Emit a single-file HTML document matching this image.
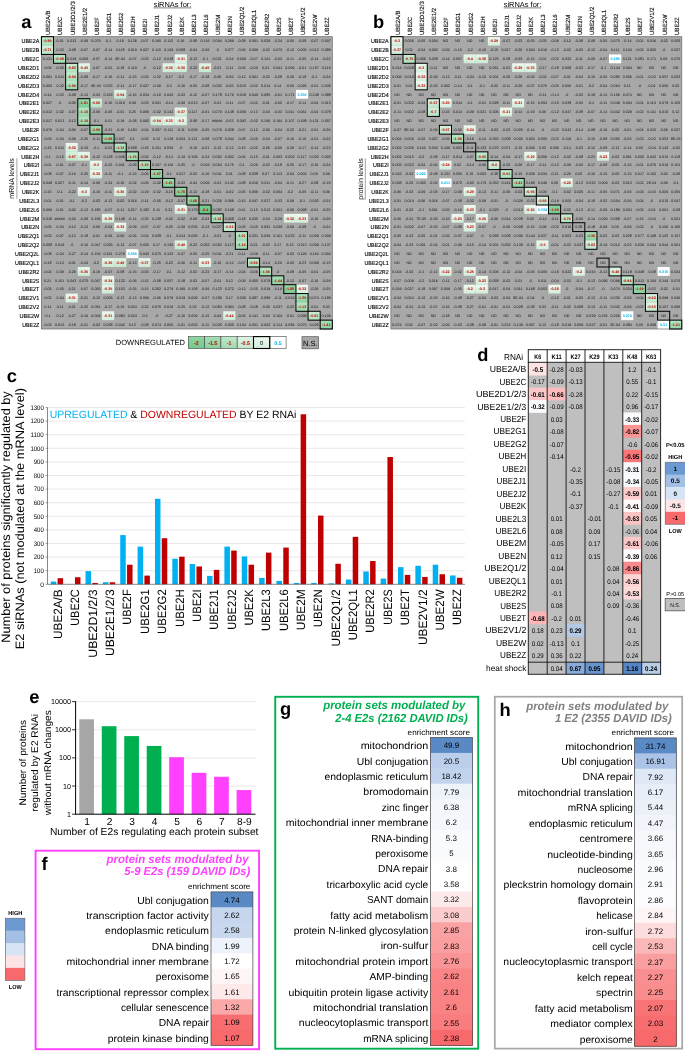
<!DOCTYPE html>
<html lang="en"><head><meta charset="utf-8"><title>Figure</title>
<style>
html,body{margin:0;padding:0;background:#fff;}
body{width:685px;height:1051px;overflow:hidden;position:relative;}
svg{position:absolute;left:0;top:0;display:block;font-family:"Liberation Sans",Arial,Helvetica,sans-serif;fill:#000;}
svg text{white-space:pre;text-rendering:geometricPrecision;}
</style></head><body>
<svg width="685" height="1051" viewBox="0 0 685 1051">
<defs>
<linearGradient id="gd" x1="0" y1="0" x2="0" y2="1"><stop offset="0" stop-color="#d6eedc"/><stop offset="1" stop-color="#9ad7ab"/></linearGradient>
<linearGradient id="gd2" x1="0" y1="0" x2="0" y2="1"><stop offset="0" stop-color="#a5dbb4"/><stop offset="1" stop-color="#57b974"/></linearGradient>
<linearGradient id="gl" x1="0" y1="0" x2="0" y2="1"><stop offset="0" stop-color="#ecf7ef"/><stop offset="1" stop-color="#d3ecd9"/></linearGradient>
<linearGradient id="lg" x1="0" y1="0" x2="0" y2="1"><stop offset="0" stop-color="#5585c5"/><stop offset="0.2" stop-color="#7fa5d9"/><stop offset="0.4" stop-color="#c3d4ee"/><stop offset="0.58" stop-color="#f4f6fc"/><stop offset="0.62" stop-color="#fdeeee"/><stop offset="0.8" stop-color="#fbc6c7"/><stop offset="0.81" stop-color="#f98384"/><stop offset="1" stop-color="#f8696b"/></linearGradient>
</defs>
<defs><linearGradient id="g9" x1="0" y1="0" x2="0" y2="1"><stop offset="0" stop-color="#c6ebd0"/><stop offset="1" stop-color="#a7deb7"/></linearGradient><linearGradient id="g7" x1="0" y1="0" x2="0" y2="1"><stop offset="0" stop-color="#d3f0db"/><stop offset="1" stop-color="#b5e3c3"/></linearGradient><linearGradient id="g10" x1="0" y1="0" x2="0" y2="1"><stop offset="0" stop-color="#bfe9ca"/><stop offset="1" stop-color="#a0dbb1"/></linearGradient><linearGradient id="g3" x1="0" y1="0" x2="0" y2="1"><stop offset="0" stop-color="#eef9f0"/><stop offset="1" stop-color="#d2edda"/></linearGradient><linearGradient id="g8" x1="0" y1="0" x2="0" y2="1"><stop offset="0" stop-color="#ccedd5"/><stop offset="1" stop-color="#aee0bd"/></linearGradient><linearGradient id="g4" x1="0" y1="0" x2="0" y2="1"><stop offset="0" stop-color="#e7f7eb"/><stop offset="1" stop-color="#cbead4"/></linearGradient><linearGradient id="g5" x1="0" y1="0" x2="0" y2="1"><stop offset="0" stop-color="#e1f4e5"/><stop offset="1" stop-color="#c4e8ce"/></linearGradient><linearGradient id="g11" x1="0" y1="0" x2="0" y2="1"><stop offset="0" stop-color="#b8e6c5"/><stop offset="1" stop-color="#98d9ab"/></linearGradient><linearGradient id="g18" x1="0" y1="0" x2="0" y2="1"><stop offset="0" stop-color="#98daab"/><stop offset="1" stop-color="#7acd93"/></linearGradient><linearGradient id="g12" x1="0" y1="0" x2="0" y2="1"><stop offset="0" stop-color="#b3e5c1"/><stop offset="1" stop-color="#94d7a7"/></linearGradient><linearGradient id="g16" x1="0" y1="0" x2="0" y2="1"><stop offset="0" stop-color="#a1ddb2"/><stop offset="1" stop-color="#83d09a"/></linearGradient><linearGradient id="g17" x1="0" y1="0" x2="0" y2="1"><stop offset="0" stop-color="#9ddcaf"/><stop offset="1" stop-color="#7fce97"/></linearGradient><linearGradient id="g6" x1="0" y1="0" x2="0" y2="1"><stop offset="0" stop-color="#daf2e0"/><stop offset="1" stop-color="#bce5c8"/></linearGradient><linearGradient id="g24" x1="0" y1="0" x2="0" y2="1"><stop offset="0" stop-color="#7dcf95"/><stop offset="1" stop-color="#61c37f"/></linearGradient><linearGradient id="g14" x1="0" y1="0" x2="0" y2="1"><stop offset="0" stop-color="#aae1ba"/><stop offset="1" stop-color="#8bd3a1"/></linearGradient><linearGradient id="g19" x1="0" y1="0" x2="0" y2="1"><stop offset="0" stop-color="#94d8a7"/><stop offset="1" stop-color="#76cb90"/></linearGradient><linearGradient id="g20" x1="0" y1="0" x2="0" y2="1"><stop offset="0" stop-color="#8fd6a4"/><stop offset="1" stop-color="#72ca8c"/></linearGradient><linearGradient id="g15" x1="0" y1="0" x2="0" y2="1"><stop offset="0" stop-color="#a6dfb6"/><stop offset="1" stop-color="#87d29d"/></linearGradient></defs>
<rect x="41.4" y="36.7" width="290.9" height="292.3" fill="#a8a8a8"/>
<rect x="41.4" y="36.7" width="12.12" height="8.86" fill="url(#g9)"/>
<rect x="41.4" y="45.56" width="12.12" height="8.86" fill="url(#g7)"/>
<rect x="53.52" y="54.42" width="12.12" height="8.86" fill="url(#g10)"/>
<rect x="174.73" y="54.42" width="12.12" height="8.86" fill="url(#g3)"/>
<rect x="65.64" y="63.27" width="12.12" height="8.86" fill="url(#g8)"/>
<rect x="77.76" y="63.27" width="12.12" height="8.86" fill="url(#g4)"/>
<rect x="162.61" y="63.27" width="12.12" height="8.86" fill="url(#g4)"/>
<rect x="174.73" y="63.27" width="12.12" height="8.86" fill="url(#g4)"/>
<rect x="198.97" y="63.27" width="12.12" height="8.86" fill="url(#g5)"/>
<rect x="65.64" y="72.13" width="12.12" height="8.86" fill="url(#g9)"/>
<rect x="65.64" y="80.99" width="12.12" height="8.86" fill="url(#g11)"/>
<rect x="114.12" y="89.85" width="12.12" height="8.86" fill="url(#g5)"/>
<rect x="295.94" y="89.85" width="12.12" height="8.86" fill="#fff"/>
<rect x="77.76" y="98.7" width="12.12" height="8.86" fill="url(#g18)"/>
<rect x="89.88" y="98.7" width="12.12" height="8.86" fill="url(#g7)"/>
<rect x="77.76" y="107.56" width="12.12" height="8.86" fill="url(#g12)"/>
<rect x="174.73" y="107.56" width="12.12" height="8.86" fill="url(#g4)"/>
<rect x="77.76" y="116.42" width="12.12" height="8.86" fill="url(#g12)"/>
<rect x="150.49" y="116.42" width="12.12" height="8.86" fill="url(#g5)"/>
<rect x="162.61" y="116.42" width="12.12" height="8.86" fill="url(#g3)"/>
<rect x="174.73" y="116.42" width="12.12" height="8.86" fill="url(#g3)"/>
<rect x="89.88" y="125.28" width="12.12" height="8.86" fill="url(#g16)"/>
<rect x="102" y="134.13" width="12.12" height="8.86" fill="url(#g17)"/>
<rect x="65.64" y="142.99" width="12.12" height="8.86" fill="url(#g3)"/>
<rect x="114.12" y="142.99" width="12.12" height="8.86" fill="url(#g11)"/>
<rect x="65.64" y="151.85" width="12.12" height="8.86" fill="url(#g6)"/>
<rect x="77.76" y="151.85" width="12.12" height="8.86" fill="url(#g4)"/>
<rect x="126.25" y="151.85" width="12.12" height="8.86" fill="url(#g12)"/>
<rect x="89.88" y="160.71" width="12.12" height="8.86" fill="url(#g3)"/>
<rect x="138.37" y="160.71" width="12.12" height="8.86" fill="url(#g12)"/>
<rect x="89.88" y="169.56" width="12.12" height="8.86" fill="url(#g3)"/>
<rect x="150.49" y="169.56" width="12.12" height="8.86" fill="url(#g17)"/>
<rect x="162.61" y="178.42" width="12.12" height="8.86" fill="url(#g16)"/>
<rect x="77.76" y="187.28" width="12.12" height="8.86" fill="url(#g3)"/>
<rect x="114.12" y="187.28" width="12.12" height="8.86" fill="url(#g4)"/>
<rect x="174.73" y="187.28" width="12.12" height="8.86" fill="url(#g18)"/>
<rect x="186.85" y="196.14" width="12.12" height="8.86" fill="url(#g17)"/>
<rect x="174.73" y="204.99" width="12.12" height="8.86" fill="url(#g3)"/>
<rect x="198.97" y="204.99" width="12.12" height="8.86" fill="url(#g24)"/>
<rect x="102" y="213.85" width="12.12" height="8.86" fill="url(#g4)"/>
<rect x="211.09" y="213.85" width="12.12" height="8.86" fill="url(#g11)"/>
<rect x="283.82" y="213.85" width="12.12" height="8.86" fill="url(#g3)"/>
<rect x="295.94" y="213.85" width="12.12" height="8.86" fill="url(#g3)"/>
<rect x="114.12" y="222.71" width="12.12" height="8.86" fill="url(#g3)"/>
<rect x="223.21" y="222.71" width="12.12" height="8.86" fill="url(#g6)"/>
<rect x="235.33" y="231.57" width="12.12" height="8.86" fill="url(#g10)"/>
<rect x="174.73" y="240.42" width="12.12" height="8.86" fill="url(#g5)"/>
<rect x="235.33" y="240.42" width="12.12" height="8.86" fill="url(#g11)"/>
<rect x="126.25" y="249.28" width="12.12" height="8.86" fill="#fff"/>
<rect x="102" y="258.14" width="12.12" height="8.86" fill="url(#g4)"/>
<rect x="114.12" y="258.14" width="12.12" height="8.86" fill="url(#g5)"/>
<rect x="138.37" y="258.14" width="12.12" height="8.86" fill="url(#g4)"/>
<rect x="198.97" y="258.14" width="12.12" height="8.86" fill="url(#g3)"/>
<rect x="247.45" y="258.14" width="12.12" height="8.86" fill="url(#g9)"/>
<rect x="77.76" y="267" width="12.12" height="8.86" fill="url(#g4)"/>
<rect x="259.58" y="267" width="12.12" height="8.86" fill="url(#g11)"/>
<rect x="102" y="275.85" width="12.12" height="8.86" fill="url(#g3)"/>
<rect x="271.7" y="275.85" width="12.12" height="8.86" fill="url(#g14)"/>
<rect x="102" y="284.71" width="12.12" height="8.86" fill="url(#g4)"/>
<rect x="283.82" y="284.71" width="12.12" height="8.86" fill="url(#g19)"/>
<rect x="295.94" y="284.71" width="12.12" height="8.86" fill="url(#g3)"/>
<rect x="65.64" y="293.57" width="12.12" height="8.86" fill="url(#g3)"/>
<rect x="295.94" y="293.57" width="12.12" height="8.86" fill="url(#g14)"/>
<rect x="295.94" y="302.43" width="12.12" height="8.86" fill="url(#g11)"/>
<rect x="102" y="311.28" width="12.12" height="8.86" fill="url(#g3)"/>
<rect x="223.21" y="311.28" width="12.12" height="8.86" fill="url(#g4)"/>
<rect x="308.06" y="311.28" width="12.12" height="8.86" fill="url(#g8)"/>
<rect x="320.18" y="320.14" width="12.12" height="8.86" fill="url(#g14)"/>
<rect x="41.4" y="36.7" width="290.9" height="292.3" fill="none" stroke="#666" stroke-width="0.7"/>
<rect x="41.4" y="36.7" width="12.12" height="17.72" fill="none" stroke="#000" stroke-width="1"/>
<rect x="53.52" y="54.42" width="12.12" height="8.86" fill="none" stroke="#000" stroke-width="1"/>
<rect x="65.64" y="63.27" width="12.12" height="26.57" fill="none" stroke="#000" stroke-width="1"/>
<rect x="77.76" y="98.7" width="12.12" height="26.57" fill="none" stroke="#000" stroke-width="1"/>
<rect x="89.88" y="125.28" width="12.12" height="8.86" fill="none" stroke="#000" stroke-width="1"/>
<rect x="102" y="134.13" width="12.12" height="8.86" fill="none" stroke="#000" stroke-width="1"/>
<rect x="114.12" y="142.99" width="12.12" height="8.86" fill="none" stroke="#000" stroke-width="1"/>
<rect x="126.25" y="151.85" width="12.12" height="8.86" fill="none" stroke="#000" stroke-width="1"/>
<rect x="138.37" y="160.71" width="12.12" height="8.86" fill="none" stroke="#000" stroke-width="1"/>
<rect x="150.49" y="169.56" width="12.12" height="8.86" fill="none" stroke="#000" stroke-width="1"/>
<rect x="162.61" y="178.42" width="12.12" height="8.86" fill="none" stroke="#000" stroke-width="1"/>
<rect x="174.73" y="187.28" width="12.12" height="8.86" fill="none" stroke="#000" stroke-width="1"/>
<rect x="186.85" y="196.14" width="12.12" height="8.86" fill="none" stroke="#000" stroke-width="1"/>
<rect x="198.97" y="204.99" width="12.12" height="8.86" fill="none" stroke="#000" stroke-width="1"/>
<rect x="211.09" y="213.85" width="12.12" height="8.86" fill="none" stroke="#000" stroke-width="1"/>
<rect x="223.21" y="222.71" width="12.12" height="8.86" fill="none" stroke="#000" stroke-width="1"/>
<rect x="235.33" y="231.57" width="12.12" height="17.72" fill="none" stroke="#000" stroke-width="1"/>
<rect x="247.45" y="258.14" width="12.12" height="8.86" fill="none" stroke="#000" stroke-width="1"/>
<rect x="259.58" y="267" width="12.12" height="8.86" fill="none" stroke="#000" stroke-width="1"/>
<rect x="271.7" y="275.85" width="12.12" height="8.86" fill="none" stroke="#000" stroke-width="1"/>
<rect x="283.82" y="284.71" width="12.12" height="8.86" fill="none" stroke="#000" stroke-width="1"/>
<rect x="295.94" y="293.57" width="12.12" height="17.72" fill="none" stroke="#000" stroke-width="1"/>
<rect x="308.06" y="311.28" width="12.12" height="8.86" fill="none" stroke="#000" stroke-width="1"/>
<rect x="320.18" y="320.14" width="12.12" height="8.86" fill="none" stroke="#000" stroke-width="1"/>
<g font-size="3.7" text-anchor="middle" fill="#111">
<text x="47.46" y="42.48" fill="#c00000" font-weight="bold">-0.89</text>
<text x="59.58" y="42.48">-0.01</text>
<text x="71.7" y="42.48">0.013</text>
<text x="83.82" y="42.48">-0.09</text>
<text x="95.94" y="42.48">0.079</text>
<text x="108.06" y="42.48">-0.1</text>
<text x="120.19" y="42.48">0.16</text>
<text x="132.31" y="42.48">0.136</text>
<text x="144.43" y="42.48">-0.07</text>
<text x="156.55" y="42.48">0.165</text>
<text x="168.67" y="42.48">0.112</text>
<text x="180.79" y="42.48">0.16</text>
<text x="192.91" y="42.48">-0.08</text>
<text x="205.03" y="42.48">0.116</text>
<text x="217.15" y="42.48">0.094</text>
<text x="229.27" y="42.48">0.269</text>
<text x="241.39" y="42.48">-0.08</text>
<text x="253.51" y="42.48">0.061</text>
<text x="265.64" y="42.48">0.029</text>
<text x="277.76" y="42.48">-0.24</text>
<text x="289.88" y="42.48">-0.05</text>
<text x="302" y="42.48">-0.08</text>
<text x="314.12" y="42.48">-0.07</text>
<text x="326.24" y="42.48">0.007</text>
<text x="47.46" y="51.34" fill="#c00000" font-weight="bold">-0.71</text>
<text x="59.58" y="51.34">-0.03</text>
<text x="71.7" y="51.34">-0.08</text>
<text x="83.82" y="51.34">-0.07</text>
<text x="95.94" y="51.34">-0.07</text>
<text x="108.06" y="51.34">-0.14</text>
<text x="120.19" y="51.34">0.118</text>
<text x="132.31" y="51.34">0.019</text>
<text x="144.43" y="51.34">0.027</text>
<text x="156.55" y="51.34">0.115</text>
<text x="168.67" y="51.34">0.109</text>
<text x="180.79" y="51.34">0.068</text>
<text x="192.91" y="51.34">-0.04</text>
<text x="205.03" y="51.34">-0.09</text>
<text x="217.15" y="51.34">-0</text>
<text x="229.27" y="51.34">0.077</text>
<text x="241.39" y="51.34">-0.06</text>
<text x="253.51" y="51.34">0.009</text>
<text x="265.64" y="51.34">-0.03</text>
<text x="277.76" y="51.34">0.075</text>
<text x="289.88" y="51.34">-0.12</text>
<text x="302" y="51.34">0.005</text>
<text x="314.12" y="51.34">0.012</text>
<text x="326.24" y="51.34">0.089</text>
<text x="47.46" y="60.19">0.131</text>
<text x="59.58" y="60.19" fill="#c00000" font-weight="bold">-0.98</text>
<text x="71.7" y="60.19">0.019</text>
<text x="83.82" y="60.19">0.005</text>
<text x="95.94" y="60.19">-0.07</text>
<text x="108.06" y="60.19">-0.14</text>
<text x="120.19" y="60.19">9E-04</text>
<text x="132.31" y="60.19">-0.07</text>
<text x="144.43" y="60.19">-0.03</text>
<text x="156.55" y="60.19">-0.12</text>
<text x="168.67" y="60.19">0.018</text>
<text x="180.79" y="60.19" fill="#c00000" font-weight="bold">-0.31</text>
<text x="192.91" y="60.19">-0.13</text>
<text x="205.03" y="60.19">-0.1</text>
<text x="217.15" y="60.19">0.021</text>
<text x="229.27" y="60.19">-0.04</text>
<text x="241.39" y="60.19">0.009</text>
<text x="253.51" y="60.19">-0.07</text>
<text x="265.64" y="60.19">0.101</text>
<text x="277.76" y="60.19">-0.03</text>
<text x="289.88" y="60.19">-0.11</text>
<text x="302" y="60.19">-0.05</text>
<text x="314.12" y="60.19">-0.14</text>
<text x="326.24" y="60.19">-0.02</text>
<text x="47.46" y="69.05">-0.06</text>
<text x="59.58" y="69.05">-0.05</text>
<text x="71.7" y="69.05" fill="#c00000" font-weight="bold">-0.83</text>
<text x="83.82" y="69.05" fill="#c00000" font-weight="bold">-0.43</text>
<text x="95.94" y="69.05">-0.07</text>
<text x="108.06" y="69.05">-0.01</text>
<text x="120.19" y="69.05">-0.18</text>
<text x="132.31" y="69.05">0.119</text>
<text x="144.43" y="69.05">-0</text>
<text x="156.55" y="69.05">-0.12</text>
<text x="168.67" y="69.05" fill="#c00000" font-weight="bold">-0.36</text>
<text x="180.79" y="69.05" fill="#c00000" font-weight="bold">-0.36</text>
<text x="192.91" y="69.05">-0.22</text>
<text x="205.03" y="69.05" fill="#c00000" font-weight="bold">-0.49</text>
<text x="217.15" y="69.05">-0.01</text>
<text x="229.27" y="69.05">-0.11</text>
<text x="241.39" y="69.05">-0.06</text>
<text x="253.51" y="69.05">-0.05</text>
<text x="265.64" y="69.05">0.01</text>
<text x="277.76" y="69.05">0.041</text>
<text x="289.88" y="69.05">0.069</text>
<text x="302" y="69.05">-0.01</text>
<text x="314.12" y="69.05">0.157</text>
<text x="326.24" y="69.05">0.116</text>
<text x="47.46" y="77.91">0.061</text>
<text x="59.58" y="77.91">0.011</text>
<text x="71.7" y="77.91" fill="#c00000" font-weight="bold">-0.94</text>
<text x="83.82" y="77.91">-0.08</text>
<text x="95.94" y="77.91">-0.17</text>
<text x="108.06" y="77.91">-0.16</text>
<text x="120.19" y="77.91">-0.11</text>
<text x="132.31" y="77.91">-0.15</text>
<text x="144.43" y="77.91">-0.03</text>
<text x="156.55" y="77.91">-0.32</text>
<text x="168.67" y="77.91">-0.17</text>
<text x="180.79" y="77.91">-0.2</text>
<text x="192.91" y="77.91">-0.17</text>
<text x="205.03" y="77.91">-0.18</text>
<text x="217.15" y="77.91">-0.06</text>
<text x="229.27" y="77.91">-0.06</text>
<text x="241.39" y="77.91">-0.12</text>
<text x="253.51" y="77.91">0.061</text>
<text x="265.64" y="77.91">-0.32</text>
<text x="277.76" y="77.91">-0.08</text>
<text x="289.88" y="77.91">-0.29</text>
<text x="302" y="77.91">-0.18</text>
<text x="314.12" y="77.91">-0.1</text>
<text x="326.24" y="77.91">-0.04</text>
<text x="47.46" y="86.77">0.003</text>
<text x="59.58" y="86.77">-0.32</text>
<text x="71.7" y="86.77" fill="#c00000" font-weight="bold">-1.06</text>
<text x="83.82" y="86.77">-0.17</text>
<text x="95.94" y="86.77">9E-04</text>
<text x="108.06" y="86.77">0.033</text>
<text x="120.19" y="86.77">-0.11</text>
<text x="132.31" y="86.77">-0.17</text>
<text x="144.43" y="86.77">0.027</text>
<text x="156.55" y="86.77">-0.09</text>
<text x="168.67" y="86.77">-0.3</text>
<text x="180.79" y="86.77">-0.16</text>
<text x="192.91" y="86.77">-0.05</text>
<text x="205.03" y="86.77">-0.08</text>
<text x="217.15" y="86.77">0.002</text>
<text x="229.27" y="86.77">-0.05</text>
<text x="241.39" y="86.77">0.015</text>
<text x="253.51" y="86.77">-0.02</text>
<text x="265.64" y="86.77">0.014</text>
<text x="277.76" y="86.77">0.14</text>
<text x="289.88" y="86.77">-0.05</text>
<text x="302" y="86.77">0.026</text>
<text x="314.12" y="86.77">-0.01</text>
<text x="326.24" y="86.77">0.036</text>
<text x="47.46" y="95.62">-0.14</text>
<text x="59.58" y="95.62">-0.03</text>
<text x="71.7" y="95.62">-0.08</text>
<text x="83.82" y="95.62">-0.13</text>
<text x="95.94" y="95.62">-0.24</text>
<text x="108.06" y="95.62">0.163</text>
<text x="120.19" y="95.62" fill="#c00000" font-weight="bold">-0.54</text>
<text x="132.31" y="95.62">-0.16</text>
<text x="144.43" y="95.62">0.034</text>
<text x="156.55" y="95.62">-0.19</text>
<text x="168.67" y="95.62">0.042</text>
<text x="180.79" y="95.62">-0.03</text>
<text x="192.91" y="95.62">-0.12</text>
<text x="205.03" y="95.62">-0.07</text>
<text x="217.15" y="95.62">0.178</text>
<text x="229.27" y="95.62">0.176</text>
<text x="241.39" y="95.62">0.018</text>
<text x="253.51" y="95.62">0.049</text>
<text x="265.64" y="95.62">0.085</text>
<text x="277.76" y="95.62">-0.01</text>
<text x="289.88" y="95.62">0.171</text>
<text x="302" y="95.62" fill="#00b0f0" font-weight="bold">0.336</text>
<text x="314.12" y="95.62">0.248</text>
<text x="326.24" y="95.62">0.088</text>
<text x="47.46" y="104.48">0.027</text>
<text x="59.58" y="104.48">-0</text>
<text x="71.7" y="104.48">-0.05</text>
<text x="83.82" y="104.48" fill="#c00000" font-weight="bold">-1.81</text>
<text x="95.94" y="104.48" fill="#c00000" font-weight="bold">-0.66</text>
<text x="108.06" y="104.48">-0.16</text>
<text x="120.19" y="104.48">0.019</text>
<text x="132.31" y="104.48">0.09</text>
<text x="144.43" y="104.48">-0.03</text>
<text x="156.55" y="104.48">0.001</text>
<text x="168.67" y="104.48">-0.14</text>
<text x="180.79" y="104.48">-0.09</text>
<text x="192.91" y="104.48">0.013</text>
<text x="205.03" y="104.48">-0.07</text>
<text x="217.15" y="104.48">-0.01</text>
<text x="229.27" y="104.48">-0.11</text>
<text x="241.39" y="104.48">-0.07</text>
<text x="253.51" y="104.48">-0.02</text>
<text x="265.64" y="104.48">-0.01</text>
<text x="277.76" y="104.48">-0.02</text>
<text x="289.88" y="104.48">-0.17</text>
<text x="302" y="104.48">-0.14</text>
<text x="314.12" y="104.48">-0.04</text>
<text x="326.24" y="104.48">0.013</text>
<text x="47.46" y="113.34">0.013</text>
<text x="59.58" y="113.34">-0.02</text>
<text x="71.7" y="113.34">-0.07</text>
<text x="83.82" y="113.34" fill="#c00000" font-weight="bold">-1.16</text>
<text x="95.94" y="113.34">-0.06</text>
<text x="108.06" y="113.34">-0.06</text>
<text x="120.19" y="113.34">-0.01</text>
<text x="132.31" y="113.34">0.25</text>
<text x="144.43" y="113.34">0.066</text>
<text x="156.55" y="113.34">-0.02</text>
<text x="168.67" y="113.34">0.142</text>
<text x="180.79" y="113.34" fill="#c00000" font-weight="bold">-0.37</text>
<text x="192.91" y="113.34">0.117</text>
<text x="205.03" y="113.34">-0.01</text>
<text x="217.15" y="113.34">0.079</text>
<text x="229.27" y="113.34">0.148</text>
<text x="241.39" y="113.34">0.059</text>
<text x="253.51" y="113.34">-0.13</text>
<text x="265.64" y="113.34">-0.04</text>
<text x="277.76" y="113.34">-0.03</text>
<text x="289.88" y="113.34">0.011</text>
<text x="302" y="113.34">0.061</text>
<text x="314.12" y="113.34">-0.04</text>
<text x="326.24" y="113.34">0.078</text>
<text x="47.46" y="122.2">0.017</text>
<text x="59.58" y="122.2">0.013</text>
<text x="71.7" y="122.2">-0.13</text>
<text x="83.82" y="122.2" fill="#c00000" font-weight="bold">-1.16</text>
<text x="95.94" y="122.2">-0.1</text>
<text x="108.06" y="122.2">-0.01</text>
<text x="120.19" y="122.2">-0.19</text>
<text x="132.31" y="122.2">-0.08</text>
<text x="144.43" y="122.2">0.092</text>
<text x="156.55" y="122.2" fill="#c00000" font-weight="bold">-0.54</text>
<text x="168.67" y="122.2" fill="#c00000" font-weight="bold">-0.33</text>
<text x="180.79" y="122.2" fill="#c00000" font-weight="bold">-0.3</text>
<text x="192.91" y="122.2">-0.08</text>
<text x="205.03" y="122.2">-0.17</text>
<text x="217.15" y="122.2">#####</text>
<text x="229.27" y="122.2">-0.03</text>
<text x="241.39" y="122.2">0.093</text>
<text x="253.51" y="122.2">-0.02</text>
<text x="265.64" y="122.2">0.166</text>
<text x="277.76" y="122.2">0.194</text>
<text x="289.88" y="122.2">0.107</text>
<text x="302" y="122.2">0.198</text>
<text x="314.12" y="122.2">0.121</text>
<text x="326.24" y="122.2">0.057</text>
<text x="47.46" y="131.05">0.076</text>
<text x="59.58" y="131.05">-0.04</text>
<text x="71.7" y="131.05">-0.06</text>
<text x="83.82" y="131.05">-0.07</text>
<text x="95.94" y="131.05" fill="#c00000" font-weight="bold">-1.59</text>
<text x="108.06" y="131.05">-0.21</text>
<text x="120.19" y="131.05">-0.16</text>
<text x="132.31" y="131.05">0.184</text>
<text x="144.43" y="131.05">-0.04</text>
<text x="156.55" y="131.05">0.007</text>
<text x="168.67" y="131.05">0.111</text>
<text x="180.79" y="131.05">-0.11</text>
<text x="192.91" y="131.05">0.069</text>
<text x="205.03" y="131.05">-0.05</text>
<text x="217.15" y="131.05">0.079</text>
<text x="229.27" y="131.05">0.028</text>
<text x="241.39" y="131.05">-0.07</text>
<text x="253.51" y="131.05">-0.12</text>
<text x="265.64" y="131.05">-0.05</text>
<text x="277.76" y="131.05">-0.04</text>
<text x="289.88" y="131.05">-0.23</text>
<text x="302" y="131.05">-0.21</text>
<text x="314.12" y="131.05">-0.01</text>
<text x="326.24" y="131.05">-0.06</text>
<text x="47.46" y="139.91">-0.09</text>
<text x="59.58" y="139.91">-0.04</text>
<text x="71.7" y="139.91">-0.09</text>
<text x="83.82" y="139.91">-0.25</text>
<text x="95.94" y="139.91">-0.11</text>
<text x="108.06" y="139.91" fill="#c00000" font-weight="bold">-1.68</text>
<text x="120.19" y="139.91">0.047</text>
<text x="132.31" y="139.91">0.1</text>
<text x="144.43" y="139.91">-0.02</text>
<text x="156.55" y="139.91">0.13</text>
<text x="168.67" y="139.91">0.129</text>
<text x="180.79" y="139.91">0.054</text>
<text x="192.91" y="139.91">0.121</text>
<text x="205.03" y="139.91">-0.08</text>
<text x="217.15" y="139.91">0.078</text>
<text x="229.27" y="139.91">0.044</text>
<text x="241.39" y="139.91">-0.08</text>
<text x="253.51" y="139.91">-0.06</text>
<text x="265.64" y="139.91">-0.04</text>
<text x="277.76" y="139.91">-0.07</text>
<text x="289.88" y="139.91">-0.16</text>
<text x="302" y="139.91">-0.16</text>
<text x="314.12" y="139.91">-0.01</text>
<text x="326.24" y="139.91">-0.02</text>
<text x="47.46" y="148.77">-0.15</text>
<text x="59.58" y="148.77">0.011</text>
<text x="71.7" y="148.77" fill="#c00000" font-weight="bold">-0.32</text>
<text x="83.82" y="148.77">-0.15</text>
<text x="95.94" y="148.77">-0.1</text>
<text x="108.06" y="148.77">-0.01</text>
<text x="120.19" y="148.77" fill="#c00000" font-weight="bold">-1.13</text>
<text x="132.31" y="148.77">0.058</text>
<text x="144.43" y="148.77">-0.18</text>
<text x="156.55" y="148.77">0.151</text>
<text x="168.67" y="148.77">0.055</text>
<text x="180.79" y="148.77">-0</text>
<text x="192.91" y="148.77">-0.19</text>
<text x="205.03" y="148.77">-0.01</text>
<text x="217.15" y="148.77">-0.13</text>
<text x="229.27" y="148.77">-0.12</text>
<text x="241.39" y="148.77">-0.15</text>
<text x="253.51" y="148.77">-0.02</text>
<text x="265.64" y="148.77">-0.26</text>
<text x="277.76" y="148.77">-0.09</text>
<text x="289.88" y="148.77">-0.29</text>
<text x="302" y="148.77">-0.17</text>
<text x="314.12" y="148.77">-0.14</text>
<text x="326.24" y="148.77">-0.03</text>
<text x="47.46" y="157.63">-0.1</text>
<text x="59.58" y="157.63">-0.15</text>
<text x="71.7" y="157.63" fill="#c00000" font-weight="bold">-0.57</text>
<text x="83.82" y="157.63" fill="#c00000" font-weight="bold">-0.39</text>
<text x="95.94" y="157.63">-0.12</text>
<text x="108.06" y="157.63">0.138</text>
<text x="120.19" y="157.63">0.046</text>
<text x="132.31" y="157.63" fill="#c00000" font-weight="bold">-1.15</text>
<text x="144.43" y="157.63">-0.02</text>
<text x="156.55" y="157.63">-0.12</text>
<text x="168.67" y="157.63">-0.14</text>
<text x="180.79" y="157.63">-0.19</text>
<text x="192.91" y="157.63">0.156</text>
<text x="205.03" y="157.63">-0.24</text>
<text x="217.15" y="157.63">0.062</text>
<text x="229.27" y="157.63">0.003</text>
<text x="241.39" y="157.63">-0.04</text>
<text x="253.51" y="157.63">-0.15</text>
<text x="265.64" y="157.63">-0.01</text>
<text x="277.76" y="157.63">0.063</text>
<text x="289.88" y="157.63">0.002</text>
<text x="302" y="157.63">0.117</text>
<text x="314.12" y="157.63">0.003</text>
<text x="326.24" y="157.63">0.003</text>
<text x="47.46" y="166.48">-0.01</text>
<text x="59.58" y="166.48">-0.01</text>
<text x="71.7" y="166.48">-0.07</text>
<text x="83.82" y="166.48">-0.1</text>
<text x="95.94" y="166.48" fill="#c00000" font-weight="bold">-0.3</text>
<text x="108.06" y="166.48">-0.22</text>
<text x="120.19" y="166.48">0.041</text>
<text x="132.31" y="166.48">-0.06</text>
<text x="144.43" y="166.48" fill="#c00000" font-weight="bold">-1.16</text>
<text x="156.55" y="166.48">0.157</text>
<text x="168.67" y="166.48">0.119</text>
<text x="180.79" y="166.48">-0.05</text>
<text x="192.91" y="166.48">-0</text>
<text x="205.03" y="166.48">0.016</text>
<text x="217.15" y="166.48">0.054</text>
<text x="229.27" y="166.48">0.175</text>
<text x="241.39" y="166.48">-0.1</text>
<text x="253.51" y="166.48">-0.06</text>
<text x="265.64" y="166.48">-0.03</text>
<text x="277.76" y="166.48">-0.18</text>
<text x="289.88" y="166.48">-0.25</text>
<text x="302" y="166.48">-0.17</text>
<text x="314.12" y="166.48">-0.16</text>
<text x="326.24" y="166.48">-0.04</text>
<text x="47.46" y="175.34">-0.08</text>
<text x="59.58" y="175.34">-0.07</text>
<text x="71.7" y="175.34">-0.16</text>
<text x="83.82" y="175.34">-0.25</text>
<text x="95.94" y="175.34" fill="#c00000" font-weight="bold">-0.32</text>
<text x="108.06" y="175.34">-0.11</text>
<text x="120.19" y="175.34">-0.1</text>
<text x="132.31" y="175.34">-0.15</text>
<text x="144.43" y="175.34">-0.06</text>
<text x="156.55" y="175.34" fill="#c00000" font-weight="bold">-1.67</text>
<text x="168.67" y="175.34">-0.1</text>
<text x="180.79" y="175.34">0.017</text>
<text x="192.91" y="175.34">-0.03</text>
<text x="205.03" y="175.34">-0.16</text>
<text x="217.15" y="175.34">0.041</text>
<text x="229.27" y="175.34">0.01</text>
<text x="241.39" y="175.34">-0.08</text>
<text x="253.51" y="175.34">0.038</text>
<text x="265.64" y="175.34">0.07</text>
<text x="277.76" y="175.34">0.113</text>
<text x="289.88" y="175.34">-0.04</text>
<text x="302" y="175.34">0.002</text>
<text x="314.12" y="175.34">0.05</text>
<text x="326.24" y="175.34">0.09</text>
<text x="47.46" y="184.2">0.048</text>
<text x="59.58" y="184.2">0.027</text>
<text x="71.7" y="184.2">-0.11</text>
<text x="83.82" y="184.2">-0.14</text>
<text x="95.94" y="184.2">-0.06</text>
<text x="108.06" y="184.2">-0.24</text>
<text x="120.19" y="184.2">-0.16</text>
<text x="132.31" y="184.2">-0.02</text>
<text x="144.43" y="184.2">-0.06</text>
<text x="156.55" y="184.2">-0.02</text>
<text x="168.67" y="184.2" fill="#c00000" font-weight="bold">-1.61</text>
<text x="180.79" y="184.2">-0.03</text>
<text x="192.91" y="184.2">-0.04</text>
<text x="205.03" y="184.2">0.006</text>
<text x="217.15" y="184.2">-0.01</text>
<text x="229.27" y="184.2">0.143</text>
<text x="241.39" y="184.2">-0.08</text>
<text x="253.51" y="184.2">0.016</text>
<text x="265.64" y="184.2">0.011</text>
<text x="277.76" y="184.2">-0.04</text>
<text x="289.88" y="184.2">-0.11</text>
<text x="302" y="184.2">-0.27</text>
<text x="314.12" y="184.2">-0.08</text>
<text x="326.24" y="184.2">-0.19</text>
<text x="47.46" y="193.06">-0.15</text>
<text x="59.58" y="193.06">-0.1</text>
<text x="71.7" y="193.06">-0.22</text>
<text x="83.82" y="193.06" fill="#c00000" font-weight="bold">-0.3</text>
<text x="95.94" y="193.06">-0.16</text>
<text x="108.06" y="193.06">-0.11</text>
<text x="120.19" y="193.06" fill="#c00000" font-weight="bold">-0.36</text>
<text x="132.31" y="193.06">-0.02</text>
<text x="144.43" y="193.06">-0.19</text>
<text x="156.55" y="193.06">-0.02</text>
<text x="168.67" y="193.06">-0.15</text>
<text x="180.79" y="193.06" fill="#c00000" font-weight="bold">-1.76</text>
<text x="192.91" y="193.06">-0.13</text>
<text x="205.03" y="193.06">-0.18</text>
<text x="217.15" y="193.06">-0.01</text>
<text x="229.27" y="193.06">-0.02</text>
<text x="241.39" y="193.06">-0.05</text>
<text x="253.51" y="193.06">0.056</text>
<text x="265.64" y="193.06">-0.02</text>
<text x="277.76" y="193.06">0.064</text>
<text x="289.88" y="193.06">-0.2</text>
<text x="302" y="193.06">-0.05</text>
<text x="314.12" y="193.06">-0.11</text>
<text x="326.24" y="193.06">0.06</text>
<text x="47.46" y="201.92">-0.01</text>
<text x="59.58" y="201.92">-0.01</text>
<text x="71.7" y="201.92">-0.1</text>
<text x="83.82" y="201.92">-0.2</text>
<text x="95.94" y="201.92">-0.03</text>
<text x="108.06" y="201.92">-0.13</text>
<text x="120.19" y="201.92">-0.02</text>
<text x="132.31" y="201.92">0.016</text>
<text x="144.43" y="201.92">-0.11</text>
<text x="156.55" y="201.92">-0.05</text>
<text x="168.67" y="201.92">-0.12</text>
<text x="180.79" y="201.92">-0.07</text>
<text x="192.91" y="201.92" fill="#c00000" font-weight="bold">-1.68</text>
<text x="205.03" y="201.92">-0.21</text>
<text x="217.15" y="201.92">0.026</text>
<text x="229.27" y="201.92">0.066</text>
<text x="241.39" y="201.92">-0.15</text>
<text x="253.51" y="201.92">0.047</text>
<text x="265.64" y="201.92">0.037</text>
<text x="277.76" y="201.92">-0.03</text>
<text x="289.88" y="201.92">-0.09</text>
<text x="302" y="201.92">-0.1</text>
<text x="314.12" y="201.92">0.002</text>
<text x="326.24" y="201.92">-0.01</text>
<text x="47.46" y="210.77">0.009</text>
<text x="59.58" y="210.77">-0.01</text>
<text x="71.7" y="210.77">-0.02</text>
<text x="83.82" y="210.77">-0.13</text>
<text x="95.94" y="210.77">0.185</text>
<text x="108.06" y="210.77">-0.07</text>
<text x="120.19" y="210.77">-0.11</text>
<text x="132.31" y="210.77">0.217</text>
<text x="144.43" y="210.77">0.182</text>
<text x="156.55" y="210.77">0.11</text>
<text x="168.67" y="210.77">0.21</text>
<text x="180.79" y="210.77" fill="#c00000" font-weight="bold">-0.31</text>
<text x="192.91" y="210.77">0.179</text>
<text x="205.03" y="210.77" fill="#c00000" font-weight="bold">-2.4</text>
<text x="217.15" y="210.77">0.082</text>
<text x="229.27" y="210.77">0.108</text>
<text x="241.39" y="210.77">-0.01</text>
<text x="253.51" y="210.77">-0.15</text>
<text x="265.64" y="210.77">0.012</text>
<text x="277.76" y="210.77">0.061</text>
<text x="289.88" y="210.77">-0.06</text>
<text x="302" y="210.77">0.098</text>
<text x="314.12" y="210.77">-0.01</text>
<text x="326.24" y="210.77">-0.05</text>
<text x="47.46" y="219.63">0.018</text>
<text x="59.58" y="219.63">#####</text>
<text x="71.7" y="219.63">-0.04</text>
<text x="83.82" y="219.63">-0.08</text>
<text x="95.94" y="219.63">0.156</text>
<text x="108.06" y="219.63" fill="#c00000" font-weight="bold">-0.39</text>
<text x="120.19" y="219.63">0.148</text>
<text x="132.31" y="219.63">-0.14</text>
<text x="144.43" y="219.63">-0.25</text>
<text x="156.55" y="219.63">0.138</text>
<text x="168.67" y="219.63">-0.02</text>
<text x="180.79" y="219.63">-0.02</text>
<text x="192.91" y="219.63">-0.09</text>
<text x="205.03" y="219.63">-0.03</text>
<text x="217.15" y="219.63" fill="#c00000" font-weight="bold">-1.12</text>
<text x="229.27" y="219.63">0.008</text>
<text x="241.39" y="219.63">-0.18</text>
<text x="253.51" y="219.63">0.035</text>
<text x="265.64" y="219.63">-0.04</text>
<text x="277.76" y="219.63">-0.29</text>
<text x="289.88" y="219.63" fill="#c00000" font-weight="bold">-0.32</text>
<text x="302" y="219.63" fill="#c00000" font-weight="bold">-0.33</text>
<text x="314.12" y="219.63">-0.16</text>
<text x="326.24" y="219.63">-0.06</text>
<text x="47.46" y="228.49">-0.05</text>
<text x="59.58" y="228.49">-0.04</text>
<text x="71.7" y="228.49">-0.12</text>
<text x="83.82" y="228.49">-0.13</text>
<text x="95.94" y="228.49">-0.06</text>
<text x="108.06" y="228.49">-0.04</text>
<text x="120.19" y="228.49" fill="#c00000" font-weight="bold">-0.32</text>
<text x="132.31" y="228.49">-0.09</text>
<text x="144.43" y="228.49">-0.07</text>
<text x="156.55" y="228.49">-0.07</text>
<text x="168.67" y="228.49">-0.25</text>
<text x="180.79" y="228.49">-0.29</text>
<text x="192.91" y="228.49">0.055</text>
<text x="205.03" y="228.49">-0.13</text>
<text x="217.15" y="228.49">0.027</text>
<text x="229.27" y="228.49" fill="#c00000" font-weight="bold">-0.62</text>
<text x="241.39" y="228.49">-0.06</text>
<text x="253.51" y="228.49">-0.05</text>
<text x="265.64" y="228.49">0.091</text>
<text x="277.76" y="228.49">0.029</text>
<text x="289.88" y="228.49">-0.09</text>
<text x="302" y="228.49">-0.08</text>
<text x="314.12" y="228.49">-0</text>
<text x="326.24" y="228.49">-0.01</text>
<text x="47.46" y="237.35">-0.03</text>
<text x="59.58" y="237.35">-0.07</text>
<text x="71.7" y="237.35">-0.13</text>
<text x="83.82" y="237.35">-0.18</text>
<text x="95.94" y="237.35">-0.01</text>
<text x="108.06" y="237.35">-0.06</text>
<text x="120.19" y="237.35">-0.06</text>
<text x="132.31" y="237.35">-0.05</text>
<text x="144.43" y="237.35">-0.04</text>
<text x="156.55" y="237.35">0.028</text>
<text x="168.67" y="237.35">-0.1</text>
<text x="180.79" y="237.35">0.014</text>
<text x="192.91" y="237.35">0.065</text>
<text x="205.03" y="237.35">-0.1</text>
<text x="217.15" y="237.35">-0.01</text>
<text x="229.27" y="237.35">-0</text>
<text x="241.39" y="237.35" fill="#c00000" font-weight="bold">-1.01</text>
<text x="253.51" y="237.35">0.221</text>
<text x="265.64" y="237.35">0.059</text>
<text x="277.76" y="237.35">0.101</text>
<text x="289.88" y="237.35">0.033</text>
<text x="302" y="237.35">-0.11</text>
<text x="314.12" y="237.35">0.009</text>
<text x="326.24" y="237.35">0.009</text>
<text x="47.46" y="246.2">0.008</text>
<text x="59.58" y="246.2">0.019</text>
<text x="71.7" y="246.2">-0</text>
<text x="83.82" y="246.2">-0.16</text>
<text x="95.94" y="246.2">0.047</text>
<text x="108.06" y="246.2">0.026</text>
<text x="120.19" y="246.2">-0.13</text>
<text x="132.31" y="246.2">-0.07</text>
<text x="144.43" y="246.2">0.025</text>
<text x="156.55" y="246.2">0.17</text>
<text x="168.67" y="246.2">0.155</text>
<text x="180.79" y="246.2" fill="#c00000" font-weight="bold">-0.49</text>
<text x="192.91" y="246.2">-0.22</text>
<text x="205.03" y="246.2">0.053</text>
<text x="217.15" y="246.2">0.063</text>
<text x="229.27" y="246.2">0.117</text>
<text x="241.39" y="246.2" fill="#c00000" font-weight="bold">-1.14</text>
<text x="253.51" y="246.2">-0.21</text>
<text x="265.64" y="246.2">-0.03</text>
<text x="277.76" y="246.2">0.17</text>
<text x="289.88" y="246.2">0.15</text>
<text x="302" y="246.2">0.213</text>
<text x="314.12" y="246.2">0.009</text>
<text x="326.24" y="246.2">0.137</text>
<text x="47.46" y="255.06">-0.08</text>
<text x="59.58" y="255.06">-0.24</text>
<text x="71.7" y="255.06">-0.27</text>
<text x="83.82" y="255.06">-0.14</text>
<text x="95.94" y="255.06">0.154</text>
<text x="108.06" y="255.06">0.161</text>
<text x="120.19" y="255.06">0.279</text>
<text x="132.31" y="255.06" fill="#00b0f0" font-weight="bold">0.355</text>
<text x="144.43" y="255.06">0.045</text>
<text x="156.55" y="255.06">0.075</text>
<text x="168.67" y="255.06">0.103</text>
<text x="180.79" y="255.06">-0.07</text>
<text x="192.91" y="255.06">-0.05</text>
<text x="205.03" y="255.06">-0.25</text>
<text x="217.15" y="255.06">0.041</text>
<text x="229.27" y="255.06">-0.31</text>
<text x="241.39" y="255.06">-0.11</text>
<text x="253.51" y="255.06">-0.09</text>
<text x="265.64" y="255.06">-0.11</text>
<text x="277.76" y="255.06">-0.07</text>
<text x="289.88" y="255.06">-0.03</text>
<text x="302" y="255.06">0.129</text>
<text x="314.12" y="255.06">0.119</text>
<text x="326.24" y="255.06">0.002</text>
<text x="47.46" y="263.92">-0.18</text>
<text x="59.58" y="263.92">-0.13</text>
<text x="71.7" y="263.92">-0.01</text>
<text x="83.82" y="263.92">-0.24</text>
<text x="95.94" y="263.92">-0.2</text>
<text x="108.06" y="263.92" fill="#c00000" font-weight="bold">-0.36</text>
<text x="120.19" y="263.92" fill="#c00000" font-weight="bold">-0.49</text>
<text x="132.31" y="263.92">-0.13</text>
<text x="144.43" y="263.92" fill="#c00000" font-weight="bold">-0.37</text>
<text x="156.55" y="263.92">-0.25</text>
<text x="168.67" y="263.92">-0.23</text>
<text x="180.79" y="263.92">-0.26</text>
<text x="192.91" y="263.92">-0.11</text>
<text x="205.03" y="263.92" fill="#c00000" font-weight="bold">-0.33</text>
<text x="217.15" y="263.92">-0.16</text>
<text x="229.27" y="263.92">-0.12</text>
<text x="241.39" y="263.92">-0.07</text>
<text x="253.51" y="263.92" fill="#c00000" font-weight="bold">-0.86</text>
<text x="265.64" y="263.92">-0.14</text>
<text x="277.76" y="263.92">-0.29</text>
<text x="289.88" y="263.92">-0.03</text>
<text x="302" y="263.92">-0.23</text>
<text x="314.12" y="263.92">0.009</text>
<text x="326.24" y="263.92">-0.15</text>
<text x="47.46" y="272.78">-0.04</text>
<text x="59.58" y="272.78">-0.09</text>
<text x="71.7" y="272.78">-0.26</text>
<text x="83.82" y="272.78" fill="#c00000" font-weight="bold">-0.35</text>
<text x="95.94" y="272.78">-0.16</text>
<text x="108.06" y="272.78">-0.07</text>
<text x="120.19" y="272.78">-0.08</text>
<text x="132.31" y="272.78">-0.15</text>
<text x="144.43" y="272.78">-0.05</text>
<text x="156.55" y="272.78">-0.17</text>
<text x="168.67" y="272.78">-0.1</text>
<text x="180.79" y="272.78">-0.12</text>
<text x="192.91" y="272.78">-0.02</text>
<text x="205.03" y="272.78">-0.22</text>
<text x="217.15" y="272.78">-0.17</text>
<text x="229.27" y="272.78">-0.14</text>
<text x="241.39" y="272.78">-0.04</text>
<text x="253.51" y="272.78">-0.06</text>
<text x="265.64" y="272.78" fill="#c00000" font-weight="bold">-1.06</text>
<text x="277.76" y="272.78">-0</text>
<text x="289.88" y="272.78">-0.08</text>
<text x="302" y="272.78">-0.05</text>
<text x="314.12" y="272.78">-0.01</text>
<text x="326.24" y="272.78">-0.05</text>
<text x="47.46" y="281.63">0.21</text>
<text x="59.58" y="281.63">0.151</text>
<text x="71.7" y="281.63">0.043</text>
<text x="83.82" y="281.63">0.075</text>
<text x="95.94" y="281.63">0.047</text>
<text x="108.06" y="281.63" fill="#c00000" font-weight="bold">-0.34</text>
<text x="120.19" y="281.63">0.132</text>
<text x="132.31" y="281.63">-0.06</text>
<text x="144.43" y="281.63">-0.15</text>
<text x="156.55" y="281.63">-0.08</text>
<text x="168.67" y="281.63">0.057</text>
<text x="180.79" y="281.63">-0.18</text>
<text x="192.91" y="281.63">-0.03</text>
<text x="205.03" y="281.63">-0.07</text>
<text x="217.15" y="281.63">-0.01</text>
<text x="229.27" y="281.63">0.13</text>
<text x="241.39" y="281.63">-0.09</text>
<text x="253.51" y="281.63">0.055</text>
<text x="265.64" y="281.63">0.079</text>
<text x="277.76" y="281.63" fill="#c00000" font-weight="bold">-1.44</text>
<text x="289.88" y="281.63">-0.12</text>
<text x="302" y="281.63">-0.07</text>
<text x="314.12" y="281.63">-0.16</text>
<text x="326.24" y="281.63">-0.09</text>
<text x="47.46" y="290.49">-0.05</text>
<text x="59.58" y="290.49">-0.05</text>
<text x="71.7" y="290.49">-0.21</text>
<text x="83.82" y="290.49">-0.07</text>
<text x="95.94" y="290.49">0.055</text>
<text x="108.06" y="290.49" fill="#c00000" font-weight="bold">-0.35</text>
<text x="120.19" y="290.49">0.153</text>
<text x="132.31" y="290.49">-0.05</text>
<text x="144.43" y="290.49">-0.15</text>
<text x="156.55" y="290.49">0.262</text>
<text x="168.67" y="290.49">0.279</text>
<text x="180.79" y="290.49">0.195</text>
<text x="192.91" y="290.49">0.158</text>
<text x="205.03" y="290.49">-0.09</text>
<text x="217.15" y="290.49">0.123</text>
<text x="229.27" y="290.49">0.272</text>
<text x="241.39" y="290.49">-0.12</text>
<text x="253.51" y="290.49">-0.05</text>
<text x="265.64" y="290.49">0.019</text>
<text x="277.76" y="290.49">-0.19</text>
<text x="289.88" y="290.49" fill="#c00000" font-weight="bold">-1.88</text>
<text x="302" y="290.49" fill="#c00000" font-weight="bold">-0.32</text>
<text x="314.12" y="290.49">-0.29</text>
<text x="326.24" y="290.49">-0.05</text>
<text x="47.46" y="299.35">-0.02</text>
<text x="59.58" y="299.35">-0.04</text>
<text x="71.7" y="299.35" fill="#c00000" font-weight="bold">-0.31</text>
<text x="83.82" y="299.35">-0.21</text>
<text x="95.94" y="299.35">-0.12</text>
<text x="108.06" y="299.35">0.006</text>
<text x="120.19" y="299.35">-0.13</text>
<text x="132.31" y="299.35">-0.13</text>
<text x="144.43" y="299.35">0.066</text>
<text x="156.55" y="299.35">-0.06</text>
<text x="168.67" y="299.35">0.079</text>
<text x="180.79" y="299.35">0.019</text>
<text x="192.91" y="299.35">0.092</text>
<text x="205.03" y="299.35">-0.07</text>
<text x="217.15" y="299.35">0.189</text>
<text x="229.27" y="299.35">0.17</text>
<text x="241.39" y="299.35">0.026</text>
<text x="253.51" y="299.35">0.087</text>
<text x="265.64" y="299.35">0.089</text>
<text x="277.76" y="299.35">-0.11</text>
<text x="289.88" y="299.35">0.019</text>
<text x="302" y="299.35" fill="#c00000" font-weight="bold">-1.39</text>
<text x="314.12" y="299.35">0.074</text>
<text x="326.24" y="299.35">0.189</text>
<text x="47.46" y="308.21">-0.11</text>
<text x="59.58" y="308.21">-0.11</text>
<text x="71.7" y="308.21">-0.21</text>
<text x="83.82" y="308.21">-0.22</text>
<text x="95.94" y="308.21">0.051</text>
<text x="108.06" y="308.21">-0.17</text>
<text x="120.19" y="308.21">-0.15</text>
<text x="132.31" y="308.21">0.034</text>
<text x="144.43" y="308.21">-0.22</text>
<text x="156.55" y="308.21">0.076</text>
<text x="168.67" y="308.21">0.016</text>
<text x="180.79" y="308.21">-0.25</text>
<text x="192.91" y="308.21">0.02</text>
<text x="205.03" y="308.21">-0.12</text>
<text x="217.15" y="308.21">0.084</text>
<text x="229.27" y="308.21">0.064</text>
<text x="241.39" y="308.21">-0.08</text>
<text x="253.51" y="308.21">-0.08</text>
<text x="265.64" y="308.21">-0.05</text>
<text x="277.76" y="308.21">0.037</text>
<text x="289.88" y="308.21">-0.23</text>
<text x="302" y="308.21" fill="#c00000" font-weight="bold">-1.13</text>
<text x="314.12" y="308.21">-0.01</text>
<text x="326.24" y="308.21">0.03</text>
<text x="47.46" y="317.06">-0.1</text>
<text x="59.58" y="317.06">-0.12</text>
<text x="71.7" y="317.06">-0.27</text>
<text x="83.82" y="317.06">-0.16</text>
<text x="95.94" y="317.06">0.004</text>
<text x="108.06" y="317.06" fill="#c00000" font-weight="bold">-0.31</text>
<text x="120.19" y="317.06">0.084</text>
<text x="132.31" y="317.06">0.024</text>
<text x="144.43" y="317.06">-0.2</text>
<text x="156.55" y="317.06">-0</text>
<text x="168.67" y="317.06">-0.27</text>
<text x="180.79" y="317.06">-0.16</text>
<text x="192.91" y="317.06">0.009</text>
<text x="205.03" y="317.06">-0.15</text>
<text x="217.15" y="317.06">-0.04</text>
<text x="229.27" y="317.06" fill="#c00000" font-weight="bold">-0.44</text>
<text x="241.39" y="317.06">-0.06</text>
<text x="253.51" y="317.06">0.141</text>
<text x="265.64" y="317.06">-0.04</text>
<text x="277.76" y="317.06">0.104</text>
<text x="289.88" y="317.06">-0.01</text>
<text x="302" y="317.06">0.098</text>
<text x="314.12" y="317.06" fill="#c00000" font-weight="bold">-0.81</text>
<text x="326.24" y="317.06">0.106</text>
<text x="47.46" y="325.92">-0.02</text>
<text x="59.58" y="325.92">0.015</text>
<text x="71.7" y="325.92">-0.18</text>
<text x="83.82" y="325.92">-0.21</text>
<text x="95.94" y="325.92">-0.03</text>
<text x="108.06" y="325.92">0.058</text>
<text x="120.19" y="325.92">0.042</text>
<text x="132.31" y="325.92">0.13</text>
<text x="144.43" y="325.92">-0.08</text>
<text x="156.55" y="325.92">0.074</text>
<text x="168.67" y="325.92">0.065</text>
<text x="180.79" y="325.92">-0.01</text>
<text x="192.91" y="325.92">0.053</text>
<text x="205.03" y="325.92">-0.11</text>
<text x="217.15" y="325.92">0.025</text>
<text x="229.27" y="325.92">0.005</text>
<text x="241.39" y="325.92">0.104</text>
<text x="253.51" y="325.92">0.051</text>
<text x="265.64" y="325.92">0.003</text>
<text x="277.76" y="325.92">0.114</text>
<text x="289.88" y="325.92">0.084</text>
<text x="302" y="325.92">0.075</text>
<text x="314.12" y="325.92">0.025</text>
<text x="326.24" y="325.92" fill="#c00000" font-weight="bold">-1.41</text>
</g>
<text x="39.3" y="43.38" font-size="5.84" text-anchor="end" textLength="17.72" lengthAdjust="spacingAndGlyphs" stroke="#000" stroke-width="0.12">UBE2A</text>
<text x="39.3" y="52.24" font-size="5.84" text-anchor="end" textLength="17.49" lengthAdjust="spacingAndGlyphs" stroke="#000" stroke-width="0.12">UBE2B</text>
<text x="39.3" y="61.09" font-size="5.84" text-anchor="end" textLength="17.42" lengthAdjust="spacingAndGlyphs" stroke="#000" stroke-width="0.12">UBE2C</text>
<text x="39.3" y="69.95" font-size="5.84" text-anchor="end" textLength="21.2" lengthAdjust="spacingAndGlyphs" stroke="#000" stroke-width="0.12">UBE2D1</text>
<text x="39.3" y="78.81" font-size="5.84" text-anchor="end" textLength="21.2" lengthAdjust="spacingAndGlyphs" stroke="#000" stroke-width="0.12">UBE2D2</text>
<text x="39.3" y="87.67" font-size="5.84" text-anchor="end" textLength="21.2" lengthAdjust="spacingAndGlyphs" stroke="#000" stroke-width="0.12">UBE2D3</text>
<text x="39.3" y="96.52" font-size="5.84" text-anchor="end" textLength="21.2" lengthAdjust="spacingAndGlyphs" stroke="#000" stroke-width="0.12">UBE2D4</text>
<text x="39.3" y="105.38" font-size="5.84" text-anchor="end" textLength="20.39" lengthAdjust="spacingAndGlyphs" stroke="#000" stroke-width="0.12">UBE2E1</text>
<text x="39.3" y="114.24" font-size="5.84" text-anchor="end" textLength="20.39" lengthAdjust="spacingAndGlyphs" stroke="#000" stroke-width="0.12">UBE2E2</text>
<text x="39.3" y="123.1" font-size="5.84" text-anchor="end" textLength="20.39" lengthAdjust="spacingAndGlyphs" stroke="#000" stroke-width="0.12">UBE2E3</text>
<text x="39.3" y="131.95" font-size="5.84" text-anchor="end" textLength="16.95" lengthAdjust="spacingAndGlyphs" stroke="#000" stroke-width="0.12">UBE2F</text>
<text x="39.3" y="140.81" font-size="5.84" text-anchor="end" textLength="21.3" lengthAdjust="spacingAndGlyphs" stroke="#000" stroke-width="0.12">UBE2G1</text>
<text x="39.3" y="149.67" font-size="5.84" text-anchor="end" textLength="21.3" lengthAdjust="spacingAndGlyphs" stroke="#000" stroke-width="0.12">UBE2G2</text>
<text x="39.3" y="158.53" font-size="5.84" text-anchor="end" textLength="18" lengthAdjust="spacingAndGlyphs" stroke="#000" stroke-width="0.12">UBE2H</text>
<text x="39.3" y="167.38" font-size="5.84" text-anchor="end" textLength="15.62" lengthAdjust="spacingAndGlyphs" stroke="#000" stroke-width="0.12">UBE2I</text>
<text x="39.3" y="176.24" font-size="5.84" text-anchor="end" textLength="19.3" lengthAdjust="spacingAndGlyphs" stroke="#000" stroke-width="0.12">UBE2J1</text>
<text x="39.3" y="185.1" font-size="5.84" text-anchor="end" textLength="19.3" lengthAdjust="spacingAndGlyphs" stroke="#000" stroke-width="0.12">UBE2J2</text>
<text x="39.3" y="193.96" font-size="5.84" text-anchor="end" textLength="17.34" lengthAdjust="spacingAndGlyphs" stroke="#000" stroke-width="0.12">UBE2K</text>
<text x="39.3" y="202.82" font-size="5.84" text-anchor="end" textLength="19.95" lengthAdjust="spacingAndGlyphs" stroke="#000" stroke-width="0.12">UBE2L3</text>
<text x="39.3" y="211.67" font-size="5.84" text-anchor="end" textLength="19.95" lengthAdjust="spacingAndGlyphs" stroke="#000" stroke-width="0.12">UBE2L6</text>
<text x="39.3" y="220.53" font-size="5.84" text-anchor="end" textLength="19.49" lengthAdjust="spacingAndGlyphs" stroke="#000" stroke-width="0.12">UBE2M</text>
<text x="39.3" y="229.39" font-size="5.84" text-anchor="end" textLength="18.15" lengthAdjust="spacingAndGlyphs" stroke="#000" stroke-width="0.12">UBE2N</text>
<text x="39.3" y="238.25" font-size="5.84" text-anchor="end" textLength="21.57" lengthAdjust="spacingAndGlyphs" stroke="#000" stroke-width="0.12">UBE2Q1</text>
<text x="39.3" y="247.1" font-size="5.84" text-anchor="end" textLength="21.57" lengthAdjust="spacingAndGlyphs" stroke="#000" stroke-width="0.12">UBE2Q2</text>
<text x="39.3" y="255.96" font-size="5.84" text-anchor="end" textLength="24.27" lengthAdjust="spacingAndGlyphs" stroke="#000" stroke-width="0.12">UBE2Q2L</text>
<text x="39.3" y="264.82" font-size="5.84" text-anchor="end" textLength="24.27" lengthAdjust="spacingAndGlyphs" stroke="#000" stroke-width="0.12">UBE2QL1</text>
<text x="39.3" y="273.68" font-size="5.84" text-anchor="end" textLength="20.74" lengthAdjust="spacingAndGlyphs" stroke="#000" stroke-width="0.12">UBE2R2</text>
<text x="39.3" y="282.53" font-size="5.84" text-anchor="end" textLength="16.95" lengthAdjust="spacingAndGlyphs" stroke="#000" stroke-width="0.12">UBE2S</text>
<text x="39.3" y="291.39" font-size="5.84" text-anchor="end" textLength="17.13" lengthAdjust="spacingAndGlyphs" stroke="#000" stroke-width="0.12">UBE2T</text>
<text x="39.3" y="300.25" font-size="5.84" text-anchor="end" textLength="20.9" lengthAdjust="spacingAndGlyphs" stroke="#000" stroke-width="0.12">UBE2V1</text>
<text x="39.3" y="309.11" font-size="5.84" text-anchor="end" textLength="20.9" lengthAdjust="spacingAndGlyphs" stroke="#000" stroke-width="0.12">UBE2V2</text>
<text x="39.3" y="317.96" font-size="5.84" text-anchor="end" textLength="19.71" lengthAdjust="spacingAndGlyphs" stroke="#000" stroke-width="0.12">UBE2W</text>
<text x="39.3" y="326.82" font-size="5.84" text-anchor="end" textLength="17.01" lengthAdjust="spacingAndGlyphs" stroke="#000" stroke-width="0.12">UBE2Z</text>
<text font-size="6.06" textLength="24.57" lengthAdjust="spacingAndGlyphs" transform="translate(50.36 35.1) rotate(-90)" stroke="#000" stroke-width="0.12">UBE2A/B</text>
<text font-size="6.06" textLength="18.08" lengthAdjust="spacingAndGlyphs" transform="translate(62.48 35.1) rotate(-90)" stroke="#000" stroke-width="0.12">UBE2C</text>
<text font-size="6.06" textLength="33.89" lengthAdjust="spacingAndGlyphs" transform="translate(74.6 35.1) rotate(-90)" stroke="#000" stroke-width="0.12">UBE2D1/2/3</text>
<text font-size="6.06" textLength="27.1" lengthAdjust="spacingAndGlyphs" transform="translate(86.72 35.1) rotate(-90)" stroke="#000" stroke-width="0.12">UBE2E1/2</text>
<text font-size="6.06" textLength="17.58" lengthAdjust="spacingAndGlyphs" transform="translate(98.84 35.1) rotate(-90)" stroke="#000" stroke-width="0.12">UBE2F</text>
<text font-size="6.06" textLength="22.1" lengthAdjust="spacingAndGlyphs" transform="translate(110.96 35.1) rotate(-90)" stroke="#000" stroke-width="0.12">UBE2G1</text>
<text font-size="6.06" textLength="22.1" lengthAdjust="spacingAndGlyphs" transform="translate(123.09 35.1) rotate(-90)" stroke="#000" stroke-width="0.12">UBE2G2</text>
<text font-size="6.06" textLength="18.67" lengthAdjust="spacingAndGlyphs" transform="translate(135.21 35.1) rotate(-90)" stroke="#000" stroke-width="0.12">UBE2H</text>
<text font-size="6.06" textLength="16.2" lengthAdjust="spacingAndGlyphs" transform="translate(147.33 35.1) rotate(-90)" stroke="#000" stroke-width="0.12">UBE2I</text>
<text font-size="6.06" textLength="20.02" lengthAdjust="spacingAndGlyphs" transform="translate(159.45 35.1) rotate(-90)" stroke="#000" stroke-width="0.12">UBE2J1</text>
<text font-size="6.06" textLength="20.02" lengthAdjust="spacingAndGlyphs" transform="translate(171.57 35.1) rotate(-90)" stroke="#000" stroke-width="0.12">UBE2J2</text>
<text font-size="6.06" textLength="17.98" lengthAdjust="spacingAndGlyphs" transform="translate(183.69 35.1) rotate(-90)" stroke="#000" stroke-width="0.12">UBE2K</text>
<text font-size="6.06" textLength="20.7" lengthAdjust="spacingAndGlyphs" transform="translate(195.81 35.1) rotate(-90)" stroke="#000" stroke-width="0.12">UBE2L3</text>
<text font-size="6.06" textLength="20.7" lengthAdjust="spacingAndGlyphs" transform="translate(207.93 35.1) rotate(-90)" stroke="#000" stroke-width="0.12">UBE2L6</text>
<text font-size="6.06" textLength="20.22" lengthAdjust="spacingAndGlyphs" transform="translate(220.05 35.1) rotate(-90)" stroke="#000" stroke-width="0.12">UBE2M</text>
<text font-size="6.06" textLength="18.82" lengthAdjust="spacingAndGlyphs" transform="translate(232.17 35.1) rotate(-90)" stroke="#000" stroke-width="0.12">UBE2N</text>
<text font-size="6.06" textLength="28.33" lengthAdjust="spacingAndGlyphs" transform="translate(244.29 35.1) rotate(-90)" stroke="#000" stroke-width="0.12">UBE2Q1/2</text>
<text font-size="6.06" textLength="25.18" lengthAdjust="spacingAndGlyphs" transform="translate(256.41 35.1) rotate(-90)" stroke="#000" stroke-width="0.12">UBE2QL1</text>
<text font-size="6.06" textLength="21.52" lengthAdjust="spacingAndGlyphs" transform="translate(268.54 35.1) rotate(-90)" stroke="#000" stroke-width="0.12">UBE2R2</text>
<text font-size="6.06" textLength="17.58" lengthAdjust="spacingAndGlyphs" transform="translate(280.66 35.1) rotate(-90)" stroke="#000" stroke-width="0.12">UBE2S</text>
<text font-size="6.06" textLength="17.77" lengthAdjust="spacingAndGlyphs" transform="translate(292.78 35.1) rotate(-90)" stroke="#000" stroke-width="0.12">UBE2T</text>
<text font-size="6.06" textLength="27.63" lengthAdjust="spacingAndGlyphs" transform="translate(304.9 35.1) rotate(-90)" stroke="#000" stroke-width="0.12">UBE2V1/2</text>
<text font-size="6.06" textLength="20.45" lengthAdjust="spacingAndGlyphs" transform="translate(317.02 35.1) rotate(-90)" stroke="#000" stroke-width="0.12">UBE2W</text>
<text font-size="6.06" textLength="17.64" lengthAdjust="spacingAndGlyphs" transform="translate(329.14 35.1) rotate(-90)" stroke="#000" stroke-width="0.12">UBE2Z</text>
<rect x="390.9" y="36.7" width="290.9" height="292.3" fill="#a8a8a8"/>
<rect x="390.9" y="36.7" width="12.12" height="8.86" fill="url(#g3)"/>
<rect x="487.87" y="36.7" width="12.12" height="8.86" fill="url(#g3)"/>
<rect x="390.9" y="45.56" width="12.12" height="8.86" fill="url(#g4)"/>
<rect x="403.02" y="54.42" width="12.12" height="8.86" fill="url(#g8)"/>
<rect x="463.62" y="54.42" width="12.12" height="8.86" fill="url(#g4)"/>
<rect x="475.75" y="54.42" width="12.12" height="8.86" fill="url(#g4)"/>
<rect x="609.07" y="54.42" width="12.12" height="8.86" fill="#fff"/>
<rect x="415.14" y="63.27" width="12.12" height="8.86" fill="url(#g3)"/>
<rect x="512.11" y="63.27" width="12.12" height="8.86" fill="url(#g3)"/>
<rect x="524.23" y="63.27" width="12.12" height="8.86" fill="url(#g3)"/>
<rect x="415.14" y="72.13" width="12.12" height="8.86" fill="url(#g3)"/>
<rect x="415.14" y="80.99" width="12.12" height="8.86" fill="url(#g3)"/>
<rect x="427.26" y="98.7" width="12.12" height="8.86" fill="url(#g6)"/>
<rect x="439.38" y="98.7" width="12.12" height="8.86" fill="url(#g3)"/>
<rect x="512.11" y="98.7" width="12.12" height="8.86" fill="url(#g3)"/>
<rect x="427.26" y="107.56" width="12.12" height="8.86" fill="url(#g7)"/>
<rect x="499.99" y="107.56" width="12.12" height="8.86" fill="url(#g3)"/>
<rect x="439.38" y="125.28" width="12.12" height="8.86" fill="url(#g6)"/>
<rect x="463.62" y="125.28" width="12.12" height="8.86" fill="url(#g3)"/>
<rect x="451.5" y="134.13" width="12.12" height="8.86" fill="url(#g11)"/>
<rect x="475.75" y="151.85" width="12.12" height="8.86" fill="url(#g9)"/>
<rect x="524.23" y="151.85" width="12.12" height="8.86" fill="url(#g3)"/>
<rect x="596.95" y="151.85" width="12.12" height="8.86" fill="url(#g3)"/>
<rect x="439.38" y="160.71" width="12.12" height="8.86" fill="url(#g3)"/>
<rect x="487.87" y="160.71" width="12.12" height="8.86" fill="url(#g6)"/>
<rect x="415.14" y="169.56" width="12.12" height="8.86" fill="#fff"/>
<rect x="499.99" y="169.56" width="12.12" height="8.86" fill="url(#g9)"/>
<rect x="439.38" y="178.42" width="12.12" height="8.86" fill="#fff"/>
<rect x="512.11" y="178.42" width="12.12" height="8.86" fill="url(#g14)"/>
<rect x="560.59" y="178.42" width="12.12" height="8.86" fill="url(#g3)"/>
<rect x="463.62" y="187.28" width="12.12" height="8.86" fill="url(#g3)"/>
<rect x="524.23" y="187.28" width="12.12" height="8.86" fill="url(#g6)"/>
<rect x="536.35" y="196.14" width="12.12" height="8.86" fill="url(#g6)"/>
<rect x="463.62" y="204.99" width="12.12" height="8.86" fill="url(#g3)"/>
<rect x="524.23" y="204.99" width="12.12" height="8.86" fill="url(#g3)"/>
<rect x="536.35" y="204.99" width="12.12" height="8.86" fill="#fff"/>
<rect x="548.47" y="204.99" width="12.12" height="8.86" fill="url(#g20)"/>
<rect x="451.5" y="213.85" width="12.12" height="8.86" fill="url(#g3)"/>
<rect x="475.75" y="213.85" width="12.12" height="8.86" fill="url(#g3)"/>
<rect x="560.59" y="213.85" width="12.12" height="8.86" fill="url(#g8)"/>
<rect x="463.62" y="222.71" width="12.12" height="8.86" fill="url(#g3)"/>
<rect x="584.83" y="231.57" width="12.12" height="8.86" fill="url(#g14)"/>
<rect x="536.35" y="240.42" width="12.12" height="8.86" fill="url(#g3)"/>
<rect x="584.83" y="240.42" width="12.12" height="8.86" fill="url(#g6)"/>
<rect x="439.38" y="267" width="12.12" height="8.86" fill="url(#g3)"/>
<rect x="463.62" y="267" width="12.12" height="8.86" fill="url(#g3)"/>
<rect x="572.71" y="267" width="12.12" height="8.86" fill="url(#g3)"/>
<rect x="609.07" y="267" width="12.12" height="8.86" fill="url(#g5)"/>
<rect x="657.56" y="267" width="12.12" height="8.86" fill="#fff"/>
<rect x="475.75" y="275.85" width="12.12" height="8.86" fill="url(#g3)"/>
<rect x="621.2" y="275.85" width="12.12" height="8.86" fill="url(#g9)"/>
<rect x="463.62" y="284.71" width="12.12" height="8.86" fill="url(#g3)"/>
<rect x="475.75" y="284.71" width="12.12" height="8.86" fill="url(#g3)"/>
<rect x="548.47" y="284.71" width="12.12" height="8.86" fill="url(#g3)"/>
<rect x="633.32" y="284.71" width="12.12" height="8.86" fill="url(#g17)"/>
<rect x="645.44" y="293.57" width="12.12" height="8.86" fill="url(#g6)"/>
<rect x="645.44" y="302.43" width="12.12" height="8.86" fill="url(#g5)"/>
<rect x="621.2" y="311.28" width="12.12" height="8.86" fill="#fff"/>
<rect x="657.56" y="320.14" width="12.12" height="8.86" fill="#fff"/>
<rect x="669.68" y="320.14" width="12.12" height="8.86" fill="url(#g12)"/>
<rect x="390.9" y="36.7" width="290.9" height="292.3" fill="none" stroke="#666" stroke-width="0.7"/>
<rect x="390.9" y="36.7" width="12.12" height="17.72" fill="none" stroke="#000" stroke-width="1"/>
<rect x="403.02" y="54.42" width="12.12" height="8.86" fill="none" stroke="#000" stroke-width="1"/>
<rect x="415.14" y="63.27" width="12.12" height="26.57" fill="none" stroke="#000" stroke-width="1"/>
<rect x="427.26" y="98.7" width="12.12" height="17.72" fill="none" stroke="#000" stroke-width="1"/>
<rect x="439.38" y="125.28" width="12.12" height="8.86" fill="none" stroke="#000" stroke-width="1"/>
<rect x="451.5" y="134.13" width="12.12" height="8.86" fill="none" stroke="#000" stroke-width="1"/>
<rect x="463.62" y="142.99" width="12.12" height="8.86" fill="none" stroke="#000" stroke-width="1"/>
<rect x="475.75" y="151.85" width="12.12" height="8.86" fill="none" stroke="#000" stroke-width="1"/>
<rect x="487.87" y="160.71" width="12.12" height="8.86" fill="none" stroke="#000" stroke-width="1"/>
<rect x="499.99" y="169.56" width="12.12" height="8.86" fill="none" stroke="#000" stroke-width="1"/>
<rect x="512.11" y="178.42" width="12.12" height="8.86" fill="none" stroke="#000" stroke-width="1"/>
<rect x="524.23" y="187.28" width="12.12" height="8.86" fill="none" stroke="#000" stroke-width="1"/>
<rect x="536.35" y="196.14" width="12.12" height="8.86" fill="none" stroke="#000" stroke-width="1"/>
<rect x="548.47" y="204.99" width="12.12" height="8.86" fill="none" stroke="#000" stroke-width="1"/>
<rect x="560.59" y="213.85" width="12.12" height="8.86" fill="none" stroke="#000" stroke-width="1"/>
<rect x="572.71" y="222.71" width="12.12" height="8.86" fill="none" stroke="#000" stroke-width="1"/>
<rect x="584.83" y="231.57" width="12.12" height="17.72" fill="none" stroke="#000" stroke-width="1"/>
<rect x="596.95" y="258.14" width="12.12" height="8.86" fill="none" stroke="#000" stroke-width="1"/>
<rect x="609.07" y="267" width="12.12" height="8.86" fill="none" stroke="#000" stroke-width="1"/>
<rect x="621.2" y="275.85" width="12.12" height="8.86" fill="none" stroke="#000" stroke-width="1"/>
<rect x="633.32" y="284.71" width="12.12" height="8.86" fill="none" stroke="#000" stroke-width="1"/>
<rect x="645.44" y="293.57" width="12.12" height="17.72" fill="none" stroke="#000" stroke-width="1"/>
<rect x="657.56" y="311.28" width="12.12" height="8.86" fill="none" stroke="#000" stroke-width="1"/>
<rect x="669.68" y="320.14" width="12.12" height="8.86" fill="none" stroke="#000" stroke-width="1"/>
<g font-size="3.7" text-anchor="middle" fill="#111">
<text x="396.96" y="42.48" fill="#c00000" font-weight="bold">-0.3</text>
<text x="409.08" y="42.48">0.056</text>
<text x="421.2" y="42.48">-0.05</text>
<text x="433.32" y="42.48">0.054</text>
<text x="445.44" y="42.48">ND</text>
<text x="457.56" y="42.48">ND</text>
<text x="469.69" y="42.48">ND</text>
<text x="481.81" y="42.48">ND</text>
<text x="493.93" y="42.48" fill="#c00000" font-weight="bold">-0.29</text>
<text x="506.05" y="42.48">-0.07</text>
<text x="518.17" y="42.48">-0.03</text>
<text x="530.29" y="42.48">-0.05</text>
<text x="542.41" y="42.48">-0.03</text>
<text x="554.53" y="42.48">-0.06</text>
<text x="566.65" y="42.48">-0.12</text>
<text x="578.77" y="42.48">-0.08</text>
<text x="590.89" y="42.48">-0.08</text>
<text x="603.01" y="42.48">-0.05</text>
<text x="615.14" y="42.48">0.075</text>
<text x="627.26" y="42.48">-0.14</text>
<text x="639.38" y="42.48">-0.01</text>
<text x="651.5" y="42.48">0.016</text>
<text x="663.62" y="42.48">-0.02</text>
<text x="675.74" y="42.48">0.005</text>
<text x="396.96" y="51.34" fill="#c00000" font-weight="bold">-0.37</text>
<text x="409.08" y="51.34">0.02</text>
<text x="421.2" y="51.34">-0.04</text>
<text x="433.32" y="51.34">0.002</text>
<text x="445.44" y="51.34">-0.09</text>
<text x="457.56" y="51.34">-0.15</text>
<text x="469.69" y="51.34">-0.2</text>
<text x="481.81" y="51.34">-0.15</text>
<text x="493.93" y="51.34">-0.15</text>
<text x="506.05" y="51.34">0.017</text>
<text x="518.17" y="51.34">-0.06</text>
<text x="530.29" y="51.34">0.004</text>
<text x="542.41" y="51.34">0.016</text>
<text x="554.53" y="51.34">-0.13</text>
<text x="566.65" y="51.34">-0.02</text>
<text x="578.77" y="51.34">-0.05</text>
<text x="590.89" y="51.34">-0.12</text>
<text x="603.01" y="51.34">-0.04</text>
<text x="615.14" y="51.34">0.111</text>
<text x="627.26" y="51.34">0.104</text>
<text x="639.38" y="51.34">-0.03</text>
<text x="651.5" y="51.34">0.005</text>
<text x="663.62" y="51.34">-0</text>
<text x="675.74" y="51.34">0.027</text>
<text x="396.96" y="60.19">-0.01</text>
<text x="409.08" y="60.19" fill="#c00000" font-weight="bold">-0.75</text>
<text x="421.2" y="60.19">0.006</text>
<text x="433.32" y="60.19">0.038</text>
<text x="445.44" y="60.19">-0.14</text>
<text x="457.56" y="60.19">0.057</text>
<text x="469.69" y="60.19" fill="#c00000" font-weight="bold">-0.4</text>
<text x="481.81" y="60.19" fill="#c00000" font-weight="bold">-0.38</text>
<text x="493.93" y="60.19">0.125</text>
<text x="506.05" y="60.19">-0.08</text>
<text x="518.17" y="60.19">-0.03</text>
<text x="530.29" y="60.19">-0.15</text>
<text x="542.41" y="60.19">-0.01</text>
<text x="554.53" y="60.19">-0.02</text>
<text x="566.65" y="60.19">0.022</text>
<text x="578.77" y="60.19">-0.11</text>
<text x="590.89" y="60.19">-0.09</text>
<text x="603.01" y="60.19">-0.07</text>
<text x="615.14" y="60.19" fill="#00b0f0" font-weight="bold">0.285</text>
<text x="627.26" y="60.19">0.121</text>
<text x="639.38" y="60.19">0.081</text>
<text x="651.5" y="60.19">0.171</text>
<text x="663.62" y="60.19">0.09</text>
<text x="675.74" y="60.19">0.075</text>
<text x="396.96" y="69.05">0.014</text>
<text x="409.08" y="69.05">0.008</text>
<text x="421.2" y="69.05" fill="#c00000" font-weight="bold">-0.3</text>
<text x="433.32" y="69.05">-0.11</text>
<text x="445.44" y="69.05">ND</text>
<text x="457.56" y="69.05">ND</text>
<text x="469.69" y="69.05">ND</text>
<text x="481.81" y="69.05">ND</text>
<text x="493.93" y="69.05">0.061</text>
<text x="506.05" y="69.05">-0.01</text>
<text x="518.17" y="69.05" fill="#c00000" font-weight="bold">-0.29</text>
<text x="530.29" y="69.05" fill="#c00000" font-weight="bold">-0.33</text>
<text x="542.41" y="69.05">-0.17</text>
<text x="554.53" y="69.05">-0.18</text>
<text x="566.65" y="69.05">0.068</text>
<text x="578.77" y="69.05">-0.02</text>
<text x="590.89" y="69.05">-0.17</text>
<text x="603.01" y="69.05">-0.1</text>
<text x="615.14" y="69.05">0.144</text>
<text x="627.26" y="69.05">0.094</text>
<text x="639.38" y="69.05">ND</text>
<text x="651.5" y="69.05">ND</text>
<text x="663.62" y="69.05">ND</text>
<text x="675.74" y="69.05">ND</text>
<text x="396.96" y="77.91">0.006</text>
<text x="409.08" y="77.91">0.019</text>
<text x="421.2" y="77.91" fill="#c00000" font-weight="bold">-0.32</text>
<text x="433.32" y="77.91">-0.06</text>
<text x="445.44" y="77.91">-0.13</text>
<text x="457.56" y="77.91">-0.11</text>
<text x="469.69" y="77.91">-0.04</text>
<text x="481.81" y="77.91">-0.12</text>
<text x="493.93" y="77.91">0.001</text>
<text x="506.05" y="77.91">-0.05</text>
<text x="518.17" y="77.91">-0.06</text>
<text x="530.29" y="77.91">-0.05</text>
<text x="542.41" y="77.91">-0.02</text>
<text x="554.53" y="77.91">-0.07</text>
<text x="566.65" y="77.91">-0.01</text>
<text x="578.77" y="77.91">-0.04</text>
<text x="590.89" y="77.91">-0.15</text>
<text x="603.01" y="77.91">-0.05</text>
<text x="615.14" y="77.91">0.085</text>
<text x="627.26" y="77.91">0.056</text>
<text x="639.38" y="77.91">-0.01</text>
<text x="651.5" y="77.91">-0.02</text>
<text x="663.62" y="77.91">0.057</text>
<text x="675.74" y="77.91">0.023</text>
<text x="396.96" y="86.77">-0.01</text>
<text x="409.08" y="86.77">0.01</text>
<text x="421.2" y="86.77" fill="#c00000" font-weight="bold">-0.33</text>
<text x="433.32" y="86.77">-0.05</text>
<text x="445.44" y="86.77">0.002</text>
<text x="457.56" y="86.77">-0.14</text>
<text x="469.69" y="86.77">-0.1</text>
<text x="481.81" y="86.77">-0.1</text>
<text x="493.93" y="86.77">-0.02</text>
<text x="506.05" y="86.77">-0.11</text>
<text x="518.17" y="86.77">-0.05</text>
<text x="530.29" y="86.77">-0.07</text>
<text x="542.41" y="86.77">0.076</text>
<text x="554.53" y="86.77">-0.05</text>
<text x="566.65" y="86.77">0.006</text>
<text x="578.77" y="86.77">-0.01</text>
<text x="590.89" y="86.77">-0.2</text>
<text x="603.01" y="86.77">-0.04</text>
<text x="615.14" y="86.77">0.064</text>
<text x="627.26" y="86.77">0.11</text>
<text x="639.38" y="86.77">-0</text>
<text x="651.5" y="86.77">-0.01</text>
<text x="663.62" y="86.77">0.056</text>
<text x="675.74" y="86.77">0.02</text>
<text x="396.96" y="95.62">ND</text>
<text x="409.08" y="95.62">ND</text>
<text x="421.2" y="95.62">ND</text>
<text x="433.32" y="95.62">ND</text>
<text x="445.44" y="95.62">ND</text>
<text x="457.56" y="95.62">ND</text>
<text x="469.69" y="95.62">ND</text>
<text x="481.81" y="95.62">ND</text>
<text x="493.93" y="95.62">ND</text>
<text x="506.05" y="95.62">ND</text>
<text x="518.17" y="95.62">ND</text>
<text x="530.29" y="95.62">ND</text>
<text x="542.41" y="95.62">-0.11</text>
<text x="554.53" y="95.62">-0.14</text>
<text x="566.65" y="95.62">-0</text>
<text x="578.77" y="95.62">-0.02</text>
<text x="590.89" y="95.62">-0.18</text>
<text x="603.01" y="95.62">-0.14</text>
<text x="615.14" y="95.62">0.156</text>
<text x="627.26" y="95.62">0.074</text>
<text x="639.38" y="95.62">ND</text>
<text x="651.5" y="95.62">ND</text>
<text x="663.62" y="95.62">ND</text>
<text x="675.74" y="95.62">ND</text>
<text x="396.96" y="104.48">-0.01</text>
<text x="409.08" y="104.48">0.022</text>
<text x="421.2" y="104.48">-0.04</text>
<text x="433.32" y="104.48" fill="#c00000" font-weight="bold">-0.57</text>
<text x="445.44" y="104.48" fill="#c00000" font-weight="bold">-0.25</text>
<text x="457.56" y="104.48">0.014</text>
<text x="469.69" y="104.48">-0.1</text>
<text x="481.81" y="104.48">-0.01</text>
<text x="493.93" y="104.48">0.028</text>
<text x="506.05" y="104.48">-0.11</text>
<text x="518.17" y="104.48" fill="#c00000" font-weight="bold">-0.21</text>
<text x="530.29" y="104.48">-0.15</text>
<text x="542.41" y="104.48">0.053</text>
<text x="554.53" y="104.48">-0.15</text>
<text x="566.65" y="104.48">0.038</text>
<text x="578.77" y="104.48">-0.06</text>
<text x="590.89" y="104.48">-0.1</text>
<text x="603.01" y="104.48">-0.11</text>
<text x="615.14" y="104.48">0.049</text>
<text x="627.26" y="104.48">0.004</text>
<text x="639.38" y="104.48">-0.01</text>
<text x="651.5" y="104.48">0.115</text>
<text x="663.62" y="104.48">0.079</text>
<text x="675.74" y="104.48">0.105</text>
<text x="396.96" y="113.34">-0.11</text>
<text x="409.08" y="113.34">0.002</text>
<text x="421.2" y="113.34">-0.08</text>
<text x="433.32" y="113.34" fill="#c00000" font-weight="bold">-0.7</text>
<text x="445.44" y="113.34">-0.15</text>
<text x="457.56" y="113.34">0.014</text>
<text x="469.69" y="113.34">-0.09</text>
<text x="481.81" y="113.34">0.021</text>
<text x="493.93" y="113.34">0.006</text>
<text x="506.05" y="113.34" fill="#c00000" font-weight="bold">-0.21</text>
<text x="518.17" y="113.34">-0.14</text>
<text x="530.29" y="113.34">-0.19</text>
<text x="542.41" y="113.34">0.06</text>
<text x="554.53" y="113.34">-0.12</text>
<text x="566.65" y="113.34">0.047</text>
<text x="578.77" y="113.34">-0.08</text>
<text x="590.89" y="113.34">-0.07</text>
<text x="603.01" y="113.34">-0.14</text>
<text x="615.14" y="113.34">0.042</text>
<text x="627.26" y="113.34">0.029</text>
<text x="639.38" y="113.34">-0.02</text>
<text x="651.5" y="113.34">0.141</text>
<text x="663.62" y="113.34">0.015</text>
<text x="675.74" y="113.34">0.12</text>
<text x="396.96" y="122.2">ND</text>
<text x="409.08" y="122.2">ND</text>
<text x="421.2" y="122.2">ND</text>
<text x="433.32" y="122.2">ND</text>
<text x="445.44" y="122.2">ND</text>
<text x="457.56" y="122.2">ND</text>
<text x="469.69" y="122.2">ND</text>
<text x="481.81" y="122.2">ND</text>
<text x="493.93" y="122.2">ND</text>
<text x="506.05" y="122.2">ND</text>
<text x="518.17" y="122.2">ND</text>
<text x="530.29" y="122.2">ND</text>
<text x="542.41" y="122.2">ND</text>
<text x="554.53" y="122.2">ND</text>
<text x="566.65" y="122.2">ND</text>
<text x="578.77" y="122.2">ND</text>
<text x="590.89" y="122.2">ND</text>
<text x="603.01" y="122.2">ND</text>
<text x="615.14" y="122.2">ND</text>
<text x="627.26" y="122.2">ND</text>
<text x="639.38" y="122.2">ND</text>
<text x="651.5" y="122.2">ND</text>
<text x="663.62" y="122.2">ND</text>
<text x="675.74" y="122.2">ND</text>
<text x="396.96" y="131.05">-0.07</text>
<text x="409.08" y="131.05">8E-04</text>
<text x="421.2" y="131.05">-0.07</text>
<text x="433.32" y="131.05">-0.09</text>
<text x="445.44" y="131.05" fill="#c00000" font-weight="bold">-0.57</text>
<text x="457.56" y="131.05">-0.02</text>
<text x="469.69" y="131.05" fill="#c00000" font-weight="bold">-0.24</text>
<text x="481.81" y="131.05">-0.11</text>
<text x="493.93" y="131.05">-0.03</text>
<text x="506.05" y="131.05">-0.03</text>
<text x="518.17" y="131.05">0.005</text>
<text x="530.29" y="131.05">-0.14</text>
<text x="542.41" y="131.05">-0</text>
<text x="554.53" y="131.05">-0.03</text>
<text x="566.65" y="131.05">0.043</text>
<text x="578.77" y="131.05">-0.14</text>
<text x="590.89" y="131.05">-0.08</text>
<text x="603.01" y="131.05">-0.16</text>
<text x="615.14" y="131.05">-0.05</text>
<text x="627.26" y="131.05">-0.01</text>
<text x="639.38" y="131.05">-0.04</text>
<text x="651.5" y="131.05">0.015</text>
<text x="663.62" y="131.05">-0.06</text>
<text x="675.74" y="131.05">0.027</text>
<text x="396.96" y="139.91">0.004</text>
<text x="409.08" y="139.91">0.005</text>
<text x="421.2" y="139.91">-0.02</text>
<text x="433.32" y="139.91">0.027</text>
<text x="445.44" y="139.91">-0.05</text>
<text x="457.56" y="139.91" fill="#c00000" font-weight="bold">-1.06</text>
<text x="469.69" y="139.91">-0.16</text>
<text x="481.81" y="139.91">-0.14</text>
<text x="493.93" y="139.91">0.055</text>
<text x="506.05" y="139.91">0.008</text>
<text x="518.17" y="139.91">0.005</text>
<text x="530.29" y="139.91">0.024</text>
<text x="542.41" y="139.91">0.055</text>
<text x="554.53" y="139.91">-0.03</text>
<text x="566.65" y="139.91">0.119</text>
<text x="578.77" y="139.91">-0.1</text>
<text x="590.89" y="139.91">-0.15</text>
<text x="603.01" y="139.91">-0.08</text>
<text x="615.14" y="139.91">0.065</text>
<text x="627.26" y="139.91">-0.05</text>
<text x="639.38" y="139.91">-0.03</text>
<text x="651.5" y="139.91">-0.02</text>
<text x="663.62" y="139.91">0.053</text>
<text x="675.74" y="139.91">8E-05</text>
<text x="396.96" y="148.77">0.002</text>
<text x="409.08" y="148.77">0.026</text>
<text x="421.2" y="148.77">0.119</text>
<text x="433.32" y="148.77">0.043</text>
<text x="445.44" y="148.77">0.109</text>
<text x="457.56" y="148.77">0.003</text>
<text x="469.69" y="148.77">-0.11</text>
<text x="481.81" y="148.77">0.133</text>
<text x="493.93" y="148.77">0.079</text>
<text x="506.05" y="148.77">0.071</text>
<text x="518.17" y="148.77">-0.15</text>
<text x="530.29" y="148.77">0.045</text>
<text x="542.41" y="148.77">0.02</text>
<text x="554.53" y="148.77">0.056</text>
<text x="566.65" y="148.77">-0.14</text>
<text x="578.77" y="148.77">-0.03</text>
<text x="590.89" y="148.77">-0.12</text>
<text x="603.01" y="148.77">-0.08</text>
<text x="615.14" y="148.77">-0.13</text>
<text x="627.26" y="148.77">-0.14</text>
<text x="639.38" y="148.77">0.05</text>
<text x="651.5" y="148.77">-0.04</text>
<text x="663.62" y="148.77">0.142</text>
<text x="675.74" y="148.77">-0.02</text>
<text x="396.96" y="157.63">0.002</text>
<text x="409.08" y="157.63">0.015</text>
<text x="421.2" y="157.63">-0.2</text>
<text x="433.32" y="157.63">-0.08</text>
<text x="445.44" y="157.63">-0.17</text>
<text x="457.56" y="157.63">0.014</text>
<text x="469.69" y="157.63">-0.07</text>
<text x="481.81" y="157.63" fill="#c00000" font-weight="bold">-0.93</text>
<text x="493.93" y="157.63">-0.14</text>
<text x="506.05" y="157.63">-0.04</text>
<text x="518.17" y="157.63">-0.17</text>
<text x="530.29" y="157.63" fill="#c00000" font-weight="bold">-0.29</text>
<text x="542.41" y="157.63">0.056</text>
<text x="554.53" y="157.63">-0.12</text>
<text x="566.65" y="157.63">-0.02</text>
<text x="578.77" y="157.63">-0.08</text>
<text x="590.89" y="157.63">-0.21</text>
<text x="603.01" y="157.63" fill="#c00000" font-weight="bold">-0.22</text>
<text x="615.14" y="157.63">-0.02</text>
<text x="627.26" y="157.63">0.061</text>
<text x="639.38" y="157.63">0.005</text>
<text x="651.5" y="157.63">0.043</text>
<text x="663.62" y="157.63">0.015</text>
<text x="675.74" y="157.63">0.118</text>
<text x="396.96" y="166.48">0.005</text>
<text x="409.08" y="166.48">0.023</text>
<text x="421.2" y="166.48">-0.04</text>
<text x="433.32" y="166.48">-0.04</text>
<text x="445.44" y="166.48" fill="#c00000" font-weight="bold">-0.24</text>
<text x="457.56" y="166.48">0.02</text>
<text x="469.69" y="166.48">-0.14</text>
<text x="481.81" y="166.48">-0.06</text>
<text x="493.93" y="166.48" fill="#c00000" font-weight="bold">-0.6</text>
<text x="506.05" y="166.48">-0.02</text>
<text x="518.17" y="166.48">-0.06</text>
<text x="530.29" y="166.48">-0.17</text>
<text x="542.41" y="166.48">-0.11</text>
<text x="554.53" y="166.48">-0.13</text>
<text x="566.65" y="166.48">-0.09</text>
<text x="578.77" y="166.48">-0.05</text>
<text x="590.89" y="166.48">-0.17</text>
<text x="603.01" y="166.48">-0.08</text>
<text x="615.14" y="166.48">-0.05</text>
<text x="627.26" y="166.48">-0.15</text>
<text x="639.38" y="166.48">-0.01</text>
<text x="651.5" y="166.48">0.076</text>
<text x="663.62" y="166.48">0.019</text>
<text x="675.74" y="166.48">0.101</text>
<text x="396.96" y="175.34">0.016</text>
<text x="409.08" y="175.34">-0.03</text>
<text x="421.2" y="175.34" fill="#00b0f0" font-weight="bold">0.222</text>
<text x="433.32" y="175.34">-0.08</text>
<text x="445.44" y="175.34">0.131</text>
<text x="457.56" y="175.34">0.055</text>
<text x="469.69" y="175.34">0.15</text>
<text x="481.81" y="175.34">0.002</text>
<text x="493.93" y="175.34">-0.38</text>
<text x="506.05" y="175.34" fill="#c00000" font-weight="bold">-0.91</text>
<text x="518.17" y="175.34">-0.15</text>
<text x="530.29" y="175.34">0.036</text>
<text x="542.41" y="175.34">0.034</text>
<text x="554.53" y="175.34">-0.21</text>
<text x="566.65" y="175.34">-0.26</text>
<text x="578.77" y="175.34">0.02</text>
<text x="590.89" y="175.34">-0.15</text>
<text x="603.01" y="175.34">-0.15</text>
<text x="615.14" y="175.34">-0.05</text>
<text x="627.26" y="175.34">-0.15</text>
<text x="639.38" y="175.34">0.017</text>
<text x="651.5" y="175.34">0.102</text>
<text x="663.62" y="175.34">-0.02</text>
<text x="675.74" y="175.34">-0.08</text>
<text x="396.96" y="184.2">0.058</text>
<text x="409.08" y="184.2">-0.02</text>
<text x="421.2" y="184.2">0.005</text>
<text x="433.32" y="184.2">-0.02</text>
<text x="445.44" y="184.2" fill="#00b0f0" font-weight="bold">0.211</text>
<text x="457.56" y="184.2">0.072</text>
<text x="469.69" y="184.2">-0.03</text>
<text x="481.81" y="184.2">0.175</text>
<text x="493.93" y="184.2">0.052</text>
<text x="506.05" y="184.2">0.141</text>
<text x="518.17" y="184.2" fill="#c00000" font-weight="bold">-1.41</text>
<text x="530.29" y="184.2">0.196</text>
<text x="542.41" y="184.2">0.046</text>
<text x="554.53" y="184.2">0.05</text>
<text x="566.65" y="184.2" fill="#c00000" font-weight="bold">-0.22</text>
<text x="578.77" y="184.2">-0.13</text>
<text x="590.89" y="184.2">0.022</text>
<text x="603.01" y="184.2">0.009</text>
<text x="615.14" y="184.2">-0.02</text>
<text x="627.26" y="184.2">0.013</text>
<text x="639.38" y="184.2">-0.02</text>
<text x="651.5" y="184.2">2E-04</text>
<text x="663.62" y="184.2">-0.06</text>
<text x="675.74" y="184.2">-0.1</text>
<text x="396.96" y="193.06">-0.06</text>
<text x="409.08" y="193.06">-0.03</text>
<text x="421.2" y="193.06">-0.09</text>
<text x="433.32" y="193.06">-0.05</text>
<text x="445.44" y="193.06">-0.17</text>
<text x="457.56" y="193.06">-0.09</text>
<text x="469.69" y="193.06" fill="#c00000" font-weight="bold">-0.29</text>
<text x="481.81" y="193.06">-0.13</text>
<text x="493.93" y="193.06">-0.11</text>
<text x="506.05" y="193.06">-0.06</text>
<text x="518.17" y="193.06">-0.02</text>
<text x="530.29" y="193.06" fill="#c00000" font-weight="bold">-0.55</text>
<text x="542.41" y="193.06">-0.09</text>
<text x="554.53" y="193.06">-0.1</text>
<text x="566.65" y="193.06">-0.02</text>
<text x="578.77" y="193.06">0.025</text>
<text x="590.89" y="193.06">-0.11</text>
<text x="603.01" y="193.06">-0.05</text>
<text x="615.14" y="193.06">0.071</text>
<text x="627.26" y="193.06">-0.06</text>
<text x="639.38" y="193.06">-0.09</text>
<text x="651.5" y="193.06">-0.04</text>
<text x="663.62" y="193.06">0.005</text>
<text x="675.74" y="193.06">0.055</text>
<text x="396.96" y="201.92">-0.01</text>
<text x="409.08" y="201.92">0.014</text>
<text x="421.2" y="201.92">-0.06</text>
<text x="433.32" y="201.92">0.016</text>
<text x="445.44" y="201.92">-0.07</text>
<text x="457.56" y="201.92">-0.08</text>
<text x="469.69" y="201.92">-0.02</text>
<text x="481.81" y="201.92">-0.09</text>
<text x="493.93" y="201.92">-0.01</text>
<text x="506.05" y="201.92">-0</text>
<text x="518.17" y="201.92">0.026</text>
<text x="530.29" y="201.92">-0.02</text>
<text x="542.41" y="201.92" fill="#c00000" font-weight="bold">-0.65</text>
<text x="554.53" y="201.92">-0.19</text>
<text x="566.65" y="201.92">0.005</text>
<text x="578.77" y="201.92">-0.04</text>
<text x="590.89" y="201.92">-0.18</text>
<text x="603.01" y="201.92">-0.02</text>
<text x="615.14" y="201.92">0.054</text>
<text x="627.26" y="201.92">-0.06</text>
<text x="639.38" y="201.92">-0.04</text>
<text x="651.5" y="201.92">-0</text>
<text x="663.62" y="201.92">0.015</text>
<text x="675.74" y="201.92">0.047</text>
<text x="396.96" y="210.77">-0.01</text>
<text x="409.08" y="210.77">-0.02</text>
<text x="421.2" y="210.77">-0.1</text>
<text x="433.32" y="210.77">0.001</text>
<text x="445.44" y="210.77">-0.05</text>
<text x="457.56" y="210.77">-0.16</text>
<text x="469.69" y="210.77" fill="#c00000" font-weight="bold">-0.33</text>
<text x="481.81" y="210.77">-0.1</text>
<text x="493.93" y="210.77">0.025</text>
<text x="506.05" y="210.77">-0</text>
<text x="518.17" y="210.77">0.012</text>
<text x="530.29" y="210.77" fill="#c00000" font-weight="bold">-0.26</text>
<text x="542.41" y="210.77" fill="#00b0f0" font-weight="bold">0.334</text>
<text x="554.53" y="210.77" fill="#c00000" font-weight="bold">-1.95</text>
<text x="566.65" y="210.77">-0.03</text>
<text x="578.77" y="210.77">-0.13</text>
<text x="590.89" y="210.77">-0.11</text>
<text x="603.01" y="210.77">-0.09</text>
<text x="615.14" y="210.77">0.189</text>
<text x="627.26" y="210.77">0.034</text>
<text x="639.38" y="210.77">-0.05</text>
<text x="651.5" y="210.77">-0.01</text>
<text x="663.62" y="210.77">0.001</text>
<text x="675.74" y="210.77">-0.08</text>
<text x="396.96" y="219.63">-0.06</text>
<text x="409.08" y="219.63">-0.01</text>
<text x="421.2" y="219.63">7E-05</text>
<text x="433.32" y="219.63">-0.06</text>
<text x="445.44" y="219.63">-0.15</text>
<text x="457.56" y="219.63" fill="#c00000" font-weight="bold">-0.23</text>
<text x="469.69" y="219.63">-0.17</text>
<text x="481.81" y="219.63" fill="#c00000" font-weight="bold">-0.26</text>
<text x="493.93" y="219.63">-0.06</text>
<text x="506.05" y="219.63">0.014</text>
<text x="518.17" y="219.63">0.038</text>
<text x="530.29" y="219.63">0.03</text>
<text x="542.41" y="219.63">-0.14</text>
<text x="554.53" y="219.63">-0.11</text>
<text x="566.65" y="219.63" fill="#c00000" font-weight="bold">-0.76</text>
<text x="578.77" y="219.63">-0.09</text>
<text x="590.89" y="219.63">-0.14</text>
<text x="603.01" y="219.63">0.029</text>
<text x="615.14" y="219.63">0.068</text>
<text x="627.26" y="219.63">-0.07</text>
<text x="639.38" y="219.63">-0.15</text>
<text x="651.5" y="219.63">-0.04</text>
<text x="663.62" y="219.63">-0</text>
<text x="675.74" y="219.63">0.021</text>
<text x="396.96" y="228.49">-0.01</text>
<text x="409.08" y="228.49">0.002</text>
<text x="421.2" y="228.49">-0.07</text>
<text x="433.32" y="228.49">-0.05</text>
<text x="445.44" y="228.49">-0.07</text>
<text x="457.56" y="228.49">-0.08</text>
<text x="469.69" y="228.49" fill="#c00000" font-weight="bold">-0.23</text>
<text x="481.81" y="228.49">-0.07</text>
<text x="493.93" y="228.49">-0</text>
<text x="506.05" y="228.49">-0.06</text>
<text x="518.17" y="228.49">0.008</text>
<text x="530.29" y="228.49">-0.15</text>
<text x="542.41" y="228.49">-0.06</text>
<text x="554.53" y="228.49">-0.02</text>
<text x="566.65" y="228.49">0.016</text>
<text x="578.77" y="228.49">0.28</text>
<text x="590.89" y="228.49">-0.18</text>
<text x="603.01" y="228.49">-0.09</text>
<text x="615.14" y="228.49">0.05</text>
<text x="627.26" y="228.49">-0.06</text>
<text x="639.38" y="228.49">-0.02</text>
<text x="651.5" y="228.49">-0</text>
<text x="663.62" y="228.49">0.106</text>
<text x="675.74" y="228.49">0.106</text>
<text x="396.96" y="237.35">-0.05</text>
<text x="409.08" y="237.35">-0.03</text>
<text x="421.2" y="237.35">-0.05</text>
<text x="433.32" y="237.35">-0.01</text>
<text x="445.44" y="237.35">-0.05</text>
<text x="457.56" y="237.35">-0.07</text>
<text x="469.69" y="237.35">-0.07</text>
<text x="481.81" y="237.35">-0</text>
<text x="493.93" y="237.35">0.068</text>
<text x="506.05" y="237.35">0.008</text>
<text x="518.17" y="237.35">0.006</text>
<text x="530.29" y="237.35">0.144</text>
<text x="542.41" y="237.35">0.037</text>
<text x="554.53" y="237.35">-0.11</text>
<text x="566.65" y="237.35">0.003</text>
<text x="578.77" y="237.35">-0.03</text>
<text x="590.89" y="237.35" fill="#c00000" font-weight="bold">-1.36</text>
<text x="603.01" y="237.35">-0.03</text>
<text x="615.14" y="237.35">-0.03</text>
<text x="627.26" y="237.35">0.028</text>
<text x="639.38" y="237.35">0.077</text>
<text x="651.5" y="237.35">0.108</text>
<text x="663.62" y="237.35">0.102</text>
<text x="675.74" y="237.35">0.157</text>
<text x="396.96" y="246.2">-0.04</text>
<text x="409.08" y="246.2">-0.03</text>
<text x="421.2" y="246.2">0.001</text>
<text x="433.32" y="246.2">-0.04</text>
<text x="445.44" y="246.2">-0.01</text>
<text x="457.56" y="246.2">-0.06</text>
<text x="469.69" y="246.2">-0.15</text>
<text x="481.81" y="246.2">-0.14</text>
<text x="493.93" y="246.2">0.001</text>
<text x="506.05" y="246.2">0.052</text>
<text x="518.17" y="246.2">0.139</text>
<text x="530.29" y="246.2">-0.15</text>
<text x="542.41" y="246.2" fill="#c00000" font-weight="bold">-0.3</text>
<text x="554.53" y="246.2">-0.01</text>
<text x="566.65" y="246.2">-0.03</text>
<text x="578.77" y="246.2">0.027</text>
<text x="590.89" y="246.2" fill="#c00000" font-weight="bold">-0.63</text>
<text x="603.01" y="246.2">-0.19</text>
<text x="615.14" y="246.2">0.012</text>
<text x="627.26" y="246.2">-0.02</text>
<text x="639.38" y="246.2">0.036</text>
<text x="651.5" y="246.2">0.034</text>
<text x="663.62" y="246.2">0.044</text>
<text x="675.74" y="246.2">0.001</text>
<text x="396.96" y="255.06">ND</text>
<text x="409.08" y="255.06">ND</text>
<text x="421.2" y="255.06">ND</text>
<text x="433.32" y="255.06">ND</text>
<text x="445.44" y="255.06">ND</text>
<text x="457.56" y="255.06">ND</text>
<text x="469.69" y="255.06">ND</text>
<text x="481.81" y="255.06">ND</text>
<text x="493.93" y="255.06">ND</text>
<text x="506.05" y="255.06">ND</text>
<text x="518.17" y="255.06">ND</text>
<text x="530.29" y="255.06">ND</text>
<text x="542.41" y="255.06">ND</text>
<text x="554.53" y="255.06">ND</text>
<text x="566.65" y="255.06">ND</text>
<text x="578.77" y="255.06">ND</text>
<text x="590.89" y="255.06">ND</text>
<text x="603.01" y="255.06">ND</text>
<text x="615.14" y="255.06">ND</text>
<text x="627.26" y="255.06">ND</text>
<text x="639.38" y="255.06">ND</text>
<text x="651.5" y="255.06">ND</text>
<text x="663.62" y="255.06">ND</text>
<text x="675.74" y="255.06">ND</text>
<text x="396.96" y="263.92">ND</text>
<text x="409.08" y="263.92">ND</text>
<text x="421.2" y="263.92">ND</text>
<text x="433.32" y="263.92">ND</text>
<text x="445.44" y="263.92">ND</text>
<text x="457.56" y="263.92">ND</text>
<text x="469.69" y="263.92">ND</text>
<text x="481.81" y="263.92">ND</text>
<text x="493.93" y="263.92">ND</text>
<text x="506.05" y="263.92">ND</text>
<text x="518.17" y="263.92">ND</text>
<text x="530.29" y="263.92">ND</text>
<text x="542.41" y="263.92">ND</text>
<text x="554.53" y="263.92">ND</text>
<text x="566.65" y="263.92">ND</text>
<text x="578.77" y="263.92">ND</text>
<text x="590.89" y="263.92">ND</text>
<text x="603.01" y="263.92">ND</text>
<text x="615.14" y="263.92">ND</text>
<text x="627.26" y="263.92">ND</text>
<text x="639.38" y="263.92">ND</text>
<text x="651.5" y="263.92">ND</text>
<text x="663.62" y="263.92">ND</text>
<text x="675.74" y="263.92">ND</text>
<text x="396.96" y="272.78">0.004</text>
<text x="409.08" y="272.78">-0.02</text>
<text x="421.2" y="272.78">-0.1</text>
<text x="433.32" y="272.78">-0.13</text>
<text x="445.44" y="272.78" fill="#c00000" font-weight="bold">-0.22</text>
<text x="457.56" y="272.78">-0.02</text>
<text x="469.69" y="272.78" fill="#c00000" font-weight="bold">-0.25</text>
<text x="481.81" y="272.78">-0.14</text>
<text x="493.93" y="272.78">0.006</text>
<text x="506.05" y="272.78">-0.12</text>
<text x="518.17" y="272.78">-0.04</text>
<text x="530.29" y="272.78">-0.06</text>
<text x="542.41" y="272.78">0.005</text>
<text x="554.53" y="272.78">-0.16</text>
<text x="566.65" y="272.78">0.022</text>
<text x="578.77" y="272.78" fill="#c00000" font-weight="bold">-0.2</text>
<text x="590.89" y="272.78">0.015</text>
<text x="603.01" y="272.78">-0.13</text>
<text x="615.14" y="272.78" fill="#c00000" font-weight="bold">-0.49</text>
<text x="627.26" y="272.78">0.118</text>
<text x="639.38" y="272.78">0.048</text>
<text x="651.5" y="272.78">-0.08</text>
<text x="663.62" y="272.78" fill="#00b0f0" font-weight="bold">0.315</text>
<text x="675.74" y="272.78">0.024</text>
<text x="396.96" y="281.63">-0.07</text>
<text x="409.08" y="281.63">0.009</text>
<text x="421.2" y="281.63">-0.2</text>
<text x="433.32" y="281.63">0.016</text>
<text x="445.44" y="281.63">-0.11</text>
<text x="457.56" y="281.63">-0.17</text>
<text x="469.69" y="281.63">-0.12</text>
<text x="481.81" y="281.63" fill="#c00000" font-weight="bold">-0.23</text>
<text x="493.93" y="281.63">0.058</text>
<text x="506.05" y="281.63">-0.02</text>
<text x="518.17" y="281.63">-0.01</text>
<text x="530.29" y="281.63">-0</text>
<text x="542.41" y="281.63">0.011</text>
<text x="554.53" y="281.63">-0.04</text>
<text x="566.65" y="281.63">-0.03</text>
<text x="578.77" y="281.63">-0.1</text>
<text x="590.89" y="281.63">-0.13</text>
<text x="603.01" y="281.63">0.096</text>
<text x="615.14" y="281.63">0.096</text>
<text x="627.26" y="281.63" fill="#c00000" font-weight="bold">-0.94</text>
<text x="639.38" y="281.63">0.013</text>
<text x="651.5" y="281.63">0.154</text>
<text x="663.62" y="281.63">0.144</text>
<text x="675.74" y="281.63">0.075</text>
<text x="396.96" y="290.49">0.019</text>
<text x="409.08" y="290.49">0.027</text>
<text x="421.2" y="290.49">-0.18</text>
<text x="433.32" y="290.49">0.067</text>
<text x="445.44" y="290.49">0.009</text>
<text x="457.56" y="290.49">-0.05</text>
<text x="469.69" y="290.49" fill="#c00000" font-weight="bold">-0.2</text>
<text x="481.81" y="290.49" fill="#c00000" font-weight="bold">-0.3</text>
<text x="493.93" y="290.49">0.017</text>
<text x="506.05" y="290.49">-0.04</text>
<text x="518.17" y="290.49">0.011</text>
<text x="530.29" y="290.49">0.168</text>
<text x="542.41" y="290.49">0.053</text>
<text x="554.53" y="290.49" fill="#c00000" font-weight="bold">-0.28</text>
<text x="566.65" y="290.49">-0</text>
<text x="578.77" y="290.49">-0.04</text>
<text x="590.89" y="290.49">-0.17</text>
<text x="603.01" y="290.49">-0</text>
<text x="615.14" y="290.49">0.074</text>
<text x="627.26" y="290.49">0.034</text>
<text x="639.38" y="290.49" fill="#c00000" font-weight="bold">-1.69</text>
<text x="651.5" y="290.49">-0.03</text>
<text x="663.62" y="290.49">-0.02</text>
<text x="675.74" y="290.49">-0.01</text>
<text x="396.96" y="299.35">-0.04</text>
<text x="409.08" y="299.35">0.004</text>
<text x="421.2" y="299.35">-0.12</text>
<text x="433.32" y="299.35">-0.05</text>
<text x="445.44" y="299.35">-0.16</text>
<text x="457.56" y="299.35">-0.08</text>
<text x="469.69" y="299.35">-0.27</text>
<text x="481.81" y="299.35">-0.04</text>
<text x="493.93" y="299.35">-0.03</text>
<text x="506.05" y="299.35">-0.04</text>
<text x="518.17" y="299.35">8E-04</text>
<text x="530.29" y="299.35">-0.04</text>
<text x="542.41" y="299.35">-0</text>
<text x="554.53" y="299.35">-0.12</text>
<text x="566.65" y="299.35">-0.01</text>
<text x="578.77" y="299.35">-0.05</text>
<text x="590.89" y="299.35">-0.13</text>
<text x="603.01" y="299.35">-0.11</text>
<text x="615.14" y="299.35">0.036</text>
<text x="627.26" y="299.35">-0.09</text>
<text x="639.38" y="299.35">-0.04</text>
<text x="651.5" y="299.35" fill="#c00000" font-weight="bold">-0.62</text>
<text x="663.62" y="299.35">0.099</text>
<text x="675.74" y="299.35">0.046</text>
<text x="396.96" y="308.21">-0.04</text>
<text x="409.08" y="308.21">-0.01</text>
<text x="421.2" y="308.21">-0.12</text>
<text x="433.32" y="308.21">-0.07</text>
<text x="445.44" y="308.21">-0.16</text>
<text x="457.56" y="308.21">-0.08</text>
<text x="469.69" y="308.21">-0.27</text>
<text x="481.81" y="308.21">-0.01</text>
<text x="493.93" y="308.21">-0.01</text>
<text x="506.05" y="308.21">-0.01</text>
<text x="518.17" y="308.21">0.028</text>
<text x="530.29" y="308.21">-0.08</text>
<text x="542.41" y="308.21">0.03</text>
<text x="554.53" y="308.21">-0.11</text>
<text x="566.65" y="308.21">-0.02</text>
<text x="578.77" y="308.21">0.008</text>
<text x="590.89" y="308.21">-0.13</text>
<text x="603.01" y="308.21">-0.11</text>
<text x="615.14" y="308.21">0.043</text>
<text x="627.26" y="308.21">-0.06</text>
<text x="639.38" y="308.21">-0.02</text>
<text x="651.5" y="308.21" fill="#c00000" font-weight="bold">-0.53</text>
<text x="663.62" y="308.21">0.107</text>
<text x="675.74" y="308.21">0.066</text>
<text x="396.96" y="317.06">ND</text>
<text x="409.08" y="317.06">ND</text>
<text x="421.2" y="317.06">ND</text>
<text x="433.32" y="317.06">ND</text>
<text x="445.44" y="317.06">-0.18</text>
<text x="457.56" y="317.06">ND</text>
<text x="469.69" y="317.06">ND</text>
<text x="481.81" y="317.06">ND</text>
<text x="493.93" y="317.06">ND</text>
<text x="506.05" y="317.06">ND</text>
<text x="518.17" y="317.06">ND</text>
<text x="530.29" y="317.06">ND</text>
<text x="542.41" y="317.06">ND</text>
<text x="554.53" y="317.06">ND</text>
<text x="566.65" y="317.06">ND</text>
<text x="578.77" y="317.06">ND</text>
<text x="590.89" y="317.06">0.029</text>
<text x="603.01" y="317.06">0.155</text>
<text x="615.14" y="317.06">0.226</text>
<text x="627.26" y="317.06" fill="#00b0f0" font-weight="bold">0.274</text>
<text x="639.38" y="317.06">ND</text>
<text x="651.5" y="317.06">ND</text>
<text x="663.62" y="317.06">ND</text>
<text x="675.74" y="317.06">ND</text>
<text x="396.96" y="325.92">0.074</text>
<text x="409.08" y="325.92">0.02</text>
<text x="421.2" y="325.92">-0.07</text>
<text x="433.32" y="325.92">-0.02</text>
<text x="445.44" y="325.92">-0.06</text>
<text x="457.56" y="325.92">-0.03</text>
<text x="469.69" y="325.92">-0.08</text>
<text x="481.81" y="325.92">-0.08</text>
<text x="493.93" y="325.92">-0.01</text>
<text x="506.05" y="325.92">0.074</text>
<text x="518.17" y="325.92">0.149</text>
<text x="530.29" y="325.92">0.057</text>
<text x="542.41" y="325.92">0.13</text>
<text x="554.53" y="325.92">-0.18</text>
<text x="566.65" y="325.92">0.019</text>
<text x="578.77" y="325.92">0.059</text>
<text x="590.89" y="325.92">0.027</text>
<text x="603.01" y="325.92">-0.01</text>
<text x="615.14" y="325.92">2E-04</text>
<text x="627.26" y="325.92">0.084</text>
<text x="639.38" y="325.92">0.05</text>
<text x="651.5" y="325.92">0.098</text>
<text x="663.62" y="325.92" fill="#00b0f0" font-weight="bold">0.31</text>
<text x="675.74" y="325.92" fill="#c00000" font-weight="bold">-1.21</text>
</g>
<text x="388.7" y="43.38" font-size="5.84" text-anchor="end" textLength="17.72" lengthAdjust="spacingAndGlyphs" stroke="#000" stroke-width="0.12">UBE2A</text>
<text x="388.7" y="52.24" font-size="5.84" text-anchor="end" textLength="17.49" lengthAdjust="spacingAndGlyphs" stroke="#000" stroke-width="0.12">UBE2B</text>
<text x="388.7" y="61.09" font-size="5.84" text-anchor="end" textLength="17.42" lengthAdjust="spacingAndGlyphs" stroke="#000" stroke-width="0.12">UBE2C</text>
<text x="388.7" y="69.95" font-size="5.84" text-anchor="end" textLength="21.2" lengthAdjust="spacingAndGlyphs" stroke="#000" stroke-width="0.12">UBE2D1</text>
<text x="388.7" y="78.81" font-size="5.84" text-anchor="end" textLength="21.2" lengthAdjust="spacingAndGlyphs" stroke="#000" stroke-width="0.12">UBE2D2</text>
<text x="388.7" y="87.67" font-size="5.84" text-anchor="end" textLength="21.2" lengthAdjust="spacingAndGlyphs" stroke="#000" stroke-width="0.12">UBE2D3</text>
<text x="388.7" y="96.52" font-size="5.84" text-anchor="end" textLength="21.2" lengthAdjust="spacingAndGlyphs" stroke="#000" stroke-width="0.12">UBE2D4</text>
<text x="388.7" y="105.38" font-size="5.84" text-anchor="end" textLength="20.39" lengthAdjust="spacingAndGlyphs" stroke="#000" stroke-width="0.12">UBE2E1</text>
<text x="388.7" y="114.24" font-size="5.84" text-anchor="end" textLength="20.39" lengthAdjust="spacingAndGlyphs" stroke="#000" stroke-width="0.12">UBE2E2</text>
<text x="388.7" y="123.1" font-size="5.84" text-anchor="end" textLength="20.39" lengthAdjust="spacingAndGlyphs" stroke="#000" stroke-width="0.12">UBE2E3</text>
<text x="388.7" y="131.95" font-size="5.84" text-anchor="end" textLength="16.95" lengthAdjust="spacingAndGlyphs" stroke="#000" stroke-width="0.12">UBE2F</text>
<text x="388.7" y="140.81" font-size="5.84" text-anchor="end" textLength="21.3" lengthAdjust="spacingAndGlyphs" stroke="#000" stroke-width="0.12">UBE2G1</text>
<text x="388.7" y="149.67" font-size="5.84" text-anchor="end" textLength="21.3" lengthAdjust="spacingAndGlyphs" stroke="#000" stroke-width="0.12">UBE2G2</text>
<text x="388.7" y="158.53" font-size="5.84" text-anchor="end" textLength="18" lengthAdjust="spacingAndGlyphs" stroke="#000" stroke-width="0.12">UBE2H</text>
<text x="388.7" y="167.38" font-size="5.84" text-anchor="end" textLength="15.62" lengthAdjust="spacingAndGlyphs" stroke="#000" stroke-width="0.12">UBE2I</text>
<text x="388.7" y="176.24" font-size="5.84" text-anchor="end" textLength="19.3" lengthAdjust="spacingAndGlyphs" stroke="#000" stroke-width="0.12">UBE2J1</text>
<text x="388.7" y="185.1" font-size="5.84" text-anchor="end" textLength="19.3" lengthAdjust="spacingAndGlyphs" stroke="#000" stroke-width="0.12">UBE2J2</text>
<text x="388.7" y="193.96" font-size="5.84" text-anchor="end" textLength="17.34" lengthAdjust="spacingAndGlyphs" stroke="#000" stroke-width="0.12">UBE2K</text>
<text x="388.7" y="202.82" font-size="5.84" text-anchor="end" textLength="19.95" lengthAdjust="spacingAndGlyphs" stroke="#000" stroke-width="0.12">UBE2L3</text>
<text x="388.7" y="211.67" font-size="5.84" text-anchor="end" textLength="19.95" lengthAdjust="spacingAndGlyphs" stroke="#000" stroke-width="0.12">UBE2L6</text>
<text x="388.7" y="220.53" font-size="5.84" text-anchor="end" textLength="19.49" lengthAdjust="spacingAndGlyphs" stroke="#000" stroke-width="0.12">UBE2M</text>
<text x="388.7" y="229.39" font-size="5.84" text-anchor="end" textLength="18.15" lengthAdjust="spacingAndGlyphs" stroke="#000" stroke-width="0.12">UBE2N</text>
<text x="388.7" y="238.25" font-size="5.84" text-anchor="end" textLength="21.57" lengthAdjust="spacingAndGlyphs" stroke="#000" stroke-width="0.12">UBE2Q1</text>
<text x="388.7" y="247.1" font-size="5.84" text-anchor="end" textLength="21.57" lengthAdjust="spacingAndGlyphs" stroke="#000" stroke-width="0.12">UBE2Q2</text>
<text x="388.7" y="255.96" font-size="5.84" text-anchor="end" textLength="24.27" lengthAdjust="spacingAndGlyphs" stroke="#000" stroke-width="0.12">UBE2Q2L</text>
<text x="388.7" y="264.82" font-size="5.84" text-anchor="end" textLength="24.27" lengthAdjust="spacingAndGlyphs" stroke="#000" stroke-width="0.12">UBE2QL1</text>
<text x="388.7" y="273.68" font-size="5.84" text-anchor="end" textLength="20.74" lengthAdjust="spacingAndGlyphs" stroke="#000" stroke-width="0.12">UBE2R2</text>
<text x="388.7" y="282.53" font-size="5.84" text-anchor="end" textLength="16.95" lengthAdjust="spacingAndGlyphs" stroke="#000" stroke-width="0.12">UBE2S</text>
<text x="388.7" y="291.39" font-size="5.84" text-anchor="end" textLength="17.13" lengthAdjust="spacingAndGlyphs" stroke="#000" stroke-width="0.12">UBE2T</text>
<text x="388.7" y="300.25" font-size="5.84" text-anchor="end" textLength="20.9" lengthAdjust="spacingAndGlyphs" stroke="#000" stroke-width="0.12">UBE2V1</text>
<text x="388.7" y="309.11" font-size="5.84" text-anchor="end" textLength="20.9" lengthAdjust="spacingAndGlyphs" stroke="#000" stroke-width="0.12">UBE2V2</text>
<text x="388.7" y="317.96" font-size="5.84" text-anchor="end" textLength="19.71" lengthAdjust="spacingAndGlyphs" stroke="#000" stroke-width="0.12">UBE2W</text>
<text x="388.7" y="326.82" font-size="5.84" text-anchor="end" textLength="17.01" lengthAdjust="spacingAndGlyphs" stroke="#000" stroke-width="0.12">UBE2Z</text>
<text font-size="6.06" textLength="24.57" lengthAdjust="spacingAndGlyphs" transform="translate(399.86 35.1) rotate(-90)" stroke="#000" stroke-width="0.12">UBE2A/B</text>
<text font-size="6.06" textLength="18.08" lengthAdjust="spacingAndGlyphs" transform="translate(411.98 35.1) rotate(-90)" stroke="#000" stroke-width="0.12">UBE2C</text>
<text font-size="6.06" textLength="33.89" lengthAdjust="spacingAndGlyphs" transform="translate(424.1 35.1) rotate(-90)" stroke="#000" stroke-width="0.12">UBE2D1/2/3</text>
<text font-size="6.06" textLength="27.1" lengthAdjust="spacingAndGlyphs" transform="translate(436.22 35.1) rotate(-90)" stroke="#000" stroke-width="0.12">UBE2E1/2</text>
<text font-size="6.06" textLength="17.58" lengthAdjust="spacingAndGlyphs" transform="translate(448.34 35.1) rotate(-90)" stroke="#000" stroke-width="0.12">UBE2F</text>
<text font-size="6.06" textLength="22.1" lengthAdjust="spacingAndGlyphs" transform="translate(460.46 35.1) rotate(-90)" stroke="#000" stroke-width="0.12">UBE2G1</text>
<text font-size="6.06" textLength="22.1" lengthAdjust="spacingAndGlyphs" transform="translate(472.59 35.1) rotate(-90)" stroke="#000" stroke-width="0.12">UBE2G2</text>
<text font-size="6.06" textLength="18.67" lengthAdjust="spacingAndGlyphs" transform="translate(484.71 35.1) rotate(-90)" stroke="#000" stroke-width="0.12">UBE2H</text>
<text font-size="6.06" textLength="16.2" lengthAdjust="spacingAndGlyphs" transform="translate(496.83 35.1) rotate(-90)" stroke="#000" stroke-width="0.12">UBE2I</text>
<text font-size="6.06" textLength="20.02" lengthAdjust="spacingAndGlyphs" transform="translate(508.95 35.1) rotate(-90)" stroke="#000" stroke-width="0.12">UBE2J1</text>
<text font-size="6.06" textLength="20.02" lengthAdjust="spacingAndGlyphs" transform="translate(521.07 35.1) rotate(-90)" stroke="#000" stroke-width="0.12">UBE2J2</text>
<text font-size="6.06" textLength="17.98" lengthAdjust="spacingAndGlyphs" transform="translate(533.19 35.1) rotate(-90)" stroke="#000" stroke-width="0.12">UBE2K</text>
<text font-size="6.06" textLength="20.7" lengthAdjust="spacingAndGlyphs" transform="translate(545.31 35.1) rotate(-90)" stroke="#000" stroke-width="0.12">UBE2L3</text>
<text font-size="6.06" textLength="20.7" lengthAdjust="spacingAndGlyphs" transform="translate(557.43 35.1) rotate(-90)" stroke="#000" stroke-width="0.12">UBE2L6</text>
<text font-size="6.06" textLength="20.22" lengthAdjust="spacingAndGlyphs" transform="translate(569.55 35.1) rotate(-90)" stroke="#000" stroke-width="0.12">UBE2M</text>
<text font-size="6.06" textLength="18.82" lengthAdjust="spacingAndGlyphs" transform="translate(581.67 35.1) rotate(-90)" stroke="#000" stroke-width="0.12">UBE2N</text>
<text font-size="6.06" textLength="28.33" lengthAdjust="spacingAndGlyphs" transform="translate(593.79 35.1) rotate(-90)" stroke="#000" stroke-width="0.12">UBE2Q1/2</text>
<text font-size="6.06" textLength="25.18" lengthAdjust="spacingAndGlyphs" transform="translate(605.91 35.1) rotate(-90)" stroke="#000" stroke-width="0.12">UBE2QL1</text>
<text font-size="6.06" textLength="21.52" lengthAdjust="spacingAndGlyphs" transform="translate(618.04 35.1) rotate(-90)" stroke="#000" stroke-width="0.12">UBE2R2</text>
<text font-size="6.06" textLength="17.58" lengthAdjust="spacingAndGlyphs" transform="translate(630.16 35.1) rotate(-90)" stroke="#000" stroke-width="0.12">UBE2S</text>
<text font-size="6.06" textLength="17.77" lengthAdjust="spacingAndGlyphs" transform="translate(642.28 35.1) rotate(-90)" stroke="#000" stroke-width="0.12">UBE2T</text>
<text font-size="6.06" textLength="27.63" lengthAdjust="spacingAndGlyphs" transform="translate(654.4 35.1) rotate(-90)" stroke="#000" stroke-width="0.12">UBE2V1/2</text>
<text font-size="6.06" textLength="20.45" lengthAdjust="spacingAndGlyphs" transform="translate(666.52 35.1) rotate(-90)" stroke="#000" stroke-width="0.12">UBE2W</text>
<text font-size="6.06" textLength="17.64" lengthAdjust="spacingAndGlyphs" transform="translate(678.64 35.1) rotate(-90)" stroke="#000" stroke-width="0.12">UBE2Z</text>
<text x="21.3" y="27.7" font-size="18.3" font-weight="bold">a</text>
<text x="373" y="27.7" font-size="18.3" font-weight="bold">b</text>
<text x="172.5" y="6.9" font-size="7.46" text-anchor="middle">siRNAs for:</text>
<line x1="153.6" y1="7.9" x2="191.3" y2="7.9" stroke="#000" stroke-width="0.5"/>
<text x="522.5" y="6.9" font-size="7.46" text-anchor="middle">siRNAs for:</text>
<line x1="503.6" y1="7.9" x2="541.3" y2="7.9" stroke="#000" stroke-width="0.5"/>
<text font-size="7.08" text-anchor="middle" transform="translate(14.4 178.5) rotate(-90)">mRNA levels</text>
<line x1="16.9" y1="158.2" x2="16.9" y2="198.8" stroke="#666" stroke-width="0.6"/>
<text font-size="7.03" text-anchor="middle" transform="translate(363.1 179) rotate(-90)">protein levels</text>
<line x1="365.3" y1="158.3" x2="365.3" y2="199.7" stroke="#666" stroke-width="0.6"/>
<text x="115.8" y="344.5" font-size="7.52">DOWNREGULATED</text>
<rect x="188.3" y="336.6" width="16.3" height="11.9" fill="url(#g20)" stroke="#444" stroke-width="0.6"/>
<text x="196.45" y="344.5" font-size="5.3" text-anchor="middle" font-weight="bold" fill="#c00000">-2</text>
<rect x="204.6" y="336.6" width="16.3" height="11.9" fill="url(#g15)" stroke="#444" stroke-width="0.6"/>
<text x="212.75" y="344.5" font-size="5.3" text-anchor="middle" font-weight="bold" fill="#c00000">-1.5</text>
<rect x="220.9" y="336.6" width="16.3" height="11.9" fill="url(#g10)" stroke="#444" stroke-width="0.6"/>
<text x="229.05" y="344.5" font-size="5.3" text-anchor="middle" font-weight="bold" fill="#c00000">-1</text>
<rect x="237.2" y="336.6" width="16.3" height="11.9" fill="url(#g5)" stroke="#444" stroke-width="0.6"/>
<text x="245.35" y="344.5" font-size="5.3" text-anchor="middle" font-weight="bold" fill="#c00000">-0.5</text>
<rect x="253.5" y="336.6" width="16.3" height="11.9" fill="url(#g3)" stroke="#444" stroke-width="0.6"/>
<text x="261.65" y="344.6" font-size="5.6" text-anchor="middle">0</text>
<rect x="269.8" y="336.6" width="16.3" height="11.9" fill="#fff" stroke="#444" stroke-width="0.6"/>
<text x="277.95" y="344.5" font-size="5.4" text-anchor="middle" font-weight="bold" fill="#00b0f0">0.5</text>
<rect x="253.5" y="336.6" width="16.3" height="11.9" fill="none" stroke="#000" stroke-width="1.1"/>
<rect x="302" y="336.7" width="16.5" height="12.1" fill="#a8a8a8" stroke="#555" stroke-width="0.7"/>
<text x="310.2" y="345.5" font-size="7.5" text-anchor="middle">N.S.</text>
<text x="6.8" y="381.8" font-size="18.3" font-weight="bold">c</text>
<line x1="47.5" y1="570.7" x2="464.9" y2="570.7" stroke="#d9d9d9" stroke-width="0.6"/>
<line x1="47.5" y1="557.1" x2="464.9" y2="557.1" stroke="#d9d9d9" stroke-width="0.6"/>
<line x1="47.5" y1="543.5" x2="464.9" y2="543.5" stroke="#d9d9d9" stroke-width="0.6"/>
<line x1="47.5" y1="529.9" x2="464.9" y2="529.9" stroke="#d9d9d9" stroke-width="0.6"/>
<line x1="47.5" y1="516.3" x2="464.9" y2="516.3" stroke="#d9d9d9" stroke-width="0.6"/>
<line x1="47.5" y1="502.7" x2="464.9" y2="502.7" stroke="#d9d9d9" stroke-width="0.6"/>
<line x1="47.5" y1="489.1" x2="464.9" y2="489.1" stroke="#d9d9d9" stroke-width="0.6"/>
<line x1="47.5" y1="475.5" x2="464.9" y2="475.5" stroke="#d9d9d9" stroke-width="0.6"/>
<line x1="47.5" y1="461.9" x2="464.9" y2="461.9" stroke="#d9d9d9" stroke-width="0.6"/>
<line x1="47.5" y1="448.3" x2="464.9" y2="448.3" stroke="#d9d9d9" stroke-width="0.6"/>
<line x1="47.5" y1="434.7" x2="464.9" y2="434.7" stroke="#d9d9d9" stroke-width="0.6"/>
<line x1="47.5" y1="421.1" x2="464.9" y2="421.1" stroke="#d9d9d9" stroke-width="0.6"/>
<line x1="47.5" y1="407.5" x2="464.9" y2="407.5" stroke="#d9d9d9" stroke-width="0.6"/>
<line x1="45.7" y1="584.3" x2="47.5" y2="584.3" stroke="#555" stroke-width="0.6"/>
<text x="43.8" y="586.6" font-size="6.6" text-anchor="end">0</text>
<line x1="45.7" y1="570.7" x2="47.5" y2="570.7" stroke="#555" stroke-width="0.6"/>
<text x="43.8" y="573" font-size="6.6" text-anchor="end" textLength="10.04" lengthAdjust="spacingAndGlyphs">100</text>
<line x1="45.7" y1="557.1" x2="47.5" y2="557.1" stroke="#555" stroke-width="0.6"/>
<text x="43.8" y="559.4" font-size="6.6" text-anchor="end" textLength="10.04" lengthAdjust="spacingAndGlyphs">200</text>
<line x1="45.7" y1="543.5" x2="47.5" y2="543.5" stroke="#555" stroke-width="0.6"/>
<text x="43.8" y="545.8" font-size="6.6" text-anchor="end" textLength="10.04" lengthAdjust="spacingAndGlyphs">300</text>
<line x1="45.7" y1="529.9" x2="47.5" y2="529.9" stroke="#555" stroke-width="0.6"/>
<text x="43.8" y="532.2" font-size="6.6" text-anchor="end" textLength="10.04" lengthAdjust="spacingAndGlyphs">400</text>
<line x1="45.7" y1="516.3" x2="47.5" y2="516.3" stroke="#555" stroke-width="0.6"/>
<text x="43.8" y="518.6" font-size="6.6" text-anchor="end" textLength="10.04" lengthAdjust="spacingAndGlyphs">500</text>
<line x1="45.7" y1="502.7" x2="47.5" y2="502.7" stroke="#555" stroke-width="0.6"/>
<text x="43.8" y="505" font-size="6.6" text-anchor="end" textLength="10.04" lengthAdjust="spacingAndGlyphs">600</text>
<line x1="45.7" y1="489.1" x2="47.5" y2="489.1" stroke="#555" stroke-width="0.6"/>
<text x="43.8" y="491.4" font-size="6.6" text-anchor="end" textLength="10.04" lengthAdjust="spacingAndGlyphs">700</text>
<line x1="45.7" y1="475.5" x2="47.5" y2="475.5" stroke="#555" stroke-width="0.6"/>
<text x="43.8" y="477.8" font-size="6.6" text-anchor="end" textLength="10.04" lengthAdjust="spacingAndGlyphs">800</text>
<line x1="45.7" y1="461.9" x2="47.5" y2="461.9" stroke="#555" stroke-width="0.6"/>
<text x="43.8" y="464.2" font-size="6.6" text-anchor="end" textLength="10.04" lengthAdjust="spacingAndGlyphs">900</text>
<line x1="45.7" y1="448.3" x2="47.5" y2="448.3" stroke="#555" stroke-width="0.6"/>
<text x="43.8" y="450.6" font-size="6.6" text-anchor="end" textLength="13.38" lengthAdjust="spacingAndGlyphs">1000</text>
<line x1="45.7" y1="434.7" x2="47.5" y2="434.7" stroke="#555" stroke-width="0.6"/>
<text x="43.8" y="437" font-size="6.6" text-anchor="end" textLength="13.38" lengthAdjust="spacingAndGlyphs">1100</text>
<line x1="45.7" y1="421.1" x2="47.5" y2="421.1" stroke="#555" stroke-width="0.6"/>
<text x="43.8" y="423.4" font-size="6.6" text-anchor="end" textLength="13.38" lengthAdjust="spacingAndGlyphs">1200</text>
<line x1="45.7" y1="407.5" x2="47.5" y2="407.5" stroke="#555" stroke-width="0.6"/>
<text x="43.8" y="409.8" font-size="6.6" text-anchor="end" textLength="13.38" lengthAdjust="spacingAndGlyphs">1300</text>
<rect x="50.8" y="581.58" width="5.5" height="2.72" fill="#00b0f0"/>
<rect x="57.6" y="578.18" width="5.5" height="6.12" fill="#c00000"/>
<rect x="74.96" y="577.23" width="5.5" height="7.07" fill="#c00000"/>
<rect x="85.52" y="571.11" width="5.5" height="13.19" fill="#00b0f0"/>
<rect x="92.32" y="582.94" width="5.5" height="1.36" fill="#c00000"/>
<rect x="102.88" y="582.26" width="5.5" height="2.04" fill="#00b0f0"/>
<rect x="109.68" y="582.26" width="5.5" height="2.04" fill="#c00000"/>
<rect x="120.24" y="535.07" width="5.5" height="49.23" fill="#00b0f0"/>
<rect x="127.04" y="564.72" width="5.5" height="19.58" fill="#c00000"/>
<rect x="137.6" y="546.63" width="5.5" height="37.67" fill="#00b0f0"/>
<rect x="144.4" y="575.6" width="5.5" height="8.7" fill="#c00000"/>
<rect x="154.96" y="498.76" width="5.5" height="85.54" fill="#00b0f0"/>
<rect x="161.76" y="538.2" width="5.5" height="46.1" fill="#c00000"/>
<rect x="172.32" y="558.73" width="5.5" height="25.57" fill="#00b0f0"/>
<rect x="179.12" y="556.69" width="5.5" height="27.61" fill="#c00000"/>
<rect x="189.68" y="564.04" width="5.5" height="20.26" fill="#00b0f0"/>
<rect x="196.48" y="566.48" width="5.5" height="17.82" fill="#c00000"/>
<rect x="207.04" y="575.87" width="5.5" height="8.43" fill="#00b0f0"/>
<rect x="213.84" y="569.88" width="5.5" height="14.42" fill="#c00000"/>
<rect x="224.4" y="546.63" width="5.5" height="37.67" fill="#00b0f0"/>
<rect x="231.2" y="550.57" width="5.5" height="33.73" fill="#c00000"/>
<rect x="241.76" y="556.42" width="5.5" height="27.88" fill="#00b0f0"/>
<rect x="248.56" y="564.72" width="5.5" height="19.58" fill="#c00000"/>
<rect x="259.12" y="577.91" width="5.5" height="6.39" fill="#00b0f0"/>
<rect x="265.92" y="552.61" width="5.5" height="31.69" fill="#c00000"/>
<rect x="276.48" y="580.9" width="5.5" height="3.4" fill="#00b0f0"/>
<rect x="283.28" y="547.58" width="5.5" height="36.72" fill="#c00000"/>
<rect x="293.84" y="582.94" width="5.5" height="1.36" fill="#00b0f0"/>
<rect x="300.64" y="414.3" width="5.5" height="170" fill="#c00000"/>
<rect x="311.2" y="582.94" width="5.5" height="1.36" fill="#00b0f0"/>
<rect x="318" y="515.62" width="5.5" height="68.68" fill="#c00000"/>
<rect x="328.56" y="583.35" width="5.5" height="0.95" fill="#00b0f0"/>
<rect x="335.36" y="563.76" width="5.5" height="20.54" fill="#c00000"/>
<rect x="345.92" y="579.54" width="5.5" height="4.76" fill="#00b0f0"/>
<rect x="352.72" y="536.84" width="5.5" height="47.46" fill="#c00000"/>
<rect x="363.28" y="571.52" width="5.5" height="12.78" fill="#00b0f0"/>
<rect x="370.08" y="561.04" width="5.5" height="23.26" fill="#c00000"/>
<rect x="380.64" y="578.59" width="5.5" height="5.71" fill="#00b0f0"/>
<rect x="387.44" y="457" width="5.5" height="127.3" fill="#c00000"/>
<rect x="398" y="567.16" width="5.5" height="17.14" fill="#00b0f0"/>
<rect x="404.8" y="574.92" width="5.5" height="9.38" fill="#c00000"/>
<rect x="415.36" y="565.8" width="5.5" height="18.5" fill="#00b0f0"/>
<rect x="422.16" y="576.96" width="5.5" height="7.34" fill="#c00000"/>
<rect x="432.72" y="564.72" width="5.5" height="19.58" fill="#00b0f0"/>
<rect x="439.52" y="574.24" width="5.5" height="10.06" fill="#c00000"/>
<rect x="450.08" y="575.46" width="5.5" height="8.84" fill="#00b0f0"/>
<rect x="456.88" y="577.77" width="5.5" height="6.53" fill="#c00000"/>
<line x1="47.5" y1="407.5" x2="47.5" y2="584.3" stroke="#555" stroke-width="0.7"/>
<line x1="47.5" y1="584.3" x2="464.9" y2="584.3" stroke="#555" stroke-width="0.7"/>
<text font-size="12.11" text-anchor="end" textLength="49.63" lengthAdjust="spacingAndGlyphs" transform="translate(61.98 589.3) rotate(-90)">UBE2A/B</text>
<text font-size="12.11" text-anchor="end" textLength="36.5" lengthAdjust="spacingAndGlyphs" transform="translate(79.34 589.3) rotate(-90)">UBE2C</text>
<text font-size="12.11" text-anchor="end" textLength="68.45" lengthAdjust="spacingAndGlyphs" transform="translate(96.7 589.3) rotate(-90)">UBE2D1/2/3</text>
<text font-size="12.11" text-anchor="end" textLength="66.74" lengthAdjust="spacingAndGlyphs" transform="translate(114.06 589.3) rotate(-90)">UBE2E1/2/3</text>
<text font-size="12.11" text-anchor="end" textLength="35.51" lengthAdjust="spacingAndGlyphs" transform="translate(131.42 589.3) rotate(-90)">UBE2F</text>
<text font-size="12.11" text-anchor="end" textLength="44.63" lengthAdjust="spacingAndGlyphs" transform="translate(148.78 589.3) rotate(-90)">UBE2G1</text>
<text font-size="12.11" text-anchor="end" textLength="44.63" lengthAdjust="spacingAndGlyphs" transform="translate(166.14 589.3) rotate(-90)">UBE2G2</text>
<text font-size="12.11" text-anchor="end" textLength="37.71" lengthAdjust="spacingAndGlyphs" transform="translate(183.5 589.3) rotate(-90)">UBE2H</text>
<text font-size="12.11" text-anchor="end" textLength="32.72" lengthAdjust="spacingAndGlyphs" transform="translate(200.86 589.3) rotate(-90)">UBE2I</text>
<text font-size="12.11" text-anchor="end" textLength="40.44" lengthAdjust="spacingAndGlyphs" transform="translate(218.22 589.3) rotate(-90)">UBE2J1</text>
<text font-size="12.11" text-anchor="end" textLength="40.44" lengthAdjust="spacingAndGlyphs" transform="translate(235.58 589.3) rotate(-90)">UBE2J2</text>
<text font-size="12.11" text-anchor="end" textLength="36.32" lengthAdjust="spacingAndGlyphs" transform="translate(252.94 589.3) rotate(-90)">UBE2K</text>
<text font-size="12.11" text-anchor="end" textLength="41.8" lengthAdjust="spacingAndGlyphs" transform="translate(270.3 589.3) rotate(-90)">UBE2L3</text>
<text font-size="12.11" text-anchor="end" textLength="41.8" lengthAdjust="spacingAndGlyphs" transform="translate(287.66 589.3) rotate(-90)">UBE2L6</text>
<text font-size="12.11" text-anchor="end" textLength="40.83" lengthAdjust="spacingAndGlyphs" transform="translate(305.02 589.3) rotate(-90)">UBE2M</text>
<text font-size="12.11" text-anchor="end" textLength="38.01" lengthAdjust="spacingAndGlyphs" transform="translate(322.38 589.3) rotate(-90)">UBE2N</text>
<text font-size="12.11" text-anchor="end" textLength="57.21" lengthAdjust="spacingAndGlyphs" transform="translate(339.74 589.3) rotate(-90)">UBE2Q1/2</text>
<text font-size="12.11" text-anchor="end" textLength="50.85" lengthAdjust="spacingAndGlyphs" transform="translate(357.1 589.3) rotate(-90)">UBE2QL1</text>
<text font-size="12.11" text-anchor="end" textLength="43.45" lengthAdjust="spacingAndGlyphs" transform="translate(374.46 589.3) rotate(-90)">UBE2R2</text>
<text font-size="12.11" text-anchor="end" textLength="35.51" lengthAdjust="spacingAndGlyphs" transform="translate(391.82 589.3) rotate(-90)">UBE2S</text>
<text font-size="12.11" text-anchor="end" textLength="35.89" lengthAdjust="spacingAndGlyphs" transform="translate(409.18 589.3) rotate(-90)">UBE2T</text>
<text font-size="12.11" text-anchor="end" textLength="55.79" lengthAdjust="spacingAndGlyphs" transform="translate(426.54 589.3) rotate(-90)">UBE2V1/2</text>
<text font-size="12.11" text-anchor="end" textLength="41.3" lengthAdjust="spacingAndGlyphs" transform="translate(443.9 589.3) rotate(-90)">UBE2W</text>
<text font-size="12.11" text-anchor="end" textLength="35.63" lengthAdjust="spacingAndGlyphs" transform="translate(461.26 589.3) rotate(-90)">UBE2Z</text>
<text x="49.7" y="418" font-size="10.48"><tspan fill="#00b0f0">UPREGULATED</tspan> &amp; <tspan fill="#c00000">DOWNREGULATED</tspan> BY E2 RNAi</text>
<text font-size="12.2" text-anchor="middle" textLength="251.5" lengthAdjust="spacingAndGlyphs" transform="translate(10.1 517) rotate(-90)">Number of proteins significantly regulated by</text>
<text font-size="12.2" text-anchor="middle" textLength="261.3" lengthAdjust="spacingAndGlyphs" transform="translate(24 518.7) rotate(-90)">E2 siRNAs (not modulated at the mRNA level)</text>
<text x="477.3" y="360.9" font-size="18.3" font-weight="bold">d</text>
<rect x="528.3" y="349.7" width="132.3" height="324.6" fill="#bfbfbf"/>
<rect x="528.3" y="349.7" width="132.3" height="12.6" fill="#fff"/>
<rect x="528.3" y="362.7" width="18.9" height="12.84" fill="#fee2e2"/>
<text x="537.75" y="372.02" font-size="6.75" text-anchor="middle" font-weight="bold" textLength="10.71" lengthAdjust="spacingAndGlyphs">-0.5</text>
<text x="556.65" y="372.02" font-size="6.75" text-anchor="middle" textLength="14.03" lengthAdjust="spacingAndGlyphs">-0.28</text>
<text x="575.55" y="372.02" font-size="6.75" text-anchor="middle" textLength="14.03" lengthAdjust="spacingAndGlyphs">-0.03</text>
<text x="632.25" y="372.02" font-size="6.75" text-anchor="middle" textLength="8.55" lengthAdjust="spacingAndGlyphs">1.2</text>
<text x="651.15" y="372.02" font-size="6.75" text-anchor="middle" textLength="10.61" lengthAdjust="spacingAndGlyphs">-0.1</text>
<text x="537.75" y="384.46" font-size="6.75" text-anchor="middle" textLength="14.03" lengthAdjust="spacingAndGlyphs">-0.17</text>
<text x="556.65" y="384.46" font-size="6.75" text-anchor="middle" textLength="14.03" lengthAdjust="spacingAndGlyphs">-0.09</text>
<text x="575.55" y="384.46" font-size="6.75" text-anchor="middle" textLength="14.03" lengthAdjust="spacingAndGlyphs">-0.13</text>
<text x="632.25" y="384.46" font-size="6.75" text-anchor="middle" textLength="11.97" lengthAdjust="spacingAndGlyphs">0.55</text>
<text x="651.15" y="384.46" font-size="6.75" text-anchor="middle" textLength="10.61" lengthAdjust="spacingAndGlyphs">-0.1</text>
<rect x="528.3" y="387.58" width="18.9" height="12.84" fill="#fcc7c8"/>
<text x="537.75" y="396.9" font-size="6.75" text-anchor="middle" font-weight="bold" textLength="14.13" lengthAdjust="spacingAndGlyphs">-0.61</text>
<rect x="547.2" y="387.58" width="18.9" height="12.84" fill="#fcbbbc"/>
<text x="556.65" y="396.9" font-size="6.75" text-anchor="middle" font-weight="bold" textLength="14.13" lengthAdjust="spacingAndGlyphs">-0.66</text>
<text x="575.55" y="396.9" font-size="6.75" text-anchor="middle" textLength="14.03" lengthAdjust="spacingAndGlyphs">-0.28</text>
<text x="632.25" y="396.9" font-size="6.75" text-anchor="middle" textLength="11.97" lengthAdjust="spacingAndGlyphs">0.22</text>
<text x="651.15" y="396.9" font-size="6.75" text-anchor="middle" textLength="14.03" lengthAdjust="spacingAndGlyphs">-0.15</text>
<rect x="528.3" y="400.02" width="18.9" height="12.84" fill="#f8fafd"/>
<text x="537.75" y="409.34" font-size="6.75" text-anchor="middle" font-weight="bold" textLength="14.13" lengthAdjust="spacingAndGlyphs">-0.32</text>
<text x="556.65" y="409.34" font-size="6.75" text-anchor="middle" textLength="14.03" lengthAdjust="spacingAndGlyphs">-0.09</text>
<text x="575.55" y="409.34" font-size="6.75" text-anchor="middle" textLength="14.03" lengthAdjust="spacingAndGlyphs">-0.08</text>
<text x="632.25" y="409.34" font-size="6.75" text-anchor="middle" textLength="11.97" lengthAdjust="spacingAndGlyphs">0.96</text>
<text x="651.15" y="409.34" font-size="6.75" text-anchor="middle" textLength="14.03" lengthAdjust="spacingAndGlyphs">-0.17</text>
<text x="556.65" y="421.78" font-size="6.75" text-anchor="middle" textLength="11.97" lengthAdjust="spacingAndGlyphs">0.03</text>
<rect x="622.8" y="412.46" width="18.9" height="12.84" fill="#f9fbfd"/>
<text x="632.25" y="421.78" font-size="6.75" text-anchor="middle" font-weight="bold" textLength="14.13" lengthAdjust="spacingAndGlyphs">-0.33</text>
<text x="651.15" y="421.78" font-size="6.75" text-anchor="middle" textLength="14.03" lengthAdjust="spacingAndGlyphs">-0.02</text>
<text x="556.65" y="434.22" font-size="6.75" text-anchor="middle" textLength="14.03" lengthAdjust="spacingAndGlyphs">-0.08</text>
<rect x="622.8" y="424.9" width="18.9" height="12.84" fill="#fa9596"/>
<text x="632.25" y="434.22" font-size="6.75" text-anchor="middle" font-weight="bold" textLength="14.13" lengthAdjust="spacingAndGlyphs">-0.82</text>
<text x="651.15" y="434.22" font-size="6.75" text-anchor="middle" textLength="14.03" lengthAdjust="spacingAndGlyphs">-0.07</text>
<text x="556.65" y="446.66" font-size="6.75" text-anchor="middle" textLength="14.03" lengthAdjust="spacingAndGlyphs">-0.07</text>
<text x="632.25" y="446.66" font-size="6.75" text-anchor="middle" textLength="10.61" lengthAdjust="spacingAndGlyphs">-0.6</text>
<text x="651.15" y="446.66" font-size="6.75" text-anchor="middle" textLength="14.03" lengthAdjust="spacingAndGlyphs">-0.06</text>
<text x="556.65" y="459.1" font-size="6.75" text-anchor="middle" textLength="14.03" lengthAdjust="spacingAndGlyphs">-0.14</text>
<rect x="622.8" y="449.78" width="18.9" height="12.84" fill="#f97577"/>
<text x="632.25" y="459.1" font-size="6.75" text-anchor="middle" font-weight="bold" textLength="14.13" lengthAdjust="spacingAndGlyphs">-0.95</text>
<text x="651.15" y="459.1" font-size="6.75" text-anchor="middle" textLength="14.03" lengthAdjust="spacingAndGlyphs">-0.02</text>
<text x="575.55" y="471.54" font-size="6.75" text-anchor="middle" textLength="10.61" lengthAdjust="spacingAndGlyphs">-0.2</text>
<text x="613.35" y="471.54" font-size="6.75" text-anchor="middle" textLength="14.03" lengthAdjust="spacingAndGlyphs">-0.15</text>
<rect x="622.8" y="462.22" width="18.9" height="12.84" fill="#f7f9fc"/>
<text x="632.25" y="471.54" font-size="6.75" text-anchor="middle" font-weight="bold" textLength="14.13" lengthAdjust="spacingAndGlyphs">-0.31</text>
<text x="651.15" y="471.54" font-size="6.75" text-anchor="middle" textLength="10.61" lengthAdjust="spacingAndGlyphs">-0.2</text>
<text x="575.55" y="483.98" font-size="6.75" text-anchor="middle" textLength="14.03" lengthAdjust="spacingAndGlyphs">-0.35</text>
<text x="613.35" y="483.98" font-size="6.75" text-anchor="middle" textLength="14.03" lengthAdjust="spacingAndGlyphs">-0.08</text>
<rect x="622.8" y="474.66" width="18.9" height="12.84" fill="#fafcfd"/>
<text x="632.25" y="483.98" font-size="6.75" text-anchor="middle" font-weight="bold" textLength="14.13" lengthAdjust="spacingAndGlyphs">-0.34</text>
<text x="651.15" y="483.98" font-size="6.75" text-anchor="middle" textLength="14.03" lengthAdjust="spacingAndGlyphs">-0.05</text>
<text x="575.55" y="496.42" font-size="6.75" text-anchor="middle" textLength="10.61" lengthAdjust="spacingAndGlyphs">-0.1</text>
<text x="613.35" y="496.42" font-size="6.75" text-anchor="middle" textLength="14.03" lengthAdjust="spacingAndGlyphs">-0.27</text>
<rect x="622.8" y="487.1" width="18.9" height="12.84" fill="#fdcccd"/>
<text x="632.25" y="496.42" font-size="6.75" text-anchor="middle" font-weight="bold" textLength="14.13" lengthAdjust="spacingAndGlyphs">-0.59</text>
<text x="651.15" y="496.42" font-size="6.75" text-anchor="middle" textLength="11.97" lengthAdjust="spacingAndGlyphs">0.01</text>
<text x="575.55" y="508.86" font-size="6.75" text-anchor="middle" textLength="14.03" lengthAdjust="spacingAndGlyphs">-0.37</text>
<text x="613.35" y="508.86" font-size="6.75" text-anchor="middle" textLength="10.61" lengthAdjust="spacingAndGlyphs">-0.1</text>
<rect x="622.8" y="499.54" width="18.9" height="12.84" fill="#fff8f8"/>
<text x="632.25" y="508.86" font-size="6.75" text-anchor="middle" font-weight="bold" textLength="14.13" lengthAdjust="spacingAndGlyphs">-0.41</text>
<text x="651.15" y="508.86" font-size="6.75" text-anchor="middle" textLength="14.03" lengthAdjust="spacingAndGlyphs">-0.09</text>
<text x="556.65" y="521.3" font-size="6.75" text-anchor="middle" textLength="11.97" lengthAdjust="spacingAndGlyphs">0.01</text>
<text x="594.45" y="521.3" font-size="6.75" text-anchor="middle" textLength="14.03" lengthAdjust="spacingAndGlyphs">-0.01</text>
<rect x="622.8" y="511.98" width="18.9" height="12.84" fill="#fcc3c3"/>
<text x="632.25" y="521.3" font-size="6.75" text-anchor="middle" font-weight="bold" textLength="14.13" lengthAdjust="spacingAndGlyphs">-0.63</text>
<text x="651.15" y="521.3" font-size="6.75" text-anchor="middle" textLength="11.97" lengthAdjust="spacingAndGlyphs">0.05</text>
<text x="556.65" y="533.74" font-size="6.75" text-anchor="middle" textLength="11.97" lengthAdjust="spacingAndGlyphs">0.08</text>
<text x="594.45" y="533.74" font-size="6.75" text-anchor="middle" textLength="11.97" lengthAdjust="spacingAndGlyphs">0.09</text>
<text x="632.25" y="533.74" font-size="6.75" text-anchor="middle" textLength="14.03" lengthAdjust="spacingAndGlyphs">-0.06</text>
<text x="651.15" y="533.74" font-size="6.75" text-anchor="middle" textLength="11.97" lengthAdjust="spacingAndGlyphs">0.04</text>
<text x="556.65" y="546.18" font-size="6.75" text-anchor="middle" textLength="14.03" lengthAdjust="spacingAndGlyphs">-0.05</text>
<text x="594.45" y="546.18" font-size="6.75" text-anchor="middle" textLength="11.97" lengthAdjust="spacingAndGlyphs">0.17</text>
<rect x="622.8" y="536.86" width="18.9" height="12.84" fill="#fcc7c8"/>
<text x="632.25" y="546.18" font-size="6.75" text-anchor="middle" font-weight="bold" textLength="14.13" lengthAdjust="spacingAndGlyphs">-0.61</text>
<text x="651.15" y="546.18" font-size="6.75" text-anchor="middle" textLength="14.03" lengthAdjust="spacingAndGlyphs">-0.06</text>
<text x="556.65" y="558.62" font-size="6.75" text-anchor="middle" textLength="11.97" lengthAdjust="spacingAndGlyphs">0.12</text>
<text x="594.45" y="558.62" font-size="6.75" text-anchor="middle" textLength="11.97" lengthAdjust="spacingAndGlyphs">0.15</text>
<rect x="622.8" y="549.3" width="18.9" height="12.84" fill="#fffdfd"/>
<text x="632.25" y="558.62" font-size="6.75" text-anchor="middle" font-weight="bold" textLength="14.13" lengthAdjust="spacingAndGlyphs">-0.39</text>
<text x="651.15" y="558.62" font-size="6.75" text-anchor="middle" textLength="11.97" lengthAdjust="spacingAndGlyphs">0.06</text>
<text x="556.65" y="571.06" font-size="6.75" text-anchor="middle" textLength="14.03" lengthAdjust="spacingAndGlyphs">-0.04</text>
<text x="613.35" y="571.06" font-size="6.75" text-anchor="middle" textLength="11.97" lengthAdjust="spacingAndGlyphs">0.08</text>
<rect x="622.8" y="561.74" width="18.9" height="12.84" fill="#fa8b8c"/>
<text x="632.25" y="571.06" font-size="6.75" text-anchor="middle" font-weight="bold" textLength="14.13" lengthAdjust="spacingAndGlyphs">-0.86</text>
<text x="556.65" y="583.5" font-size="6.75" text-anchor="middle" textLength="11.97" lengthAdjust="spacingAndGlyphs">0.01</text>
<text x="613.35" y="583.5" font-size="6.75" text-anchor="middle" textLength="11.97" lengthAdjust="spacingAndGlyphs">0.04</text>
<rect x="622.8" y="574.18" width="18.9" height="12.84" fill="#fdd3d4"/>
<text x="632.25" y="583.5" font-size="6.75" text-anchor="middle" font-weight="bold" textLength="14.13" lengthAdjust="spacingAndGlyphs">-0.56</text>
<text x="556.65" y="595.94" font-size="6.75" text-anchor="middle" textLength="10.61" lengthAdjust="spacingAndGlyphs">-0.1</text>
<text x="613.35" y="595.94" font-size="6.75" text-anchor="middle" textLength="11.97" lengthAdjust="spacingAndGlyphs">0.04</text>
<rect x="622.8" y="586.62" width="18.9" height="12.84" fill="#fddbdb"/>
<text x="632.25" y="595.94" font-size="6.75" text-anchor="middle" font-weight="bold" textLength="14.13" lengthAdjust="spacingAndGlyphs">-0.53</text>
<text x="556.65" y="608.38" font-size="6.75" text-anchor="middle" textLength="11.97" lengthAdjust="spacingAndGlyphs">0.08</text>
<text x="613.35" y="608.38" font-size="6.75" text-anchor="middle" textLength="11.97" lengthAdjust="spacingAndGlyphs">0.09</text>
<text x="632.25" y="608.38" font-size="6.75" text-anchor="middle" textLength="14.03" lengthAdjust="spacingAndGlyphs">-0.36</text>
<rect x="528.3" y="611.5" width="18.9" height="12.84" fill="#fcb6b7"/>
<text x="537.75" y="620.82" font-size="6.75" text-anchor="middle" font-weight="bold" textLength="14.13" lengthAdjust="spacingAndGlyphs">-0.68</text>
<text x="556.65" y="620.82" font-size="6.75" text-anchor="middle" textLength="10.61" lengthAdjust="spacingAndGlyphs">-0.2</text>
<text x="575.55" y="620.82" font-size="6.75" text-anchor="middle" textLength="11.97" lengthAdjust="spacingAndGlyphs">0.01</text>
<text x="632.25" y="620.82" font-size="6.75" text-anchor="middle" textLength="14.03" lengthAdjust="spacingAndGlyphs">-0.46</text>
<text x="537.75" y="633.26" font-size="6.75" text-anchor="middle" textLength="11.97" lengthAdjust="spacingAndGlyphs">0.18</text>
<text x="556.65" y="633.26" font-size="6.75" text-anchor="middle" textLength="11.97" lengthAdjust="spacingAndGlyphs">0.23</text>
<rect x="566.1" y="623.94" width="18.9" height="12.84" fill="#b3c9e5"/>
<text x="575.55" y="633.26" font-size="6.75" text-anchor="middle" font-weight="bold" textLength="12.07" lengthAdjust="spacingAndGlyphs">0.29</text>
<text x="632.25" y="633.26" font-size="6.75" text-anchor="middle" textLength="8.55" lengthAdjust="spacingAndGlyphs">0.1</text>
<text x="537.75" y="645.7" font-size="6.75" text-anchor="middle" textLength="11.97" lengthAdjust="spacingAndGlyphs">0.02</text>
<text x="556.65" y="645.7" font-size="6.75" text-anchor="middle" textLength="14.03" lengthAdjust="spacingAndGlyphs">-0.13</text>
<text x="575.55" y="645.7" font-size="6.75" text-anchor="middle" textLength="8.55" lengthAdjust="spacingAndGlyphs">0.1</text>
<text x="632.25" y="645.7" font-size="6.75" text-anchor="middle" textLength="14.03" lengthAdjust="spacingAndGlyphs">-0.25</text>
<text x="537.75" y="658.14" font-size="6.75" text-anchor="middle" textLength="11.97" lengthAdjust="spacingAndGlyphs">0.29</text>
<text x="556.65" y="658.14" font-size="6.75" text-anchor="middle" textLength="11.97" lengthAdjust="spacingAndGlyphs">0.36</text>
<text x="575.55" y="658.14" font-size="6.75" text-anchor="middle" textLength="11.97" lengthAdjust="spacingAndGlyphs">0.22</text>
<text x="632.25" y="658.14" font-size="6.75" text-anchor="middle" textLength="11.97" lengthAdjust="spacingAndGlyphs">0.24</text>
<text x="556.65" y="671.15" font-size="6.75" text-anchor="middle" textLength="11.97" lengthAdjust="spacingAndGlyphs">0.04</text>
<rect x="566.1" y="662" width="18.9" height="12.5" fill="#88aad6"/>
<text x="575.55" y="671.15" font-size="6.75" text-anchor="middle" font-weight="bold" textLength="12.07" lengthAdjust="spacingAndGlyphs">0.67</text>
<rect x="585" y="662" width="18.9" height="12.5" fill="#6893cc"/>
<text x="594.45" y="671.15" font-size="6.75" text-anchor="middle" font-weight="bold" textLength="12.07" lengthAdjust="spacingAndGlyphs">0.95</text>
<rect x="622.8" y="662" width="18.9" height="12.5" fill="#5585c5"/>
<text x="632.25" y="671.15" font-size="6.75" text-anchor="middle" font-weight="bold" textLength="12.07" lengthAdjust="spacingAndGlyphs">1.16</text>
<rect x="641.7" y="662" width="18.9" height="12.5" fill="#b9cde7"/>
<text x="651.15" y="671.15" font-size="6.75" text-anchor="middle" font-weight="bold" textLength="12.07" lengthAdjust="spacingAndGlyphs">0.24</text>
<line x1="528.3" y1="349.7" x2="528.3" y2="674.3" stroke="#111" stroke-width="0.9"/>
<line x1="547.2" y1="349.7" x2="547.2" y2="674.3" stroke="#111" stroke-width="0.9"/>
<line x1="566.1" y1="349.7" x2="566.1" y2="674.3" stroke="#111" stroke-width="0.9"/>
<line x1="585" y1="349.7" x2="585" y2="674.3" stroke="#111" stroke-width="0.9"/>
<line x1="603.9" y1="349.7" x2="603.9" y2="674.3" stroke="#111" stroke-width="0.9"/>
<line x1="622.8" y1="349.7" x2="622.8" y2="674.3" stroke="#111" stroke-width="0.9"/>
<line x1="641.7" y1="349.7" x2="641.7" y2="674.3" stroke="#111" stroke-width="0.9"/>
<line x1="660.6" y1="349.7" x2="660.6" y2="674.3" stroke="#111" stroke-width="0.9"/>
<line x1="527.85" y1="349.7" x2="661.05" y2="349.7" stroke="#111" stroke-width="0.9"/>
<line x1="527.85" y1="362.3" x2="661.05" y2="362.3" stroke="#111" stroke-width="0.9"/>
<line x1="527.85" y1="662.2" x2="661.05" y2="662.2" stroke="#111" stroke-width="0.9"/>
<line x1="527.85" y1="674.3" x2="661.05" y2="674.3" stroke="#111" stroke-width="0.9"/>
<text x="537.75" y="359" font-size="6.47" text-anchor="middle" font-weight="bold" textLength="6.95" lengthAdjust="spacingAndGlyphs">K6</text>
<text x="556.65" y="359" font-size="6.47" text-anchor="middle" font-weight="bold" textLength="10.3" lengthAdjust="spacingAndGlyphs">K11</text>
<text x="575.55" y="359" font-size="6.47" text-anchor="middle" font-weight="bold" textLength="10.3" lengthAdjust="spacingAndGlyphs">K27</text>
<text x="594.45" y="359" font-size="6.47" text-anchor="middle" font-weight="bold" textLength="10.3" lengthAdjust="spacingAndGlyphs">K29</text>
<text x="613.35" y="359" font-size="6.47" text-anchor="middle" font-weight="bold" textLength="10.3" lengthAdjust="spacingAndGlyphs">K33</text>
<text x="632.25" y="359" font-size="6.47" text-anchor="middle" font-weight="bold" textLength="10.3" lengthAdjust="spacingAndGlyphs">K48</text>
<text x="651.15" y="359" font-size="6.47" text-anchor="middle" font-weight="bold" textLength="10.3" lengthAdjust="spacingAndGlyphs">K63</text>
<text x="523.2" y="360.4" font-size="8.64" text-anchor="end" textLength="19.17" lengthAdjust="spacingAndGlyphs">RNAi</text>
<text x="526.3" y="372.22" font-size="8.91" text-anchor="end" textLength="36.53" lengthAdjust="spacingAndGlyphs">UBE2A/B</text>
<text x="526.3" y="384.66" font-size="8.91" text-anchor="end" textLength="26.87" lengthAdjust="spacingAndGlyphs">UBE2C</text>
<text x="526.3" y="397.1" font-size="8.91" text-anchor="end" textLength="50.38" lengthAdjust="spacingAndGlyphs">UBE2D1/2/3</text>
<text x="526.3" y="409.54" font-size="8.91" text-anchor="end" textLength="49.13" lengthAdjust="spacingAndGlyphs">UBE2E1/2/3</text>
<text x="526.3" y="421.98" font-size="8.91" text-anchor="end" textLength="26.14" lengthAdjust="spacingAndGlyphs">UBE2F</text>
<text x="526.3" y="434.42" font-size="8.91" text-anchor="end" textLength="32.85" lengthAdjust="spacingAndGlyphs">UBE2G1</text>
<text x="526.3" y="446.86" font-size="8.91" text-anchor="end" textLength="32.85" lengthAdjust="spacingAndGlyphs">UBE2G2</text>
<text x="526.3" y="459.3" font-size="8.91" text-anchor="end" textLength="27.76" lengthAdjust="spacingAndGlyphs">UBE2H</text>
<text x="526.3" y="471.74" font-size="8.91" text-anchor="end" textLength="24.08" lengthAdjust="spacingAndGlyphs">UBE2I</text>
<text x="526.3" y="484.18" font-size="8.91" text-anchor="end" textLength="29.76" lengthAdjust="spacingAndGlyphs">UBE2J1</text>
<text x="526.3" y="496.62" font-size="8.91" text-anchor="end" textLength="29.76" lengthAdjust="spacingAndGlyphs">UBE2J2</text>
<text x="526.3" y="509.06" font-size="8.91" text-anchor="end" textLength="26.73" lengthAdjust="spacingAndGlyphs">UBE2K</text>
<text x="526.3" y="521.5" font-size="8.91" text-anchor="end" textLength="30.77" lengthAdjust="spacingAndGlyphs">UBE2L3</text>
<text x="526.3" y="533.94" font-size="8.91" text-anchor="end" textLength="30.77" lengthAdjust="spacingAndGlyphs">UBE2L6</text>
<text x="526.3" y="546.38" font-size="8.91" text-anchor="end" textLength="30.05" lengthAdjust="spacingAndGlyphs">UBE2M</text>
<text x="526.3" y="558.82" font-size="8.91" text-anchor="end" textLength="27.98" lengthAdjust="spacingAndGlyphs">UBE2N</text>
<text x="526.3" y="571.26" font-size="8.91" text-anchor="end" textLength="42.11" lengthAdjust="spacingAndGlyphs">UBE2Q1/2</text>
<text x="526.3" y="583.7" font-size="8.91" text-anchor="end" textLength="37.43" lengthAdjust="spacingAndGlyphs">UBE2QL1</text>
<text x="526.3" y="596.14" font-size="8.91" text-anchor="end" textLength="31.98" lengthAdjust="spacingAndGlyphs">UBE2R2</text>
<text x="526.3" y="608.58" font-size="8.91" text-anchor="end" textLength="26.14" lengthAdjust="spacingAndGlyphs">UBE2S</text>
<text x="526.3" y="621.02" font-size="8.91" text-anchor="end" textLength="26.41" lengthAdjust="spacingAndGlyphs">UBE2T</text>
<text x="526.3" y="633.46" font-size="8.91" text-anchor="end" textLength="41.07" lengthAdjust="spacingAndGlyphs">UBE2V1/2</text>
<text x="526.3" y="645.9" font-size="8.91" text-anchor="end" textLength="30.4" lengthAdjust="spacingAndGlyphs">UBE2W</text>
<text x="526.3" y="658.34" font-size="8.91" text-anchor="end" textLength="26.23" lengthAdjust="spacingAndGlyphs">UBE2Z</text>
<text x="526.3" y="671.35" font-size="8.28" text-anchor="end" textLength="40.25" lengthAdjust="spacingAndGlyphs">heat shock</text>
<text x="675.2" y="447.1" font-size="5.94" text-anchor="middle" font-weight="bold" textLength="18.6" lengthAdjust="spacingAndGlyphs">P&lt;0.05</text>
<text x="675.2" y="459" font-size="5.85" text-anchor="middle" font-weight="bold" textLength="14.08" lengthAdjust="spacingAndGlyphs">HIGH</text>
<rect x="665.2" y="462.2" width="20" height="62" fill="#6c99d1"/>
<rect x="665.2" y="474.6" width="20" height="49.6" fill="#a3bfe4"/>
<rect x="665.2" y="487" width="20" height="37.2" fill="#d6e4f5"/>
<rect x="665.2" y="499.4" width="20" height="24.8" fill="#fde4e6"/>
<rect x="665.2" y="511.8" width="20" height="12.4" fill="#f8696b"/>
<rect x="665.2" y="462.2" width="20.5" height="62" fill="none" stroke="#666" stroke-width="0.6"/>
<text x="675.3" y="470.7" font-size="6.3" text-anchor="middle" font-weight="bold">1</text>
<text x="675.3" y="483.1" font-size="6.3" text-anchor="middle" font-weight="bold" textLength="8.97" lengthAdjust="spacingAndGlyphs">0.5</text>
<text x="675.3" y="495.5" font-size="6.3" text-anchor="middle" font-weight="bold">0</text>
<text x="675.3" y="507.9" font-size="6.3" text-anchor="middle" font-weight="bold" textLength="11.11" lengthAdjust="spacingAndGlyphs">-0.5</text>
<text x="675.3" y="520.3" font-size="6.3" text-anchor="middle" font-weight="bold" textLength="5.69" lengthAdjust="spacingAndGlyphs">-1</text>
<text x="675.2" y="533.2" font-size="5.85" text-anchor="middle" font-weight="bold" textLength="12.84" lengthAdjust="spacingAndGlyphs">LOW</text>
<text x="675.2" y="595.8" font-size="5.76" text-anchor="middle" textLength="17.84" lengthAdjust="spacingAndGlyphs">P&gt;0.05</text>
<rect x="665.2" y="598.4" width="20.5" height="12.4" fill="#bfbfbf" stroke="#555" stroke-width="0.8"/>
<text x="675.2" y="606.7" font-size="5.58" text-anchor="middle" textLength="9.98" lengthAdjust="spacingAndGlyphs">N.S.</text>
<text x="29.2" y="702.5" font-size="18.3" font-weight="bold">e</text>
<line x1="75.6" y1="786.05" x2="255.5" y2="786.05" stroke="#d9d9d9" stroke-width="0.6"/>
<line x1="75.6" y1="757.9" x2="255.5" y2="757.9" stroke="#d9d9d9" stroke-width="0.6"/>
<line x1="75.6" y1="729.75" x2="255.5" y2="729.75" stroke="#d9d9d9" stroke-width="0.6"/>
<line x1="75.6" y1="701.6" x2="255.5" y2="701.6" stroke="#d9d9d9" stroke-width="0.6"/>
<line x1="72" y1="814.2" x2="75.6" y2="814.2" stroke="#000" stroke-width="0.8"/>
<text x="71" y="816.7" font-size="7.2" text-anchor="end">1</text>
<line x1="72" y1="786.05" x2="75.6" y2="786.05" stroke="#000" stroke-width="0.8"/>
<text x="71" y="788.55" font-size="7.2" text-anchor="end">10</text>
<line x1="72" y1="757.9" x2="75.6" y2="757.9" stroke="#000" stroke-width="0.8"/>
<text x="71" y="760.4" font-size="7.2" text-anchor="end">100</text>
<line x1="72" y1="729.75" x2="75.6" y2="729.75" stroke="#000" stroke-width="0.8"/>
<text x="71" y="732.25" font-size="7.2" text-anchor="end">1000</text>
<line x1="72" y1="701.6" x2="75.6" y2="701.6" stroke="#000" stroke-width="0.8"/>
<text x="71" y="704.1" font-size="7.2" text-anchor="end">10000</text>
<rect x="79.3" y="719.28" width="14.7" height="94.92" fill="#a6a6a6"/>
<text x="87.1" y="824.9" font-size="10.2" text-anchor="middle">1</text>
<rect x="101.77" y="726.2" width="14.7" height="88" fill="#00b050"/>
<text x="109.57" y="824.9" font-size="10.2" text-anchor="middle">2</text>
<rect x="124.24" y="736.08" width="14.7" height="78.12" fill="#00b050"/>
<text x="132.04" y="824.9" font-size="10.2" text-anchor="middle">3</text>
<rect x="146.71" y="745.94" width="14.7" height="68.26" fill="#00b050"/>
<text x="154.51" y="824.9" font-size="10.2" text-anchor="middle">4</text>
<rect x="169.18" y="757.19" width="14.7" height="57.01" fill="#ff40ff"/>
<text x="176.98" y="824.9" font-size="10.2" text-anchor="middle">5</text>
<rect x="191.65" y="772.82" width="14.7" height="41.38" fill="#ff40ff"/>
<text x="199.45" y="824.9" font-size="10.2" text-anchor="middle">6</text>
<rect x="214.12" y="776.75" width="14.7" height="37.45" fill="#ff40ff"/>
<text x="221.92" y="824.9" font-size="10.2" text-anchor="middle">7</text>
<rect x="236.59" y="790.07" width="14.7" height="24.13" fill="#ff40ff"/>
<text x="244.39" y="824.9" font-size="10.2" text-anchor="middle">8-9</text>
<line x1="75.6" y1="701.2" x2="75.6" y2="814.2" stroke="#000" stroke-width="1"/>
<line x1="75.1" y1="814.2" x2="255.5" y2="814.2" stroke="#000" stroke-width="1"/>
<text x="154.2" y="835.4" font-size="10.25" text-anchor="middle">Number of E2s regulating each protein subset</text>
<text font-size="9.7" text-anchor="middle" textLength="85.5" lengthAdjust="spacingAndGlyphs" transform="translate(26.2 762.8) rotate(-90)">Number of proteins</text>
<text font-size="9.7" text-anchor="middle" textLength="97.8" lengthAdjust="spacingAndGlyphs" transform="translate(38.4 762.8) rotate(-90)">regulated by E2 RNAi</text>
<text font-size="9.7" text-anchor="middle" textLength="105.1" lengthAdjust="spacingAndGlyphs" transform="translate(50.6 762.8) rotate(-90)">without mRNA changes</text>
<rect x="35.6" y="850.7" width="223.45" height="198.5" fill="none" stroke="#ff40ff" stroke-width="1.9"/>
<text x="41.5" y="870.1" font-size="18.3" font-weight="bold">f</text>
<text x="248.7" y="863.3" font-size="11.84" text-anchor="end" font-weight="bold" font-style="italic" fill="#ff40ff" textLength="142.24" lengthAdjust="spacingAndGlyphs">protein sets modulated by</text>
<text x="250.3" y="875.2" font-size="11.7" text-anchor="end" font-weight="bold" font-style="italic" fill="#ff40ff" textLength="125.93" lengthAdjust="spacingAndGlyphs">5-9 E2s (159 DAVID IDs)</text>
<text x="250.4" y="889.1" font-size="7.92" text-anchor="end" textLength="62.38" lengthAdjust="spacingAndGlyphs">enrichment score</text>
<rect x="211" y="891.9" width="41.9" height="153.4" fill="#5a8ac6"/>
<text x="208.9" y="903.62" font-size="10.08" text-anchor="end" textLength="71.53" lengthAdjust="spacingAndGlyphs">Ubl conjugation</text>
<text x="231.95" y="902.67" font-size="7.88" text-anchor="middle" textLength="15.51" lengthAdjust="spacingAndGlyphs">4.74</text>
<rect x="211" y="907.24" width="41.9" height="138.06" fill="#c6d6ee"/>
<text x="208.9" y="918.96" font-size="10.08" text-anchor="end" textLength="122.75" lengthAdjust="spacingAndGlyphs">transcription factor activity</text>
<text x="231.95" y="918.01" font-size="7.88" text-anchor="middle" textLength="15.51" lengthAdjust="spacingAndGlyphs">2.62</text>
<rect x="211" y="922.58" width="41.9" height="122.72" fill="#c9d8ef"/>
<text x="208.9" y="934.3" font-size="10.08" text-anchor="end" textLength="103.77" lengthAdjust="spacingAndGlyphs">endoplasmic reticulum</text>
<text x="231.95" y="933.35" font-size="7.88" text-anchor="middle" textLength="15.51" lengthAdjust="spacingAndGlyphs">2.58</text>
<rect x="211" y="937.92" width="41.9" height="107.38" fill="#eef2fa"/>
<text x="208.9" y="949.64" font-size="10.08" text-anchor="end" textLength="57.08" lengthAdjust="spacingAndGlyphs">DNA binding</text>
<text x="231.95" y="948.69" font-size="7.88" text-anchor="middle" textLength="15.51" lengthAdjust="spacingAndGlyphs">1.99</text>
<rect x="211" y="953.26" width="41.9" height="92.04" fill="#ffffff"/>
<text x="208.9" y="964.98" font-size="10.08" text-anchor="end" textLength="142.5" lengthAdjust="spacingAndGlyphs">mitochondrial inner membrane</text>
<text x="231.95" y="964.03" font-size="7.88" text-anchor="middle" textLength="15.51" lengthAdjust="spacingAndGlyphs">1.72</text>
<rect x="211" y="968.6" width="41.9" height="76.7" fill="#fef5f5"/>
<text x="208.9" y="980.32" font-size="10.08" text-anchor="end" textLength="53.1" lengthAdjust="spacingAndGlyphs">peroxisome</text>
<text x="231.95" y="979.37" font-size="7.88" text-anchor="middle" textLength="15.51" lengthAdjust="spacingAndGlyphs">1.65</text>
<rect x="211" y="983.94" width="41.9" height="61.36" fill="#fde9ea"/>
<text x="208.9" y="995.66" font-size="10.08" text-anchor="end" textLength="152.46" lengthAdjust="spacingAndGlyphs">transcriptional repressor complex</text>
<text x="231.95" y="994.71" font-size="7.88" text-anchor="middle" textLength="15.51" lengthAdjust="spacingAndGlyphs">1.61</text>
<rect x="211" y="999.28" width="41.9" height="46.02" fill="#fba8a9"/>
<text x="208.9" y="1011" font-size="10.08" text-anchor="end" textLength="88" lengthAdjust="spacingAndGlyphs">cellular senescence</text>
<text x="231.95" y="1010.05" font-size="7.88" text-anchor="middle" textLength="15.51" lengthAdjust="spacingAndGlyphs">1.32</text>
<rect x="211" y="1014.62" width="41.9" height="30.68" fill="#f86e70"/>
<text x="208.9" y="1026.34" font-size="10.08" text-anchor="end" textLength="50.19" lengthAdjust="spacingAndGlyphs">DNA repair</text>
<text x="231.95" y="1025.39" font-size="7.88" text-anchor="middle" textLength="15.51" lengthAdjust="spacingAndGlyphs">1.09</text>
<rect x="211" y="1029.96" width="41.9" height="15.34" fill="#f8696b"/>
<text x="208.9" y="1041.68" font-size="10.08" text-anchor="end" textLength="101.06" lengthAdjust="spacingAndGlyphs">protein kinase binding</text>
<text x="231.95" y="1040.73" font-size="7.88" text-anchor="middle" textLength="15.51" lengthAdjust="spacingAndGlyphs">1.07</text>
<rect x="211" y="891.9" width="41.9" height="153.4" fill="none" stroke="#444" stroke-width="0.7"/>
<rect x="275.25" y="696.8" width="202.95" height="351.9" fill="none" stroke="#00b050" stroke-width="1.9"/>
<text x="280" y="715.2" font-size="18.3" font-weight="bold">g</text>
<text x="465.4" y="709" font-size="11.84" text-anchor="end" font-weight="bold" font-style="italic" fill="#00b050" textLength="142.24" lengthAdjust="spacingAndGlyphs">protein sets modulated by</text>
<text x="467.8" y="721.6" font-size="11.7" text-anchor="end" font-weight="bold" font-style="italic" fill="#00b050" textLength="132.52" lengthAdjust="spacingAndGlyphs">2-4 E2s (2162 DAVID IDs)</text>
<text x="470" y="735" font-size="7.92" text-anchor="end" textLength="62.38" lengthAdjust="spacingAndGlyphs">enrichment score</text>
<rect x="430.4" y="737.5" width="42" height="308" fill="#5a8ac6"/>
<text x="428.3" y="749.25" font-size="10.08" text-anchor="end" textLength="67.63" lengthAdjust="spacingAndGlyphs">mitochondrion</text>
<text x="451.4" y="748.3" font-size="7.88" text-anchor="middle" textLength="15.51" lengthAdjust="spacingAndGlyphs">49.9</text>
<rect x="430.4" y="752.9" width="42" height="292.6" fill="#bbceeb"/>
<text x="428.3" y="764.65" font-size="10.08" text-anchor="end" textLength="71.53" lengthAdjust="spacingAndGlyphs">Ubl conjugation</text>
<text x="451.4" y="763.7" font-size="7.88" text-anchor="middle" textLength="15.51" lengthAdjust="spacingAndGlyphs">20.5</text>
<rect x="430.4" y="768.3" width="42" height="277.2" fill="#c2d3ed"/>
<text x="428.3" y="780.05" font-size="10.08" text-anchor="end" textLength="103.77" lengthAdjust="spacingAndGlyphs">endoplasmic reticulum</text>
<text x="451.4" y="779.1" font-size="7.88" text-anchor="middle" textLength="19.95" lengthAdjust="spacingAndGlyphs">18.42</text>
<rect x="430.4" y="783.7" width="42" height="261.8" fill="#eef3fa"/>
<text x="428.3" y="795.45" font-size="10.08" text-anchor="end" textLength="64.93" lengthAdjust="spacingAndGlyphs">bromodomain</text>
<text x="451.4" y="794.5" font-size="7.88" text-anchor="middle" textLength="15.51" lengthAdjust="spacingAndGlyphs">7.79</text>
<rect x="430.4" y="799.1" width="42" height="246.4" fill="#f3f6fb"/>
<text x="428.3" y="810.85" font-size="10.08" text-anchor="end" textLength="46.62" lengthAdjust="spacingAndGlyphs">zinc finger</text>
<text x="451.4" y="809.9" font-size="7.88" text-anchor="middle" textLength="15.51" lengthAdjust="spacingAndGlyphs">6.38</text>
<rect x="430.4" y="814.5" width="42" height="231" fill="#f4f7fc"/>
<text x="428.3" y="826.25" font-size="10.08" text-anchor="end" textLength="142.5" lengthAdjust="spacingAndGlyphs">mitochondrial inner membrane</text>
<text x="451.4" y="825.3" font-size="7.88" text-anchor="middle" textLength="11.08" lengthAdjust="spacingAndGlyphs">6.2</text>
<rect x="430.4" y="829.9" width="42" height="215.6" fill="#f8fafd"/>
<text x="428.3" y="841.65" font-size="10.08" text-anchor="end" textLength="57.09" lengthAdjust="spacingAndGlyphs">RNA-binding</text>
<text x="451.4" y="840.7" font-size="7.88" text-anchor="middle" textLength="11.08" lengthAdjust="spacingAndGlyphs">5.3</text>
<rect x="430.4" y="845.3" width="42" height="200.2" fill="#f9fbfd"/>
<text x="428.3" y="857.05" font-size="10.08" text-anchor="end" textLength="53.1" lengthAdjust="spacingAndGlyphs">peroxisome</text>
<text x="451.4" y="856.1" font-size="7.88" text-anchor="middle">5</text>
<rect x="430.4" y="860.7" width="42" height="184.8" fill="#fefeff"/>
<text x="428.3" y="872.45" font-size="10.08" text-anchor="end" textLength="50.19" lengthAdjust="spacingAndGlyphs">DNA repair</text>
<text x="451.4" y="871.5" font-size="7.88" text-anchor="middle" textLength="11.08" lengthAdjust="spacingAndGlyphs">3.8</text>
<rect x="430.4" y="876.1" width="42" height="169.4" fill="#ffffff"/>
<text x="428.3" y="887.85" font-size="10.08" text-anchor="end" textLength="101.68" lengthAdjust="spacingAndGlyphs">tricarboxylic acid cycle</text>
<text x="451.4" y="886.9" font-size="7.88" text-anchor="middle" textLength="15.51" lengthAdjust="spacingAndGlyphs">3.58</text>
<rect x="430.4" y="891.5" width="42" height="154" fill="#fdebec"/>
<text x="428.3" y="903.25" font-size="10.08" text-anchor="end" textLength="61.32" lengthAdjust="spacingAndGlyphs">SANT domain</text>
<text x="451.4" y="902.3" font-size="7.88" text-anchor="middle" textLength="15.51" lengthAdjust="spacingAndGlyphs">3.32</text>
<rect x="430.4" y="906.9" width="42" height="138.6" fill="#fbcccd"/>
<text x="428.3" y="918.65" font-size="10.08" text-anchor="end" textLength="97.95" lengthAdjust="spacingAndGlyphs">fatty acid metabolism</text>
<text x="451.4" y="917.7" font-size="7.88" text-anchor="middle" textLength="15.51" lengthAdjust="spacingAndGlyphs">3.08</text>
<rect x="430.4" y="922.3" width="42" height="123.2" fill="#faa2a3"/>
<text x="428.3" y="934.05" font-size="10.08" text-anchor="end" textLength="134.54" lengthAdjust="spacingAndGlyphs">protein N-linked glycosylation</text>
<text x="451.4" y="933.1" font-size="7.88" text-anchor="middle" textLength="15.51" lengthAdjust="spacingAndGlyphs">2.85</text>
<rect x="430.4" y="937.7" width="42" height="107.8" fill="#fa9e9f"/>
<text x="428.3" y="949.45" font-size="10.08" text-anchor="end" textLength="47.56" lengthAdjust="spacingAndGlyphs">iron-sulfur</text>
<text x="451.4" y="948.5" font-size="7.88" text-anchor="middle" textLength="15.51" lengthAdjust="spacingAndGlyphs">2.83</text>
<rect x="430.4" y="953.1" width="42" height="92.4" fill="#f99596"/>
<text x="428.3" y="964.85" font-size="10.08" text-anchor="end" textLength="132.98" lengthAdjust="spacingAndGlyphs">mitochondrial protein import</text>
<text x="451.4" y="963.9" font-size="7.88" text-anchor="middle" textLength="15.51" lengthAdjust="spacingAndGlyphs">2.76</text>
<rect x="430.4" y="968.5" width="42" height="77" fill="#f98586"/>
<text x="428.3" y="980.25" font-size="10.08" text-anchor="end" textLength="58.89" lengthAdjust="spacingAndGlyphs">AMP-binding</text>
<text x="451.4" y="979.3" font-size="7.88" text-anchor="middle" textLength="15.51" lengthAdjust="spacingAndGlyphs">2.62</text>
<rect x="430.4" y="983.9" width="42" height="61.6" fill="#f98384"/>
<text x="428.3" y="995.65" font-size="10.08" text-anchor="end" textLength="139.89" lengthAdjust="spacingAndGlyphs">ubiquitin protein ligase activity</text>
<text x="451.4" y="994.7" font-size="7.88" text-anchor="middle" textLength="15.51" lengthAdjust="spacingAndGlyphs">2.61</text>
<rect x="430.4" y="999.3" width="42" height="46.2" fill="#f98283"/>
<text x="428.3" y="1011.05" font-size="10.08" text-anchor="end" textLength="115.22" lengthAdjust="spacingAndGlyphs">mitochondrial translation</text>
<text x="451.4" y="1010.1" font-size="7.88" text-anchor="middle" textLength="11.08" lengthAdjust="spacingAndGlyphs">2.6</text>
<rect x="430.4" y="1014.7" width="42" height="30.8" fill="#f97c7e"/>
<text x="428.3" y="1026.45" font-size="10.08" text-anchor="end" textLength="129.46" lengthAdjust="spacingAndGlyphs">nucleocytoplasmic transport</text>
<text x="451.4" y="1025.5" font-size="7.88" text-anchor="middle" textLength="15.51" lengthAdjust="spacingAndGlyphs">2.55</text>
<rect x="430.4" y="1030.1" width="42" height="15.4" fill="#f8696b"/>
<text x="428.3" y="1041.85" font-size="10.08" text-anchor="end" textLength="65.14" lengthAdjust="spacingAndGlyphs">mRNA splicing</text>
<text x="451.4" y="1040.9" font-size="7.88" text-anchor="middle" textLength="15.51" lengthAdjust="spacingAndGlyphs">2.38</text>
<rect x="430.4" y="737.5" width="42" height="308" fill="none" stroke="#444" stroke-width="0.7"/>
<rect x="494.8" y="696.7" width="187.4" height="351.9" fill="none" stroke="#a6a6a6" stroke-width="1.7"/>
<text x="499.5" y="715.7" font-size="18.3" font-weight="bold">h</text>
<text x="668.4" y="709.6" font-size="11.84" text-anchor="end" font-weight="bold" font-style="italic" fill="#7f7f7f" textLength="142.24" lengthAdjust="spacingAndGlyphs">protein sets modulated by</text>
<text x="671.8" y="721.6" font-size="11.7" text-anchor="end" font-weight="bold" font-style="italic" fill="#7f7f7f" textLength="116.82" lengthAdjust="spacingAndGlyphs">1 E2 (2355 DAVID IDs)</text>
<text x="674" y="734.7" font-size="7.92" text-anchor="end" textLength="62.38" lengthAdjust="spacingAndGlyphs">enrichment score</text>
<rect x="634.5" y="737.9" width="41.8" height="308.3" fill="#5a8ac6"/>
<text x="632.8" y="749.66" font-size="10.08" text-anchor="end" textLength="67.63" lengthAdjust="spacingAndGlyphs">mitochondrion</text>
<text x="655.4" y="748.71" font-size="7.88" text-anchor="middle" textLength="19.95" lengthAdjust="spacingAndGlyphs">31.74</text>
<rect x="634.5" y="753.31" width="41.8" height="292.89" fill="#abc3e6"/>
<text x="632.8" y="765.07" font-size="10.08" text-anchor="end" textLength="71.53" lengthAdjust="spacingAndGlyphs">Ubl conjugation</text>
<text x="655.4" y="764.12" font-size="7.88" text-anchor="middle" textLength="19.95" lengthAdjust="spacingAndGlyphs">16.91</text>
<rect x="634.5" y="768.73" width="41.8" height="277.47" fill="#dfe8f6"/>
<text x="632.8" y="780.49" font-size="10.08" text-anchor="end" textLength="50.19" lengthAdjust="spacingAndGlyphs">DNA repair</text>
<text x="655.4" y="779.54" font-size="7.88" text-anchor="middle" textLength="15.51" lengthAdjust="spacingAndGlyphs">7.92</text>
<rect x="634.5" y="784.14" width="41.8" height="262.06" fill="#e8eef8"/>
<text x="632.8" y="795.9" font-size="10.08" text-anchor="end" textLength="115.22" lengthAdjust="spacingAndGlyphs">mitochondrial translation</text>
<text x="655.4" y="794.95" font-size="7.88" text-anchor="middle" textLength="15.51" lengthAdjust="spacingAndGlyphs">6.17</text>
<rect x="634.5" y="799.56" width="41.8" height="246.64" fill="#ecf1f9"/>
<text x="632.8" y="811.32" font-size="10.08" text-anchor="end" textLength="65.14" lengthAdjust="spacingAndGlyphs">mRNA splicing</text>
<text x="655.4" y="810.37" font-size="7.88" text-anchor="middle" textLength="15.51" lengthAdjust="spacingAndGlyphs">5.44</text>
<rect x="634.5" y="814.98" width="41.8" height="231.23" fill="#f1f5fb"/>
<text x="632.8" y="826.73" font-size="10.08" text-anchor="end" textLength="103.77" lengthAdjust="spacingAndGlyphs">endoplasmic reticulum</text>
<text x="655.4" y="825.78" font-size="7.88" text-anchor="middle" textLength="15.51" lengthAdjust="spacingAndGlyphs">4.47</text>
<rect x="634.5" y="830.39" width="41.8" height="215.81" fill="#f6f8fc"/>
<text x="632.8" y="842.15" font-size="10.08" text-anchor="end" textLength="53.32" lengthAdjust="spacingAndGlyphs">centromere</text>
<text x="655.4" y="841.2" font-size="7.88" text-anchor="middle" textLength="15.51" lengthAdjust="spacingAndGlyphs">3.66</text>
<rect x="634.5" y="845.8" width="41.8" height="200.4" fill="#f6f8fc"/>
<text x="632.8" y="857.56" font-size="10.08" text-anchor="end" textLength="85.63" lengthAdjust="spacingAndGlyphs">nucleotide-binding</text>
<text x="655.4" y="856.61" font-size="7.88" text-anchor="middle" textLength="15.51" lengthAdjust="spacingAndGlyphs">3.65</text>
<rect x="634.5" y="861.22" width="41.8" height="184.98" fill="#fafbfe"/>
<text x="632.8" y="872.98" font-size="10.08" text-anchor="end" textLength="55.36" lengthAdjust="spacingAndGlyphs">nucleosome</text>
<text x="655.4" y="872.03" font-size="7.88" text-anchor="middle" textLength="15.51" lengthAdjust="spacingAndGlyphs">2.96</text>
<rect x="634.5" y="876.63" width="41.8" height="169.57" fill="#fafbfe"/>
<text x="632.8" y="888.39" font-size="10.08" text-anchor="end" textLength="129.2" lengthAdjust="spacingAndGlyphs">pleckstrin homology domain</text>
<text x="655.4" y="887.44" font-size="7.88" text-anchor="middle" textLength="15.51" lengthAdjust="spacingAndGlyphs">2.91</text>
<rect x="634.5" y="892.05" width="41.8" height="154.15" fill="#fcfbfd"/>
<text x="632.8" y="903.81" font-size="10.08" text-anchor="end" textLength="55.14" lengthAdjust="spacingAndGlyphs">flavoprotein</text>
<text x="655.4" y="902.86" font-size="7.88" text-anchor="middle" textLength="15.51" lengthAdjust="spacingAndGlyphs">2.86</text>
<rect x="634.5" y="907.47" width="41.8" height="138.74" fill="#fef5f6"/>
<text x="632.8" y="919.22" font-size="10.08" text-anchor="end" textLength="36.56" lengthAdjust="spacingAndGlyphs">helicase</text>
<text x="655.4" y="918.27" font-size="7.88" text-anchor="middle" textLength="15.51" lengthAdjust="spacingAndGlyphs">2.84</text>
<rect x="634.5" y="922.88" width="41.8" height="123.32" fill="#fcdcdd"/>
<text x="632.8" y="934.64" font-size="10.08" text-anchor="end" textLength="47.56" lengthAdjust="spacingAndGlyphs">iron-sulfur</text>
<text x="655.4" y="933.69" font-size="7.88" text-anchor="middle" textLength="15.51" lengthAdjust="spacingAndGlyphs">2.72</text>
<rect x="634.5" y="938.3" width="41.8" height="107.9" fill="#fbb8b9"/>
<text x="632.8" y="950.05" font-size="10.08" text-anchor="end" textLength="40.53" lengthAdjust="spacingAndGlyphs">cell cycle</text>
<text x="655.4" y="949.1" font-size="7.88" text-anchor="middle" textLength="15.51" lengthAdjust="spacingAndGlyphs">2.53</text>
<rect x="634.5" y="953.71" width="41.8" height="92.49" fill="#fa9fa0"/>
<text x="632.8" y="965.47" font-size="10.08" text-anchor="end" textLength="129.46" lengthAdjust="spacingAndGlyphs">nucleocytoplasmic transport</text>
<text x="655.4" y="964.52" font-size="7.88" text-anchor="middle" textLength="15.51" lengthAdjust="spacingAndGlyphs">2.37</text>
<rect x="634.5" y="969.12" width="41.8" height="77.08" fill="#f98f90"/>
<text x="632.8" y="980.88" font-size="10.08" text-anchor="end" textLength="55.83" lengthAdjust="spacingAndGlyphs">kelch repeat</text>
<text x="655.4" y="979.93" font-size="7.88" text-anchor="middle" textLength="15.51" lengthAdjust="spacingAndGlyphs">2.27</text>
<rect x="634.5" y="984.54" width="41.8" height="61.66" fill="#f98c8d"/>
<text x="632.8" y="996.3" font-size="10.08" text-anchor="end" textLength="36.69" lengthAdjust="spacingAndGlyphs">spectrin</text>
<text x="655.4" y="995.35" font-size="7.88" text-anchor="middle" textLength="15.51" lengthAdjust="spacingAndGlyphs">2.25</text>
<rect x="634.5" y="999.96" width="41.8" height="46.25" fill="#f87476"/>
<text x="632.8" y="1011.71" font-size="10.08" text-anchor="end" textLength="97.95" lengthAdjust="spacingAndGlyphs">fatty acid metabolism</text>
<text x="655.4" y="1010.76" font-size="7.88" text-anchor="middle" textLength="15.51" lengthAdjust="spacingAndGlyphs">2.07</text>
<rect x="634.5" y="1015.37" width="41.8" height="30.83" fill="#f86e70"/>
<text x="632.8" y="1027.13" font-size="10.08" text-anchor="end" textLength="82.43" lengthAdjust="spacingAndGlyphs">mediator complex</text>
<text x="655.4" y="1026.18" font-size="7.88" text-anchor="middle" textLength="15.51" lengthAdjust="spacingAndGlyphs">2.03</text>
<rect x="634.5" y="1030.79" width="41.8" height="15.41" fill="#f8696b"/>
<text x="632.8" y="1042.54" font-size="10.08" text-anchor="end" textLength="53.1" lengthAdjust="spacingAndGlyphs">peroxisome</text>
<text x="655.4" y="1041.59" font-size="7.88" text-anchor="middle">2</text>
<rect x="634.5" y="737.9" width="41.8" height="308.3" fill="none" stroke="#444" stroke-width="0.7"/>
<text x="15.3" y="914.8" font-size="5.85" text-anchor="middle" font-weight="bold" textLength="14.08" lengthAdjust="spacingAndGlyphs">HIGH</text>
<rect x="5.3" y="918.2" width="19.6" height="62.1" fill="#6c99d1"/>
<rect x="5.3" y="930.62" width="19.6" height="49.68" fill="#a3bfe4"/>
<rect x="5.3" y="943.04" width="19.6" height="37.26" fill="#d6e4f5"/>
<rect x="5.3" y="955.46" width="19.6" height="24.84" fill="#fde4e6"/>
<rect x="5.3" y="967.88" width="19.6" height="12.42" fill="#f8696b"/>
<rect x="5.3" y="918.2" width="19.6" height="62.1" fill="none" stroke="#666" stroke-width="0.6"/>
<text x="15.2" y="989" font-size="5.85" text-anchor="middle" font-weight="bold" textLength="12.84" lengthAdjust="spacingAndGlyphs">LOW</text>
</svg>
</body></html>
